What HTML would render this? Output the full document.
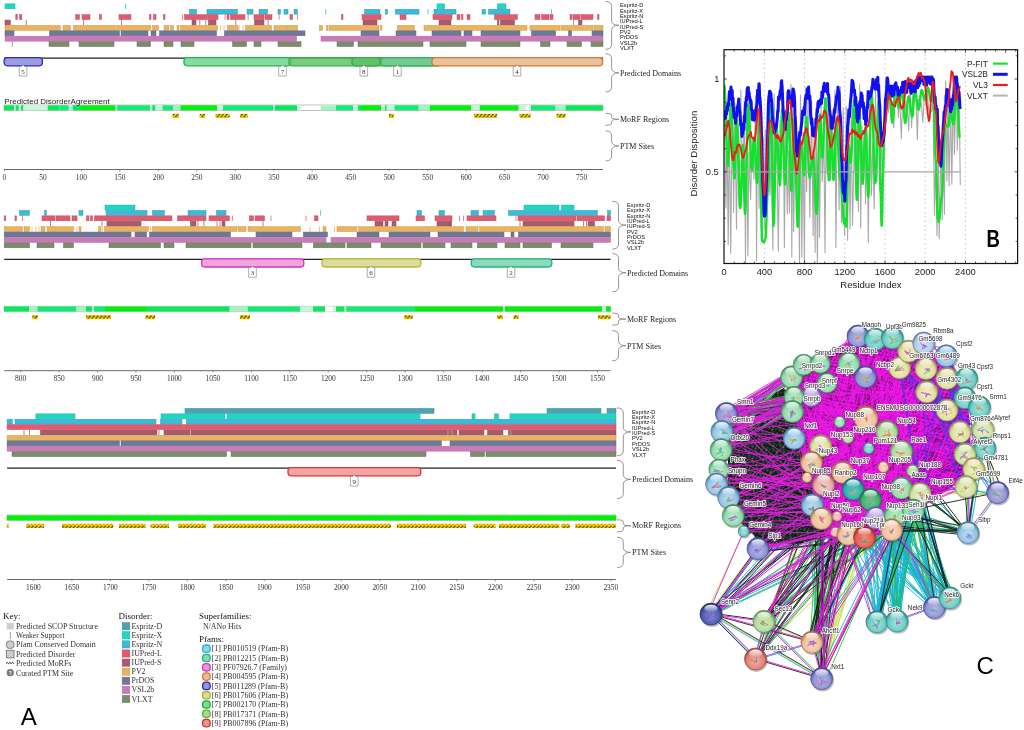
<!DOCTYPE html>
<html><head><meta charset="utf-8"><title>Figure</title><style>
html,body{margin:0;padding:0;background:#fff;}
body{width:1024px;height:730px;overflow:hidden;}
svg{display:block;}
text{font-family:"Liberation Sans",sans-serif;}
.sl{font-size:5.7px;fill:#111;}
.rl{font-family:"Liberation Serif",serif;font-size:8px;fill:#222;}
.ag{font-size:8px;fill:#222;}
.tk{font-family:"Liberation Serif",serif;font-size:7.4px;fill:#333;text-anchor:middle;}
.dl{font-family:"Liberation Serif",serif;font-size:7px;fill:#333;text-anchor:middle;}
.lh{font-family:"Liberation Serif",serif;font-size:9px;fill:#111;}
.li{font-family:"Liberation Serif",serif;font-size:7.9px;fill:#333;}
.q{font-size:5px;fill:#fff;text-anchor:middle;font-weight:bold;}
.big{font-size:24px;fill:#000;}
.bt{font-size:9.3px;fill:#222;text-anchor:middle;}
.bt2{font-size:9.6px;fill:#222;text-anchor:middle;}
.blg{font-size:8.3px;fill:#222;text-anchor:end;}
.bigb{font-size:23px;font-weight:bold;fill:#000;}
.nl{font-size:6.3px;fill:#1e1e1e;text-anchor:middle;paint-order:stroke;stroke:#fff;stroke-width:1.8px;stroke-opacity:0.85;stroke-linejoin:round;}
.bigc{font-size:24px;fill:#000;}
</style></head>
<body>
<svg width="1024" height="730" viewBox="0 0 1024 730">
<defs>
<pattern id="morf" width="3.8" height="4.2" patternUnits="userSpaceOnUse">
<rect width="3.8" height="4.2" fill="#ffd800"/>
<path d="M0.2,3.1 L1.4,3.1 L2.4,1.1 L3.6,1.1" stroke="#3a2e10" stroke-width="1.0" fill="none"/>
</pattern>
</defs>
<g id="panelA">
<rect x="5.0" y="3.85" width="10.0" height="4.90" fill="#1fd7c2" stroke="#19b4a3" stroke-width="0.5"/>
<rect x="125.0" y="3.60" width="1.2" height="5.40" fill="#1fd7c2" opacity="0.75"/>
<rect x="437.0" y="3.85" width="7.5" height="4.90" fill="#1fd7c2" stroke="#19b4a3" stroke-width="0.5"/>
<rect x="497.5" y="3.85" width="8.5" height="4.90" fill="#1fd7c2" stroke="#19b4a3" stroke-width="0.5"/>
<rect x="189.5" y="9.25" width="7.0" height="4.90" fill="#39bbd9" stroke="#2f9db7" stroke-width="0.5"/>
<rect x="207.0" y="9.25" width="30.5" height="4.90" fill="#39bbd9" stroke="#2f9db7" stroke-width="0.5"/>
<rect x="247.0" y="9.25" width="6.0" height="4.90" fill="#39bbd9" stroke="#2f9db7" stroke-width="0.5"/>
<rect x="259.0" y="9.25" width="8.5" height="4.90" fill="#39bbd9" stroke="#2f9db7" stroke-width="0.5"/>
<rect x="278.0" y="9.25" width="2.5" height="4.90" fill="#39bbd9" stroke="#2f9db7" stroke-width="0.5"/>
<rect x="284.0" y="9.25" width="4.0" height="4.90" fill="#39bbd9" stroke="#2f9db7" stroke-width="0.5"/>
<rect x="294.0" y="9.25" width="3.5" height="4.90" fill="#39bbd9" stroke="#2f9db7" stroke-width="0.5"/>
<rect x="325.3" y="9.00" width="1.0" height="5.40" fill="#39bbd9" opacity="0.75"/>
<rect x="364.5" y="9.25" width="15.5" height="4.90" fill="#39bbd9" stroke="#2f9db7" stroke-width="0.5"/>
<rect x="385.5" y="9.25" width="2.0" height="4.90" fill="#39bbd9" stroke="#2f9db7" stroke-width="0.5"/>
<rect x="395.5" y="9.25" width="23.5" height="4.90" fill="#39bbd9" stroke="#2f9db7" stroke-width="0.5"/>
<rect x="427.6" y="9.00" width="1.0" height="5.40" fill="#39bbd9" opacity="0.75"/>
<rect x="434.0" y="9.25" width="22.0" height="4.90" fill="#39bbd9" stroke="#2f9db7" stroke-width="0.5"/>
<rect x="482.0" y="9.25" width="3.5" height="4.90" fill="#39bbd9" stroke="#2f9db7" stroke-width="0.5"/>
<rect x="488.5" y="9.25" width="21.5" height="4.90" fill="#39bbd9" stroke="#2f9db7" stroke-width="0.5"/>
<rect x="551.0" y="9.00" width="1.0" height="5.40" fill="#39bbd9" opacity="0.75"/>
<rect x="15.8" y="14.65" width="1.5" height="4.90" fill="#e05b70" stroke="#bf4b5e" stroke-width="0.5"/>
<rect x="19.5" y="14.65" width="2.4" height="4.90" fill="#e05b70" stroke="#bf4b5e" stroke-width="0.5"/>
<rect x="75.7" y="14.65" width="3.8" height="4.90" fill="#e05b70" stroke="#bf4b5e" stroke-width="0.5"/>
<rect x="82.0" y="14.65" width="8.0" height="4.90" fill="#e05b70" stroke="#bf4b5e" stroke-width="0.5"/>
<rect x="99.5" y="14.65" width="2.0" height="4.90" fill="#e05b70" stroke="#bf4b5e" stroke-width="0.5"/>
<rect x="119.0" y="14.65" width="12.0" height="4.90" fill="#e05b70" stroke="#bf4b5e" stroke-width="0.5"/>
<rect x="149.5" y="14.65" width="1.5" height="4.90" fill="#e05b70" stroke="#bf4b5e" stroke-width="0.5"/>
<rect x="153.5" y="14.65" width="2.5" height="4.90" fill="#e05b70" stroke="#bf4b5e" stroke-width="0.5"/>
<rect x="163.5" y="14.65" width="1.5" height="4.90" fill="#e05b70" stroke="#bf4b5e" stroke-width="0.5"/>
<rect x="182.0" y="14.40" width="1.0" height="5.40" fill="#e05b70" opacity="0.75"/>
<rect x="184.5" y="14.65" width="23.0" height="4.90" fill="#e05b70" stroke="#bf4b5e" stroke-width="0.5"/>
<rect x="208.0" y="14.65" width="10.0" height="4.90" fill="#e05b70" stroke="#bf4b5e" stroke-width="0.5"/>
<rect x="224.5" y="14.40" width="1.0" height="5.40" fill="#e05b70" opacity="0.75"/>
<rect x="227.0" y="14.65" width="2.0" height="4.90" fill="#e05b70" stroke="#bf4b5e" stroke-width="0.5"/>
<rect x="230.5" y="14.65" width="14.5" height="4.90" fill="#e05b70" stroke="#bf4b5e" stroke-width="0.5"/>
<rect x="247.6" y="14.40" width="1.0" height="5.40" fill="#e05b70" opacity="0.75"/>
<rect x="254.0" y="14.65" width="10.0" height="4.90" fill="#e05b70" stroke="#bf4b5e" stroke-width="0.5"/>
<rect x="265.0" y="14.65" width="7.0" height="4.90" fill="#e05b70" stroke="#bf4b5e" stroke-width="0.5"/>
<rect x="278.6" y="14.40" width="1.0" height="5.40" fill="#e05b70" opacity="0.75"/>
<rect x="290.0" y="14.65" width="2.5" height="4.90" fill="#e05b70" stroke="#bf4b5e" stroke-width="0.5"/>
<rect x="297.0" y="14.40" width="1.0" height="5.40" fill="#e05b70" opacity="0.75"/>
<rect x="341.5" y="14.65" width="1.5" height="4.90" fill="#e05b70" stroke="#bf4b5e" stroke-width="0.5"/>
<rect x="362.0" y="14.65" width="19.0" height="4.90" fill="#e05b70" stroke="#bf4b5e" stroke-width="0.5"/>
<rect x="400.0" y="14.65" width="6.0" height="4.90" fill="#e05b70" stroke="#bf4b5e" stroke-width="0.5"/>
<rect x="433.0" y="14.65" width="19.0" height="4.90" fill="#e05b70" stroke="#bf4b5e" stroke-width="0.5"/>
<rect x="457.0" y="14.65" width="3.0" height="4.90" fill="#e05b70" stroke="#bf4b5e" stroke-width="0.5"/>
<rect x="461.5" y="14.65" width="1.5" height="4.90" fill="#e05b70" stroke="#bf4b5e" stroke-width="0.5"/>
<rect x="467.0" y="14.65" width="3.0" height="4.90" fill="#e05b70" stroke="#bf4b5e" stroke-width="0.5"/>
<rect x="494.5" y="14.65" width="23.0" height="4.90" fill="#e05b70" stroke="#bf4b5e" stroke-width="0.5"/>
<rect x="535.0" y="14.65" width="5.0" height="4.90" fill="#e05b70" stroke="#bf4b5e" stroke-width="0.5"/>
<rect x="541.5" y="14.65" width="7.5" height="4.90" fill="#e05b70" stroke="#bf4b5e" stroke-width="0.5"/>
<rect x="550.0" y="14.65" width="3.0" height="4.90" fill="#e05b70" stroke="#bf4b5e" stroke-width="0.5"/>
<rect x="570.0" y="14.65" width="2.0" height="4.90" fill="#e05b70" stroke="#bf4b5e" stroke-width="0.5"/>
<rect x="573.0" y="14.65" width="7.0" height="4.90" fill="#e05b70" stroke="#bf4b5e" stroke-width="0.5"/>
<rect x="581.0" y="14.65" width="12.0" height="4.90" fill="#e05b70" stroke="#bf4b5e" stroke-width="0.5"/>
<rect x="597.5" y="14.65" width="1.5" height="4.90" fill="#e05b70" stroke="#bf4b5e" stroke-width="0.5"/>
<rect x="5.0" y="20.05" width="5.3" height="4.90" fill="#aa5b6b" stroke="#8e4b59" stroke-width="0.5"/>
<rect x="25.7" y="19.80" width="1.1" height="5.40" fill="#aa5b6b" opacity="0.75"/>
<rect x="83.0" y="19.80" width="1.0" height="5.40" fill="#aa5b6b" opacity="0.75"/>
<rect x="121.0" y="19.80" width="1.0" height="5.40" fill="#aa5b6b" opacity="0.75"/>
<rect x="192.0" y="20.05" width="4.0" height="4.90" fill="#aa5b6b" stroke="#8e4b59" stroke-width="0.5"/>
<rect x="199.3" y="19.80" width="1.0" height="5.40" fill="#aa5b6b" opacity="0.75"/>
<rect x="205.3" y="19.80" width="1.0" height="5.40" fill="#aa5b6b" opacity="0.75"/>
<rect x="208.5" y="20.05" width="7.5" height="4.90" fill="#aa5b6b" stroke="#8e4b59" stroke-width="0.5"/>
<rect x="235.3" y="19.80" width="1.0" height="5.40" fill="#aa5b6b" opacity="0.75"/>
<rect x="254.5" y="20.05" width="9.5" height="4.90" fill="#aa5b6b" stroke="#8e4b59" stroke-width="0.5"/>
<rect x="267.6" y="19.80" width="1.0" height="5.40" fill="#aa5b6b" opacity="0.75"/>
<rect x="363.0" y="20.05" width="14.0" height="4.90" fill="#aa5b6b" stroke="#8e4b59" stroke-width="0.5"/>
<rect x="439.0" y="20.05" width="12.0" height="4.90" fill="#aa5b6b" stroke="#8e4b59" stroke-width="0.5"/>
<rect x="497.5" y="20.05" width="1.5" height="4.90" fill="#aa5b6b" stroke="#8e4b59" stroke-width="0.5"/>
<rect x="500.5" y="20.05" width="14.0" height="4.90" fill="#aa5b6b" stroke="#8e4b59" stroke-width="0.5"/>
<rect x="573.0" y="19.80" width="1.0" height="5.40" fill="#aa5b6b" opacity="0.75"/>
<rect x="578.5" y="20.05" width="3.5" height="4.90" fill="#aa5b6b" stroke="#8e4b59" stroke-width="0.5"/>
<rect x="5.0" y="25.45" width="55.5" height="4.90" fill="#e9b35f" stroke="#c8974f" stroke-width="0.5"/>
<rect x="63.0" y="25.45" width="7.5" height="4.90" fill="#e9b35f" stroke="#c8974f" stroke-width="0.5"/>
<rect x="73.5" y="25.45" width="43.0" height="4.90" fill="#e9b35f" stroke="#c8974f" stroke-width="0.5"/>
<rect x="117.5" y="25.45" width="33.3" height="4.90" fill="#e9b35f" stroke="#c8974f" stroke-width="0.5"/>
<rect x="152.5" y="25.45" width="6.0" height="4.90" fill="#e9b35f" stroke="#c8974f" stroke-width="0.5"/>
<rect x="164.0" y="25.45" width="5.0" height="4.90" fill="#e9b35f" stroke="#c8974f" stroke-width="0.5"/>
<rect x="170.5" y="25.45" width="3.0" height="4.90" fill="#e9b35f" stroke="#c8974f" stroke-width="0.5"/>
<rect x="177.0" y="25.45" width="2.0" height="4.90" fill="#e9b35f" stroke="#c8974f" stroke-width="0.5"/>
<rect x="180.5" y="25.45" width="37.0" height="4.90" fill="#e9b35f" stroke="#c8974f" stroke-width="0.5"/>
<rect x="220.0" y="25.20" width="1.0" height="5.40" fill="#e9b35f" opacity="0.75"/>
<rect x="223.5" y="25.20" width="1.0" height="5.40" fill="#e9b35f" opacity="0.75"/>
<rect x="227.5" y="25.45" width="10.5" height="4.90" fill="#e9b35f" stroke="#c8974f" stroke-width="0.5"/>
<rect x="238.6" y="25.20" width="1.2" height="5.40" fill="#e9b35f" opacity="0.75"/>
<rect x="242.5" y="25.20" width="1.0" height="5.40" fill="#e9b35f" opacity="0.75"/>
<rect x="245.5" y="25.45" width="26.0" height="4.90" fill="#e9b35f" stroke="#c8974f" stroke-width="0.5"/>
<rect x="274.0" y="25.45" width="12.5" height="4.90" fill="#e9b35f" stroke="#c8974f" stroke-width="0.5"/>
<rect x="287.0" y="25.45" width="10.5" height="4.90" fill="#e9b35f" stroke="#c8974f" stroke-width="0.5"/>
<rect x="319.5" y="25.45" width="3.0" height="4.90" fill="#e9b35f" stroke="#c8974f" stroke-width="0.5"/>
<rect x="326.5" y="25.45" width="1.5" height="4.90" fill="#e9b35f" stroke="#c8974f" stroke-width="0.5"/>
<rect x="329.0" y="25.45" width="50.0" height="4.90" fill="#e9b35f" stroke="#c8974f" stroke-width="0.5"/>
<rect x="380.5" y="25.45" width="1.5" height="4.90" fill="#e9b35f" stroke="#c8974f" stroke-width="0.5"/>
<rect x="397.5" y="25.45" width="17.0" height="4.90" fill="#e9b35f" stroke="#c8974f" stroke-width="0.5"/>
<rect x="424.0" y="25.45" width="103.0" height="4.90" fill="#e9b35f" stroke="#c8974f" stroke-width="0.5"/>
<rect x="530.0" y="25.45" width="30.0" height="4.90" fill="#e9b35f" stroke="#c8974f" stroke-width="0.5"/>
<rect x="561.0" y="25.45" width="32.0" height="4.90" fill="#e9b35f" stroke="#c8974f" stroke-width="0.5"/>
<rect x="594.0" y="25.45" width="9.0" height="4.90" fill="#e9b35f" stroke="#c8974f" stroke-width="0.5"/>
<rect x="5.0" y="30.85" width="9.0" height="4.90" fill="#6f7898" stroke="#5c6480" stroke-width="0.5"/>
<rect x="49.5" y="30.85" width="70.0" height="4.90" fill="#6f7898" stroke="#5c6480" stroke-width="0.5"/>
<rect x="121.0" y="30.85" width="27.0" height="4.90" fill="#6f7898" stroke="#5c6480" stroke-width="0.5"/>
<rect x="151.0" y="30.85" width="5.0" height="4.90" fill="#6f7898" stroke="#5c6480" stroke-width="0.5"/>
<rect x="159.5" y="30.85" width="57.0" height="4.90" fill="#6f7898" stroke="#5c6480" stroke-width="0.5"/>
<rect x="224.5" y="30.85" width="80.5" height="4.90" fill="#6f7898" stroke="#5c6480" stroke-width="0.5"/>
<rect x="361.0" y="30.85" width="18.0" height="4.90" fill="#6f7898" stroke="#5c6480" stroke-width="0.5"/>
<rect x="396.0" y="30.85" width="20.0" height="4.90" fill="#6f7898" stroke="#5c6480" stroke-width="0.5"/>
<rect x="432.0" y="30.85" width="29.0" height="4.90" fill="#6f7898" stroke="#5c6480" stroke-width="0.5"/>
<rect x="464.0" y="30.85" width="8.0" height="4.90" fill="#6f7898" stroke="#5c6480" stroke-width="0.5"/>
<rect x="481.0" y="30.85" width="39.0" height="4.90" fill="#6f7898" stroke="#5c6480" stroke-width="0.5"/>
<rect x="531.5" y="30.85" width="24.0" height="4.90" fill="#6f7898" stroke="#5c6480" stroke-width="0.5"/>
<rect x="568.5" y="30.85" width="3.0" height="4.90" fill="#6f7898" stroke="#5c6480" stroke-width="0.5"/>
<rect x="592.0" y="30.85" width="11.0" height="4.90" fill="#6f7898" stroke="#5c6480" stroke-width="0.5"/>
<rect x="5.0" y="36.25" width="291.5" height="4.90" fill="#cc79ba" stroke="#ad669d" stroke-width="0.5"/>
<rect x="321.0" y="36.25" width="282.0" height="4.90" fill="#cc79ba" stroke="#ad669d" stroke-width="0.5"/>
<rect x="11.8" y="41.40" width="1.0" height="5.40" fill="#7b8b6b" opacity="0.75"/>
<rect x="49.0" y="41.65" width="20.0" height="4.90" fill="#7b8b6b" stroke="#67755a" stroke-width="0.5"/>
<rect x="79.0" y="41.65" width="35.0" height="4.90" fill="#7b8b6b" stroke="#67755a" stroke-width="0.5"/>
<rect x="137.0" y="41.65" width="13.0" height="4.90" fill="#7b8b6b" stroke="#67755a" stroke-width="0.5"/>
<rect x="150.0" y="41.40" width="1.0" height="5.40" fill="#7b8b6b" opacity="0.75"/>
<rect x="164.0" y="41.65" width="9.0" height="4.90" fill="#7b8b6b" stroke="#67755a" stroke-width="0.5"/>
<rect x="181.0" y="41.65" width="13.0" height="4.90" fill="#7b8b6b" stroke="#67755a" stroke-width="0.5"/>
<rect x="232.5" y="41.65" width="14.0" height="4.90" fill="#7b8b6b" stroke="#67755a" stroke-width="0.5"/>
<rect x="254.0" y="41.65" width="7.0" height="4.90" fill="#7b8b6b" stroke="#67755a" stroke-width="0.5"/>
<rect x="278.0" y="41.65" width="23.0" height="4.90" fill="#7b8b6b" stroke="#67755a" stroke-width="0.5"/>
<rect x="300.0" y="41.40" width="1.0" height="5.40" fill="#7b8b6b" opacity="0.75"/>
<rect x="337.0" y="41.65" width="16.5" height="4.90" fill="#7b8b6b" stroke="#67755a" stroke-width="0.5"/>
<rect x="358.0" y="41.65" width="65.0" height="4.90" fill="#7b8b6b" stroke="#67755a" stroke-width="0.5"/>
<rect x="430.0" y="41.65" width="36.0" height="4.90" fill="#7b8b6b" stroke="#67755a" stroke-width="0.5"/>
<rect x="481.0" y="41.65" width="39.0" height="4.90" fill="#7b8b6b" stroke="#67755a" stroke-width="0.5"/>
<rect x="540.5" y="41.65" width="9.5" height="4.90" fill="#7b8b6b" stroke="#67755a" stroke-width="0.5"/>
<rect x="567.0" y="41.65" width="14.5" height="4.90" fill="#7b8b6b" stroke="#67755a" stroke-width="0.5"/>
<rect x="591.0" y="41.65" width="12.0" height="4.90" fill="#7b8b6b" stroke="#67755a" stroke-width="0.5"/>
<path d="M605.5,1.4 Q611.6,1.4 611.6,6.4 L611.6,20.3 Q611.6,25.3 619.0,25.3 Q611.6,25.3 611.6,30.3 L611.6,44.3 Q611.6,49.3 605.5,49.3" fill="none" stroke="#8a8a8a" stroke-width="0.9"/>
<text x="620" y="7.20" class="sl">Espritz-D</text>
<text x="620" y="12.55" class="sl">Espritz-X</text>
<text x="620" y="17.90" class="sl">Espritz-N</text>
<text x="620" y="23.25" class="sl">IUPred-L</text>
<text x="620" y="28.60" class="sl">IUPred-S</text>
<text x="620" y="33.95" class="sl">PV2</text>
<text x="620" y="39.30" class="sl">PrDOS</text>
<text x="620" y="44.65" class="sl">VSL2b</text>
<text x="620" y="50.00" class="sl">VLXT</text>
<line x1="4" y1="58.1" x2="603" y2="58.1" stroke="#222" stroke-width="1.2"/>
<rect x="4.1" y="57.6" width="38.3" height="8.2" rx="3.2" ry="3.2" fill="#9c9ce0" fill-opacity="1.0" stroke="#2a2ab7" stroke-width="1.3"/>
<rect x="184.0" y="57.6" width="107.0" height="8.2" rx="3.2" ry="3.2" fill="#86dba2" fill-opacity="1.0" stroke="#25b53e" stroke-width="1.3"/>
<rect x="289.0" y="57.6" width="149.0" height="8.2" rx="3.2" ry="3.2" fill="#5fc367" fill-opacity="0.85" stroke="#3bab48" stroke-width="1.3"/>
<rect x="381.0" y="57.6" width="60.0" height="8.2" rx="3.2" ry="3.2" fill="#72c992" fill-opacity="0.8" stroke="#33b262" stroke-width="1.3"/>
<rect x="432.0" y="57.6" width="170.6" height="8.2" rx="3.2" ry="3.2" fill="#e9c09d" fill-opacity="1.0" stroke="#d57a2b" stroke-width="1.3"/>
<rect x="352.0" y="57.6" width="28.0" height="8.2" rx="3.2" ry="3.2" fill="#5fc367" fill-opacity="1.0" stroke="#3bab48" stroke-width="1.3"/>
<path d="M19.2,66.4 L21.6,66.4 L23.0,64.8 L24.4,66.4 L26.8,66.4 L26.8,76.0 L19.2,76.0 Z" fill="#fff" stroke="#777" stroke-width="0.6"/><text x="23.0" y="73.6" class="dl">5</text>
<path d="M278.7,66.4 L281.1,66.4 L282.5,64.8 L283.9,66.4 L286.3,66.4 L286.3,76.0 L278.7,76.0 Z" fill="#fff" stroke="#777" stroke-width="0.6"/><text x="282.5" y="73.6" class="dl">7</text>
<path d="M360.0,66.4 L362.4,66.4 L363.8,64.8 L365.2,66.4 L367.6,66.4 L367.6,76.0 L360.0,76.0 Z" fill="#fff" stroke="#777" stroke-width="0.6"/><text x="363.8" y="73.6" class="dl">8</text>
<path d="M393.6,66.4 L396.0,66.4 L397.4,64.8 L398.8,66.4 L401.2,66.4 L401.2,76.0 L393.6,76.0 Z" fill="#fff" stroke="#777" stroke-width="0.6"/><text x="397.4" y="73.6" class="dl">1</text>
<path d="M513.2,66.4 L515.6,66.4 L517.0,64.8 L518.4,66.4 L520.8,66.4 L520.8,76.0 L513.2,76.0 Z" fill="#fff" stroke="#777" stroke-width="0.6"/><text x="517.0" y="73.6" class="dl">4</text>
<path d="M605.5,53.8 Q611.6,53.8 611.6,58.8 L611.6,67.9 Q611.6,72.9 619.0,72.9 Q611.6,72.9 611.6,77.9 L611.6,87.0 Q611.6,92.0 605.5,92.0" fill="none" stroke="#8a8a8a" stroke-width="0.9"/>
<text x="620" y="75.9" class="rl">Predicted Domains</text>
<rect x="4" y="105.0" width="599" height="5.6" fill="#fff" stroke="#9a9a9a" stroke-width="0.6"/>
<rect x="4.0" y="105.3" width="10.0" height="5.0" fill="#08e858"/>
<rect x="14.0" y="105.3" width="1.6" height="5.0" fill="#c6f8da"/>
<rect x="15.6" y="105.3" width="3.2" height="5.0" fill="#08e858"/>
<rect x="18.8" y="105.3" width="2.2" height="5.0" fill="#c6f8da"/>
<rect x="21.0" y="105.3" width="2.4" height="5.0" fill="#08e858"/>
<rect x="23.4" y="105.3" width="24.3" height="5.0" fill="#c6f8da"/>
<rect x="47.7" y="105.3" width="11.7" height="5.0" fill="#08e858"/>
<rect x="59.4" y="105.3" width="9.4" height="5.0" fill="#12ea72"/>
<rect x="68.8" y="105.3" width="3.8" height="5.0" fill="#c6f8da"/>
<rect x="72.6" y="105.3" width="8.4" height="5.0" fill="#08e858"/>
<rect x="81.0" y="105.3" width="34.6" height="5.0" fill="#04f00c"/>
<rect x="115.6" y="105.3" width="1.6" height="5.0" fill="#c6f8da"/>
<rect x="117.2" y="105.3" width="32.8" height="5.0" fill="#12ea72"/>
<rect x="150.0" y="105.3" width="2.3" height="5.0" fill="#c6f8da"/>
<rect x="152.3" y="105.3" width="3.2" height="5.0" fill="#08e858"/>
<rect x="155.5" y="105.3" width="7.0" height="5.0" fill="#c6f8da"/>
<rect x="162.5" y="105.3" width="10.9" height="5.0" fill="#12ea72"/>
<rect x="173.4" y="105.3" width="7.1" height="5.0" fill="#a2f4c0"/>
<rect x="180.5" y="105.3" width="36.5" height="5.0" fill="#04f00c"/>
<rect x="217.0" y="105.3" width="6.0" height="5.0" fill="#c6f8da"/>
<rect x="223.0" y="105.3" width="50.0" height="5.0" fill="#12ea72"/>
<rect x="273.0" y="105.3" width="2.0" height="5.0" fill="#c6f8da"/>
<rect x="275.0" y="105.3" width="22.0" height="5.0" fill="#08e858"/>
<rect x="297.0" y="105.3" width="3.8" height="5.0" fill="#c6f8da"/>
<rect x="321.0" y="105.3" width="15.0" height="5.0" fill="#a2f4c0"/>
<rect x="336.0" y="105.3" width="17.0" height="5.0" fill="#12ea72"/>
<rect x="353.0" y="105.3" width="5.0" height="5.0" fill="#c6f8da"/>
<rect x="358.0" y="105.3" width="3.0" height="5.0" fill="#08e858"/>
<rect x="361.0" y="105.3" width="20.0" height="5.0" fill="#04f00c"/>
<rect x="381.0" y="105.3" width="4.0" height="5.0" fill="#c6f8da"/>
<rect x="385.0" y="105.3" width="1.7" height="5.0" fill="#08e858"/>
<rect x="386.7" y="105.3" width="7.8" height="5.0" fill="#c6f8da"/>
<rect x="394.5" y="105.3" width="24.2" height="5.0" fill="#12ea72"/>
<rect x="418.7" y="105.3" width="11.0" height="5.0" fill="#a2f4c0"/>
<rect x="429.7" y="105.3" width="41.3" height="5.0" fill="#04f00c"/>
<rect x="471.0" y="105.3" width="8.7" height="5.0" fill="#c6f8da"/>
<rect x="479.7" y="105.3" width="39.0" height="5.0" fill="#04f00c"/>
<rect x="518.7" y="105.3" width="7.3" height="5.0" fill="#c6f8da"/>
<rect x="526.0" y="105.3" width="3.0" height="5.0" fill="#ffffff"/>
<rect x="529.0" y="105.3" width="2.0" height="5.0" fill="#c6f8da"/>
<rect x="531.0" y="105.3" width="24.5" height="5.0" fill="#12ea72"/>
<rect x="555.5" y="105.3" width="10.1" height="5.0" fill="#a2f4c0"/>
<rect x="565.6" y="105.3" width="37.4" height="5.0" fill="#08e858"/>
<rect x="172.7" y="113.8" width="6.3" height="4.2" fill="url(#morf)"/>
<rect x="199.7" y="113.8" width="5.3" height="4.2" fill="url(#morf)"/>
<rect x="215.6" y="113.8" width="14.1" height="4.2" fill="url(#morf)"/>
<rect x="240.3" y="113.8" width="7.4" height="4.2" fill="url(#morf)"/>
<rect x="389.0" y="113.8" width="4.7" height="4.2" fill="url(#morf)"/>
<rect x="474.0" y="113.8" width="23.0" height="4.2" fill="url(#morf)"/>
<rect x="519.5" y="113.8" width="11.0" height="4.2" fill="url(#morf)"/>
<rect x="556.7" y="113.8" width="8.9" height="4.2" fill="url(#morf)"/>
<path d="M605.5,113.3 Q611.6,113.3 611.6,115.3 L611.6,117.3 Q611.6,119.3 619.0,119.3 Q611.6,119.3 611.6,121.3 L611.6,123.3 Q611.6,125.3 605.5,125.3" fill="none" stroke="#8a8a8a" stroke-width="0.9"/>
<text x="620" y="121.8" class="rl">MoRF Regions</text>
<path d="M605.5,130.8 Q611.6,130.8 611.6,135.8 L611.6,140.9 Q611.6,145.9 619.0,145.9 Q611.6,145.9 611.6,150.9 L611.6,156.0 Q611.6,161.0 605.5,161.0" fill="none" stroke="#8a8a8a" stroke-width="0.9"/>
<text x="620" y="148.9" class="rl">PTM Sites</text>
<line x1="4" y1="169.5" x2="603" y2="169.5" stroke="#6a6a6a" stroke-width="1"/>
<line x1="4.4" y1="169.5" x2="4.4" y2="171.3" stroke="#6a6a6a" stroke-width="0.7"/>
<text x="4.4" y="179.8" class="tk">0</text>
<line x1="42.9" y1="169.5" x2="42.9" y2="171.3" stroke="#6a6a6a" stroke-width="0.7"/>
<text x="42.9" y="179.8" class="tk">50</text>
<line x1="81.4" y1="169.5" x2="81.4" y2="171.3" stroke="#6a6a6a" stroke-width="0.7"/>
<text x="81.4" y="179.8" class="tk">100</text>
<line x1="119.8" y1="169.5" x2="119.8" y2="171.3" stroke="#6a6a6a" stroke-width="0.7"/>
<text x="119.8" y="179.8" class="tk">150</text>
<line x1="158.3" y1="169.5" x2="158.3" y2="171.3" stroke="#6a6a6a" stroke-width="0.7"/>
<text x="158.3" y="179.8" class="tk">200</text>
<line x1="196.8" y1="169.5" x2="196.8" y2="171.3" stroke="#6a6a6a" stroke-width="0.7"/>
<text x="196.8" y="179.8" class="tk">250</text>
<line x1="235.3" y1="169.5" x2="235.3" y2="171.3" stroke="#6a6a6a" stroke-width="0.7"/>
<text x="235.3" y="179.8" class="tk">300</text>
<line x1="273.8" y1="169.5" x2="273.8" y2="171.3" stroke="#6a6a6a" stroke-width="0.7"/>
<text x="273.8" y="179.8" class="tk">350</text>
<line x1="312.2" y1="169.5" x2="312.2" y2="171.3" stroke="#6a6a6a" stroke-width="0.7"/>
<text x="312.2" y="179.8" class="tk">400</text>
<line x1="350.7" y1="169.5" x2="350.7" y2="171.3" stroke="#6a6a6a" stroke-width="0.7"/>
<text x="350.7" y="179.8" class="tk">450</text>
<line x1="389.2" y1="169.5" x2="389.2" y2="171.3" stroke="#6a6a6a" stroke-width="0.7"/>
<text x="389.2" y="179.8" class="tk">500</text>
<line x1="427.7" y1="169.5" x2="427.7" y2="171.3" stroke="#6a6a6a" stroke-width="0.7"/>
<text x="427.7" y="179.8" class="tk">550</text>
<line x1="466.2" y1="169.5" x2="466.2" y2="171.3" stroke="#6a6a6a" stroke-width="0.7"/>
<text x="466.2" y="179.8" class="tk">600</text>
<line x1="504.6" y1="169.5" x2="504.6" y2="171.3" stroke="#6a6a6a" stroke-width="0.7"/>
<text x="504.6" y="179.8" class="tk">650</text>
<line x1="543.1" y1="169.5" x2="543.1" y2="171.3" stroke="#6a6a6a" stroke-width="0.7"/>
<text x="543.1" y="179.8" class="tk">700</text>
<line x1="581.6" y1="169.5" x2="581.6" y2="171.3" stroke="#6a6a6a" stroke-width="0.7"/>
<text x="581.6" y="179.8" class="tk">750</text>
<text x="4.3" y="103.6" class="ag">Predicted DisorderAgreement</text>
<rect x="105.0" y="205.05" width="30.0" height="4.90" fill="#1fd7c2" stroke="#19b4a3" stroke-width="0.5"/>
<rect x="524.0" y="205.05" width="35.0" height="4.90" fill="#1fd7c2" stroke="#19b4a3" stroke-width="0.5"/>
<rect x="561.5" y="205.05" width="12.5" height="4.90" fill="#1fd7c2" stroke="#19b4a3" stroke-width="0.5"/>
<rect x="19.5" y="210.45" width="10.0" height="4.90" fill="#39bbd9" stroke="#2f9db7" stroke-width="0.5"/>
<rect x="44.5" y="210.45" width="2.0" height="4.90" fill="#39bbd9" stroke="#2f9db7" stroke-width="0.5"/>
<rect x="79.0" y="210.45" width="4.0" height="4.90" fill="#39bbd9" stroke="#2f9db7" stroke-width="0.5"/>
<rect x="106.0" y="210.45" width="41.0" height="4.90" fill="#39bbd9" stroke="#2f9db7" stroke-width="0.5"/>
<rect x="152.5" y="210.45" width="12.0" height="4.90" fill="#39bbd9" stroke="#2f9db7" stroke-width="0.5"/>
<rect x="188.0" y="210.45" width="18.0" height="4.90" fill="#39bbd9" stroke="#2f9db7" stroke-width="0.5"/>
<rect x="216.5" y="210.45" width="9.5" height="4.90" fill="#39bbd9" stroke="#2f9db7" stroke-width="0.5"/>
<rect x="320.0" y="210.20" width="1.0" height="5.40" fill="#39bbd9" opacity="0.75"/>
<rect x="417.0" y="210.45" width="4.5" height="4.90" fill="#39bbd9" stroke="#2f9db7" stroke-width="0.5"/>
<rect x="439.0" y="210.45" width="5.5" height="4.90" fill="#39bbd9" stroke="#2f9db7" stroke-width="0.5"/>
<rect x="471.0" y="210.45" width="7.5" height="4.90" fill="#39bbd9" stroke="#2f9db7" stroke-width="0.5"/>
<rect x="483.0" y="210.45" width="11.5" height="4.90" fill="#39bbd9" stroke="#2f9db7" stroke-width="0.5"/>
<rect x="508.5" y="210.45" width="89.0" height="4.90" fill="#39bbd9" stroke="#2f9db7" stroke-width="0.5"/>
<rect x="607.5" y="210.45" width="3.0" height="4.90" fill="#39bbd9" stroke="#2f9db7" stroke-width="0.5"/>
<rect x="4.2" y="215.85" width="1.6" height="4.90" fill="#e05b70" stroke="#bf4b5e" stroke-width="0.5"/>
<rect x="15.0" y="215.85" width="1.5" height="4.90" fill="#e05b70" stroke="#bf4b5e" stroke-width="0.5"/>
<rect x="22.0" y="215.60" width="1.0" height="5.40" fill="#e05b70" opacity="0.75"/>
<rect x="42.0" y="215.85" width="13.0" height="4.90" fill="#e05b70" stroke="#bf4b5e" stroke-width="0.5"/>
<rect x="56.0" y="215.85" width="14.0" height="4.90" fill="#e05b70" stroke="#bf4b5e" stroke-width="0.5"/>
<rect x="72.0" y="215.85" width="2.5" height="4.90" fill="#e05b70" stroke="#bf4b5e" stroke-width="0.5"/>
<rect x="75.0" y="215.85" width="2.0" height="4.90" fill="#e05b70" stroke="#bf4b5e" stroke-width="0.5"/>
<rect x="86.5" y="215.85" width="2.5" height="4.90" fill="#e05b70" stroke="#bf4b5e" stroke-width="0.5"/>
<rect x="90.5" y="215.85" width="2.0" height="4.90" fill="#e05b70" stroke="#bf4b5e" stroke-width="0.5"/>
<rect x="94.5" y="215.85" width="77.5" height="4.90" fill="#e05b70" stroke="#bf4b5e" stroke-width="0.5"/>
<rect x="177.5" y="215.85" width="28.5" height="4.90" fill="#e05b70" stroke="#bf4b5e" stroke-width="0.5"/>
<rect x="209.0" y="215.85" width="20.5" height="4.90" fill="#e05b70" stroke="#bf4b5e" stroke-width="0.5"/>
<rect x="232.0" y="215.60" width="1.0" height="5.40" fill="#e05b70" opacity="0.75"/>
<rect x="249.5" y="215.85" width="4.0" height="4.90" fill="#e05b70" stroke="#bf4b5e" stroke-width="0.5"/>
<rect x="255.0" y="215.85" width="9.5" height="4.90" fill="#e05b70" stroke="#bf4b5e" stroke-width="0.5"/>
<rect x="270.5" y="215.60" width="1.0" height="5.40" fill="#e05b70" opacity="0.75"/>
<rect x="305.5" y="215.60" width="1.0" height="5.40" fill="#e05b70" opacity="0.75"/>
<rect x="314.5" y="215.85" width="3.5" height="4.90" fill="#e05b70" stroke="#bf4b5e" stroke-width="0.5"/>
<rect x="367.0" y="215.85" width="32.0" height="4.90" fill="#e05b70" stroke="#bf4b5e" stroke-width="0.5"/>
<rect x="416.0" y="215.85" width="8.5" height="4.90" fill="#e05b70" stroke="#bf4b5e" stroke-width="0.5"/>
<rect x="435.0" y="215.85" width="17.0" height="4.90" fill="#e05b70" stroke="#bf4b5e" stroke-width="0.5"/>
<rect x="459.0" y="215.60" width="1.0" height="5.40" fill="#e05b70" opacity="0.75"/>
<rect x="463.0" y="215.60" width="1.0" height="5.40" fill="#e05b70" opacity="0.75"/>
<rect x="467.0" y="215.85" width="29.0" height="4.90" fill="#e05b70" stroke="#bf4b5e" stroke-width="0.5"/>
<rect x="515.5" y="215.60" width="1.0" height="5.40" fill="#e05b70" opacity="0.75"/>
<rect x="518.0" y="215.85" width="58.0" height="4.90" fill="#e05b70" stroke="#bf4b5e" stroke-width="0.5"/>
<rect x="577.0" y="215.85" width="27.5" height="4.90" fill="#e05b70" stroke="#bf4b5e" stroke-width="0.5"/>
<rect x="607.0" y="215.85" width="3.5" height="4.90" fill="#e05b70" stroke="#bf4b5e" stroke-width="0.5"/>
<rect x="50.0" y="221.00" width="1.0" height="5.40" fill="#aa5b6b" opacity="0.75"/>
<rect x="101.5" y="221.00" width="1.0" height="5.40" fill="#aa5b6b" opacity="0.75"/>
<rect x="107.0" y="221.25" width="34.0" height="4.90" fill="#aa5b6b" stroke="#8e4b59" stroke-width="0.5"/>
<rect x="190.5" y="221.25" width="5.5" height="4.90" fill="#aa5b6b" stroke="#8e4b59" stroke-width="0.5"/>
<rect x="197.5" y="221.00" width="1.0" height="5.40" fill="#aa5b6b" opacity="0.75"/>
<rect x="203.5" y="221.00" width="1.0" height="5.40" fill="#aa5b6b" opacity="0.75"/>
<rect x="216.5" y="221.00" width="1.0" height="5.40" fill="#aa5b6b" opacity="0.75"/>
<rect x="219.5" y="221.00" width="1.0" height="5.40" fill="#aa5b6b" opacity="0.75"/>
<rect x="222.0" y="221.25" width="3.0" height="4.90" fill="#aa5b6b" stroke="#8e4b59" stroke-width="0.5"/>
<rect x="262.5" y="221.00" width="1.0" height="5.40" fill="#aa5b6b" opacity="0.75"/>
<rect x="375.0" y="221.25" width="8.0" height="4.90" fill="#aa5b6b" stroke="#8e4b59" stroke-width="0.5"/>
<rect x="385.0" y="221.25" width="3.0" height="4.90" fill="#aa5b6b" stroke="#8e4b59" stroke-width="0.5"/>
<rect x="392.0" y="221.25" width="4.0" height="4.90" fill="#aa5b6b" stroke="#8e4b59" stroke-width="0.5"/>
<rect x="437.0" y="221.25" width="14.0" height="4.90" fill="#aa5b6b" stroke="#8e4b59" stroke-width="0.5"/>
<rect x="450.0" y="221.25" width="1.5" height="4.90" fill="#aa5b6b" stroke="#8e4b59" stroke-width="0.5"/>
<rect x="519.5" y="221.00" width="1.0" height="5.40" fill="#aa5b6b" opacity="0.75"/>
<rect x="523.0" y="221.25" width="51.0" height="4.90" fill="#aa5b6b" stroke="#8e4b59" stroke-width="0.5"/>
<rect x="583.0" y="221.00" width="1.0" height="5.40" fill="#aa5b6b" opacity="0.75"/>
<rect x="586.0" y="221.00" width="1.0" height="5.40" fill="#aa5b6b" opacity="0.75"/>
<rect x="588.0" y="221.25" width="6.5" height="4.90" fill="#aa5b6b" stroke="#8e4b59" stroke-width="0.5"/>
<rect x="4.2" y="226.65" width="18.3" height="4.90" fill="#e9b35f" stroke="#c8974f" stroke-width="0.5"/>
<rect x="24.0" y="226.65" width="5.5" height="4.90" fill="#e9b35f" stroke="#c8974f" stroke-width="0.5"/>
<rect x="31.5" y="226.40" width="1.0" height="5.40" fill="#e9b35f" opacity="0.75"/>
<rect x="35.5" y="226.40" width="1.0" height="5.40" fill="#e9b35f" opacity="0.75"/>
<rect x="38.5" y="226.40" width="1.0" height="5.40" fill="#e9b35f" opacity="0.75"/>
<rect x="41.0" y="226.65" width="4.0" height="4.90" fill="#e9b35f" stroke="#c8974f" stroke-width="0.5"/>
<rect x="47.0" y="226.65" width="26.5" height="4.90" fill="#e9b35f" stroke="#c8974f" stroke-width="0.5"/>
<rect x="76.5" y="226.40" width="1.0" height="5.40" fill="#e9b35f" opacity="0.75"/>
<rect x="79.0" y="226.65" width="2.0" height="4.90" fill="#e9b35f" stroke="#c8974f" stroke-width="0.5"/>
<rect x="98.5" y="226.65" width="2.5" height="4.90" fill="#e9b35f" stroke="#c8974f" stroke-width="0.5"/>
<rect x="102.0" y="226.40" width="1.0" height="5.40" fill="#e9b35f" opacity="0.75"/>
<rect x="104.5" y="226.65" width="44.0" height="4.90" fill="#e9b35f" stroke="#c8974f" stroke-width="0.5"/>
<rect x="150.0" y="226.40" width="1.0" height="5.40" fill="#e9b35f" opacity="0.75"/>
<rect x="152.5" y="226.65" width="84.5" height="4.90" fill="#e9b35f" stroke="#c8974f" stroke-width="0.5"/>
<rect x="238.0" y="226.65" width="8.0" height="4.90" fill="#e9b35f" stroke="#c8974f" stroke-width="0.5"/>
<rect x="248.0" y="226.65" width="52.5" height="4.90" fill="#e9b35f" stroke="#c8974f" stroke-width="0.5"/>
<rect x="309.5" y="226.40" width="1.0" height="5.40" fill="#e9b35f" opacity="0.75"/>
<rect x="319.0" y="226.40" width="1.0" height="5.40" fill="#e9b35f" opacity="0.75"/>
<rect x="323.0" y="226.65" width="3.0" height="4.90" fill="#e9b35f" stroke="#c8974f" stroke-width="0.5"/>
<rect x="334.0" y="226.40" width="1.0" height="5.40" fill="#e9b35f" opacity="0.75"/>
<rect x="337.0" y="226.65" width="20.0" height="4.90" fill="#e9b35f" stroke="#c8974f" stroke-width="0.5"/>
<rect x="358.5" y="226.65" width="67.0" height="4.90" fill="#e9b35f" stroke="#c8974f" stroke-width="0.5"/>
<rect x="426.5" y="226.65" width="37.0" height="4.90" fill="#e9b35f" stroke="#c8974f" stroke-width="0.5"/>
<rect x="466.0" y="226.65" width="12.0" height="4.90" fill="#e9b35f" stroke="#c8974f" stroke-width="0.5"/>
<rect x="479.5" y="226.65" width="124.0" height="4.90" fill="#e9b35f" stroke="#c8974f" stroke-width="0.5"/>
<rect x="605.0" y="226.65" width="5.5" height="4.90" fill="#e9b35f" stroke="#c8974f" stroke-width="0.5"/>
<rect x="4.2" y="232.05" width="126.8" height="4.90" fill="#6f7898" stroke="#5c6480" stroke-width="0.5"/>
<rect x="135.0" y="232.05" width="11.5" height="4.90" fill="#6f7898" stroke="#5c6480" stroke-width="0.5"/>
<rect x="149.5" y="232.05" width="81.0" height="4.90" fill="#6f7898" stroke="#5c6480" stroke-width="0.5"/>
<rect x="256.0" y="232.05" width="36.0" height="4.90" fill="#6f7898" stroke="#5c6480" stroke-width="0.5"/>
<rect x="303.5" y="232.05" width="24.0" height="4.90" fill="#6f7898" stroke="#5c6480" stroke-width="0.5"/>
<rect x="357.0" y="232.05" width="22.0" height="4.90" fill="#6f7898" stroke="#5c6480" stroke-width="0.5"/>
<rect x="389.0" y="232.05" width="41.0" height="4.90" fill="#6f7898" stroke="#5c6480" stroke-width="0.5"/>
<rect x="438.0" y="232.05" width="66.0" height="4.90" fill="#6f7898" stroke="#5c6480" stroke-width="0.5"/>
<rect x="511.0" y="232.05" width="3.0" height="4.90" fill="#6f7898" stroke="#5c6480" stroke-width="0.5"/>
<rect x="518.5" y="232.05" width="92.0" height="4.90" fill="#6f7898" stroke="#5c6480" stroke-width="0.5"/>
<rect x="4.2" y="237.45" width="321.8" height="4.90" fill="#cc79ba" stroke="#ad669d" stroke-width="0.5"/>
<rect x="331.0" y="237.45" width="279.5" height="4.90" fill="#cc79ba" stroke="#ad669d" stroke-width="0.5"/>
<rect x="4.2" y="242.85" width="25.3" height="4.90" fill="#7b8b6b" stroke="#67755a" stroke-width="0.5"/>
<rect x="37.0" y="242.85" width="17.0" height="4.90" fill="#7b8b6b" stroke="#67755a" stroke-width="0.5"/>
<rect x="63.5" y="242.85" width="10.0" height="4.90" fill="#7b8b6b" stroke="#67755a" stroke-width="0.5"/>
<rect x="109.0" y="242.85" width="51.5" height="4.90" fill="#7b8b6b" stroke="#67755a" stroke-width="0.5"/>
<rect x="164.0" y="242.85" width="10.0" height="4.90" fill="#7b8b6b" stroke="#67755a" stroke-width="0.5"/>
<rect x="186.0" y="242.85" width="65.0" height="4.90" fill="#7b8b6b" stroke="#67755a" stroke-width="0.5"/>
<rect x="253.0" y="242.85" width="49.0" height="4.90" fill="#7b8b6b" stroke="#67755a" stroke-width="0.5"/>
<rect x="313.5" y="242.85" width="31.5" height="4.90" fill="#7b8b6b" stroke="#67755a" stroke-width="0.5"/>
<rect x="347.0" y="242.85" width="24.0" height="4.90" fill="#7b8b6b" stroke="#67755a" stroke-width="0.5"/>
<rect x="381.0" y="242.85" width="40.0" height="4.90" fill="#7b8b6b" stroke="#67755a" stroke-width="0.5"/>
<rect x="423.0" y="242.85" width="22.0" height="4.90" fill="#7b8b6b" stroke="#67755a" stroke-width="0.5"/>
<rect x="451.0" y="242.85" width="21.0" height="4.90" fill="#7b8b6b" stroke="#67755a" stroke-width="0.5"/>
<rect x="477.5" y="242.85" width="19.5" height="4.90" fill="#7b8b6b" stroke="#67755a" stroke-width="0.5"/>
<rect x="505.0" y="242.85" width="15.0" height="4.90" fill="#7b8b6b" stroke="#67755a" stroke-width="0.5"/>
<rect x="523.0" y="242.85" width="28.5" height="4.90" fill="#7b8b6b" stroke="#67755a" stroke-width="0.5"/>
<rect x="561.0" y="242.85" width="32.0" height="4.90" fill="#7b8b6b" stroke="#67755a" stroke-width="0.5"/>
<path d="M612.3,201.2 Q618.5,201.2 618.5,206.2 L618.5,220.1 Q618.5,225.1 626.0,225.1 Q618.5,225.1 618.5,230.1 L618.5,244.1 Q618.5,249.1 612.3,249.1" fill="none" stroke="#8a8a8a" stroke-width="0.9"/>
<text x="627" y="207.00" class="sl">Espritz-D</text>
<text x="627" y="212.35" class="sl">Espritz-X</text>
<text x="627" y="217.70" class="sl">Espritz-N</text>
<text x="627" y="223.05" class="sl">IUPred-L</text>
<text x="627" y="228.40" class="sl">IUPred-S</text>
<text x="627" y="233.75" class="sl">PV2</text>
<text x="627" y="239.10" class="sl">PrDOS</text>
<text x="627" y="244.45" class="sl">VSL2b</text>
<text x="627" y="249.80" class="sl">VLXT</text>
<line x1="4.2" y1="259.3" x2="610.5" y2="259.3" stroke="#222" stroke-width="1.2"/>
<rect x="201.6" y="258.8" width="102.2" height="8.2" rx="3.2" ry="3.2" fill="#f1a4de" fill-opacity="1.0" stroke="#d234bb" stroke-width="1.3"/>
<rect x="322.0" y="258.8" width="98.8" height="8.2" rx="3.2" ry="3.2" fill="#dcdc9c" fill-opacity="1.0" stroke="#b8b834" stroke-width="1.3"/>
<rect x="471.3" y="258.8" width="80.5" height="8.2" rx="3.2" ry="3.2" fill="#8ad9b9" fill-opacity="1.0" stroke="#1eb77f" stroke-width="1.3"/>
<path d="M248.7,267.6 L251.1,267.6 L252.5,266.0 L253.9,267.6 L256.3,267.6 L256.3,277.2 L248.7,277.2 Z" fill="#fff" stroke="#777" stroke-width="0.6"/><text x="252.5" y="274.8" class="dl">3</text>
<path d="M367.2,267.6 L369.6,267.6 L371.0,266.0 L372.4,267.6 L374.8,267.6 L374.8,277.2 L367.2,277.2 Z" fill="#fff" stroke="#777" stroke-width="0.6"/><text x="371.0" y="274.8" class="dl">6</text>
<path d="M507.2,267.6 L509.6,267.6 L511.0,266.0 L512.4,267.6 L514.8,267.6 L514.8,277.2 L507.2,277.2 Z" fill="#fff" stroke="#777" stroke-width="0.6"/><text x="511.0" y="274.8" class="dl">2</text>
<path d="M612.3,253.6 Q618.5,253.6 618.5,258.6 L618.5,267.7 Q618.5,272.7 626.0,272.7 Q618.5,272.7 618.5,277.7 L618.5,286.8 Q618.5,291.8 612.3,291.8" fill="none" stroke="#8a8a8a" stroke-width="0.9"/>
<text x="627" y="275.7" class="rl">Predicted Domains</text>
<rect x="4.2" y="306.2" width="606.3" height="5.6" fill="#fff" stroke="#9a9a9a" stroke-width="0.6"/>
<rect x="4.0" y="306.5" width="25.0" height="5.0" fill="#08e858"/>
<rect x="29.0" y="306.5" width="8.5" height="5.0" fill="#a2f4c0"/>
<rect x="37.5" y="306.5" width="39.0" height="5.0" fill="#12ea72"/>
<rect x="76.5" y="306.5" width="9.5" height="5.0" fill="#a2f4c0"/>
<rect x="86.0" y="306.5" width="6.0" height="5.0" fill="#08e858"/>
<rect x="92.0" y="306.5" width="2.0" height="5.0" fill="#c6f8da"/>
<rect x="94.0" y="306.5" width="11.0" height="5.0" fill="#12ea72"/>
<rect x="105.0" y="306.5" width="42.0" height="5.0" fill="#04f00c"/>
<rect x="147.0" y="306.5" width="82.7" height="5.0" fill="#08e858"/>
<rect x="229.7" y="306.5" width="18.0" height="5.0" fill="#a2f4c0"/>
<rect x="247.7" y="306.5" width="52.3" height="5.0" fill="#12ea72"/>
<rect x="300.0" y="306.5" width="13.0" height="5.0" fill="#c6f8da"/>
<rect x="313.0" y="306.5" width="12.0" height="5.0" fill="#08e858"/>
<rect x="325.0" y="306.5" width="7.8" height="5.0" fill="#ffffff"/>
<rect x="332.8" y="306.5" width="3.2" height="5.0" fill="#c6f8da"/>
<rect x="336.0" y="306.5" width="8.6" height="5.0" fill="#08e858"/>
<rect x="344.6" y="306.5" width="1.6" height="5.0" fill="#c6f8da"/>
<rect x="346.2" y="306.5" width="68.8" height="5.0" fill="#12ea72"/>
<rect x="415.0" y="306.5" width="88.0" height="5.0" fill="#04f00c"/>
<rect x="503.0" y="306.5" width="2.0" height="5.0" fill="#c6f8da"/>
<rect x="505.0" y="306.5" width="97.0" height="5.0" fill="#04f00c"/>
<rect x="602.0" y="306.5" width="4.0" height="5.0" fill="#c6f8da"/>
<rect x="606.0" y="306.5" width="4.5" height="5.0" fill="#04f00c"/>
<rect x="32.3" y="315.0" width="5.7" height="4.2" fill="url(#morf)"/>
<rect x="86.0" y="315.0" width="25.0" height="4.2" fill="url(#morf)"/>
<rect x="145.6" y="315.0" width="9.4" height="4.2" fill="url(#morf)"/>
<rect x="239.8" y="315.0" width="10.2" height="4.2" fill="url(#morf)"/>
<rect x="404.4" y="315.0" width="8.4" height="4.2" fill="url(#morf)"/>
<rect x="497.0" y="315.0" width="5.8" height="4.2" fill="url(#morf)"/>
<rect x="513.6" y="315.0" width="5.0" height="4.2" fill="url(#morf)"/>
<rect x="598.0" y="315.0" width="12.5" height="4.2" fill="url(#morf)"/>
<path d="M612.3,313.1 Q618.5,313.1 618.5,315.1 L618.5,317.1 Q618.5,319.1 626.0,319.1 Q618.5,319.1 618.5,321.1 L618.5,323.1 Q618.5,325.1 612.3,325.1" fill="none" stroke="#8a8a8a" stroke-width="0.9"/>
<text x="627" y="321.6" class="rl">MoRF Regions</text>
<path d="M612.3,330.6 Q618.5,330.6 618.5,335.6 L618.5,340.7 Q618.5,345.7 626.0,345.7 Q618.5,345.7 618.5,350.7 L618.5,355.8 Q618.5,360.8 612.3,360.8" fill="none" stroke="#8a8a8a" stroke-width="0.9"/>
<text x="627" y="348.7" class="rl">PTM Sites</text>
<line x1="4.2" y1="370.7" x2="610.5" y2="370.7" stroke="#6a6a6a" stroke-width="1"/>
<line x1="20.6" y1="370.7" x2="20.6" y2="372.5" stroke="#6a6a6a" stroke-width="0.7"/>
<text x="20.6" y="381.0" class="tk">800</text>
<line x1="59.1" y1="370.7" x2="59.1" y2="372.5" stroke="#6a6a6a" stroke-width="0.7"/>
<text x="59.1" y="381.0" class="tk">850</text>
<line x1="97.5" y1="370.7" x2="97.5" y2="372.5" stroke="#6a6a6a" stroke-width="0.7"/>
<text x="97.5" y="381.0" class="tk">900</text>
<line x1="136.0" y1="370.7" x2="136.0" y2="372.5" stroke="#6a6a6a" stroke-width="0.7"/>
<text x="136.0" y="381.0" class="tk">950</text>
<line x1="174.4" y1="370.7" x2="174.4" y2="372.5" stroke="#6a6a6a" stroke-width="0.7"/>
<text x="174.4" y="381.0" class="tk">1000</text>
<line x1="212.9" y1="370.7" x2="212.9" y2="372.5" stroke="#6a6a6a" stroke-width="0.7"/>
<text x="212.9" y="381.0" class="tk">1050</text>
<line x1="251.4" y1="370.7" x2="251.4" y2="372.5" stroke="#6a6a6a" stroke-width="0.7"/>
<text x="251.4" y="381.0" class="tk">1100</text>
<line x1="289.8" y1="370.7" x2="289.8" y2="372.5" stroke="#6a6a6a" stroke-width="0.7"/>
<text x="289.8" y="381.0" class="tk">1150</text>
<line x1="328.3" y1="370.7" x2="328.3" y2="372.5" stroke="#6a6a6a" stroke-width="0.7"/>
<text x="328.3" y="381.0" class="tk">1200</text>
<line x1="366.7" y1="370.7" x2="366.7" y2="372.5" stroke="#6a6a6a" stroke-width="0.7"/>
<text x="366.7" y="381.0" class="tk">1250</text>
<line x1="405.2" y1="370.7" x2="405.2" y2="372.5" stroke="#6a6a6a" stroke-width="0.7"/>
<text x="405.2" y="381.0" class="tk">1300</text>
<line x1="443.7" y1="370.7" x2="443.7" y2="372.5" stroke="#6a6a6a" stroke-width="0.7"/>
<text x="443.7" y="381.0" class="tk">1350</text>
<line x1="482.1" y1="370.7" x2="482.1" y2="372.5" stroke="#6a6a6a" stroke-width="0.7"/>
<text x="482.1" y="381.0" class="tk">1400</text>
<line x1="520.6" y1="370.7" x2="520.6" y2="372.5" stroke="#6a6a6a" stroke-width="0.7"/>
<text x="520.6" y="381.0" class="tk">1450</text>
<line x1="559.0" y1="370.7" x2="559.0" y2="372.5" stroke="#6a6a6a" stroke-width="0.7"/>
<text x="559.0" y="381.0" class="tk">1500</text>
<line x1="597.5" y1="370.7" x2="597.5" y2="372.5" stroke="#6a6a6a" stroke-width="0.7"/>
<text x="597.5" y="381.0" class="tk">1550</text>
<rect x="185.0" y="408.45" width="249.0" height="4.90" fill="#4ba4b1" stroke="#3d8893" stroke-width="0.5"/>
<rect x="547.0" y="408.45" width="54.0" height="4.90" fill="#4ba4b1" stroke="#3d8893" stroke-width="0.5"/>
<rect x="607.0" y="408.45" width="9.0" height="4.90" fill="#4ba4b1" stroke="#3d8893" stroke-width="0.5"/>
<rect x="35.8" y="413.85" width="39.2" height="4.90" fill="#1fd7c2" stroke="#19b4a3" stroke-width="0.5"/>
<rect x="161.0" y="413.85" width="64.0" height="4.90" fill="#1fd7c2" stroke="#19b4a3" stroke-width="0.5"/>
<rect x="227.0" y="413.85" width="193.0" height="4.90" fill="#1fd7c2" stroke="#19b4a3" stroke-width="0.5"/>
<rect x="472.0" y="413.85" width="3.0" height="4.90" fill="#1fd7c2" stroke="#19b4a3" stroke-width="0.5"/>
<rect x="494.5" y="413.85" width="4.0" height="4.90" fill="#1fd7c2" stroke="#19b4a3" stroke-width="0.5"/>
<rect x="510.0" y="413.85" width="106.0" height="4.90" fill="#1fd7c2" stroke="#19b4a3" stroke-width="0.5"/>
<rect x="7.1" y="419.25" width="5.4" height="4.90" fill="#39bbd9" stroke="#2f9db7" stroke-width="0.5"/>
<rect x="15.0" y="419.25" width="141.0" height="4.90" fill="#39bbd9" stroke="#2f9db7" stroke-width="0.5"/>
<rect x="160.5" y="419.25" width="21.5" height="4.90" fill="#39bbd9" stroke="#2f9db7" stroke-width="0.5"/>
<rect x="186.5" y="419.25" width="429.5" height="4.90" fill="#39bbd9" stroke="#2f9db7" stroke-width="0.5"/>
<rect x="7.1" y="424.65" width="608.9" height="4.90" fill="#e05b70" stroke="#bf4b5e" stroke-width="0.5"/>
<rect x="23.5" y="429.80" width="1.0" height="5.40" fill="#aa5b6b" opacity="0.75"/>
<rect x="29.0" y="429.80" width="1.0" height="5.40" fill="#aa5b6b" opacity="0.75"/>
<rect x="40.5" y="430.05" width="116.5" height="4.90" fill="#aa5b6b" stroke="#8e4b59" stroke-width="0.5"/>
<rect x="158.5" y="429.80" width="1.0" height="5.40" fill="#aa5b6b" opacity="0.75"/>
<rect x="164.0" y="430.05" width="26.0" height="4.90" fill="#aa5b6b" stroke="#8e4b59" stroke-width="0.5"/>
<rect x="191.0" y="430.05" width="256.5" height="4.90" fill="#aa5b6b" stroke="#8e4b59" stroke-width="0.5"/>
<rect x="448.5" y="430.05" width="3.0" height="4.90" fill="#aa5b6b" stroke="#8e4b59" stroke-width="0.5"/>
<rect x="452.5" y="430.05" width="4.5" height="4.90" fill="#aa5b6b" stroke="#8e4b59" stroke-width="0.5"/>
<rect x="459.0" y="430.05" width="25.0" height="4.90" fill="#aa5b6b" stroke="#8e4b59" stroke-width="0.5"/>
<rect x="487.5" y="430.05" width="15.5" height="4.90" fill="#aa5b6b" stroke="#8e4b59" stroke-width="0.5"/>
<rect x="508.5" y="430.05" width="2.0" height="4.90" fill="#aa5b6b" stroke="#8e4b59" stroke-width="0.5"/>
<rect x="511.5" y="430.05" width="104.5" height="4.90" fill="#aa5b6b" stroke="#8e4b59" stroke-width="0.5"/>
<rect x="7.1" y="435.45" width="608.9" height="4.90" fill="#e9b35f" stroke="#c8974f" stroke-width="0.5"/>
<rect x="7.1" y="440.85" width="112.4" height="4.90" fill="#6f7898" stroke="#5c6480" stroke-width="0.5"/>
<rect x="121.0" y="440.85" width="320.5" height="4.90" fill="#6f7898" stroke="#5c6480" stroke-width="0.5"/>
<rect x="450.0" y="440.85" width="166.0" height="4.90" fill="#6f7898" stroke="#5c6480" stroke-width="0.5"/>
<rect x="7.1" y="446.25" width="608.9" height="4.90" fill="#cc79ba" stroke="#ad669d" stroke-width="0.5"/>
<rect x="12.0" y="451.65" width="214.5" height="4.90" fill="#7b8b6b" stroke="#67755a" stroke-width="0.5"/>
<rect x="231.0" y="451.65" width="195.0" height="4.90" fill="#7b8b6b" stroke="#67755a" stroke-width="0.5"/>
<rect x="470.5" y="451.65" width="14.0" height="4.90" fill="#7b8b6b" stroke="#67755a" stroke-width="0.5"/>
<rect x="486.0" y="451.65" width="130.0" height="4.90" fill="#7b8b6b" stroke="#67755a" stroke-width="0.5"/>
<path d="M617.0,407.9 Q623.3,407.9 623.3,412.9 L623.3,426.9 Q623.3,431.9 631.0,431.9 Q623.3,431.9 623.3,436.9 L623.3,450.8 Q623.3,455.8 617.0,455.8" fill="none" stroke="#8a8a8a" stroke-width="0.9"/>
<text x="632" y="413.70" class="sl">Espritz-D</text>
<text x="632" y="419.05" class="sl">Espritz-X</text>
<text x="632" y="424.40" class="sl">Espritz-N</text>
<text x="632" y="429.75" class="sl">IUPred-L</text>
<text x="632" y="435.10" class="sl">IUPred-S</text>
<text x="632" y="440.45" class="sl">PV2</text>
<text x="632" y="445.80" class="sl">PrDOS</text>
<text x="632" y="451.15" class="sl">VSL2b</text>
<text x="632" y="456.50" class="sl">VLXT</text>
<line x1="7.1" y1="468.1" x2="616" y2="468.1" stroke="#222" stroke-width="1.2"/>
<rect x="288.0" y="467.6" width="132.8" height="8.2" rx="3.2" ry="3.2" fill="#f2a3a3" fill-opacity="1.0" stroke="#d43636" stroke-width="1.3"/>
<path d="M350.4,476.4 L352.8,476.4 L354.2,474.8 L355.6,476.4 L358.0,476.4 L358.0,486.0 L350.4,486.0 Z" fill="#fff" stroke="#777" stroke-width="0.6"/><text x="354.2" y="483.6" class="dl">9</text>
<path d="M617.0,460.3 Q623.3,460.3 623.3,465.3 L623.3,474.4 Q623.3,479.4 631.0,479.4 Q623.3,479.4 623.3,484.4 L623.3,493.5 Q623.3,498.5 617.0,498.5" fill="none" stroke="#8a8a8a" stroke-width="0.9"/>
<text x="632" y="482.4" class="rl">Predicted Domains</text>
<rect x="7" y="515.0" width="609" height="5.6" fill="#fff" stroke="#9a9a9a" stroke-width="0.6"/>
<rect x="7.0" y="515.3" width="609.0" height="5.0" fill="#04f00c"/>
<rect x="6.9" y="523.8" width="1.7" height="4.2" fill="url(#morf)"/>
<rect x="26.2" y="523.8" width="18.0" height="4.2" fill="url(#morf)"/>
<rect x="62.0" y="523.8" width="51.3" height="4.2" fill="url(#morf)"/>
<rect x="119.0" y="523.8" width="26.6" height="4.2" fill="url(#morf)"/>
<rect x="150.6" y="523.8" width="18.4" height="4.2" fill="url(#morf)"/>
<rect x="178.0" y="523.8" width="28.0" height="4.2" fill="url(#morf)"/>
<rect x="213.4" y="523.8" width="177.6" height="4.2" fill="url(#morf)"/>
<rect x="396.8" y="523.8" width="69.2" height="4.2" fill="url(#morf)"/>
<rect x="473.7" y="523.8" width="21.8" height="4.2" fill="url(#morf)"/>
<rect x="499.0" y="523.8" width="60.4" height="4.2" fill="url(#morf)"/>
<rect x="561.3" y="523.8" width="8.7" height="4.2" fill="url(#morf)"/>
<rect x="575.4" y="523.8" width="40.6" height="4.2" fill="url(#morf)"/>
<path d="M617.0,519.8 Q623.3,519.8 623.3,521.8 L623.3,523.8 Q623.3,525.8 631.0,525.8 Q623.3,525.8 623.3,527.8 L623.3,529.8 Q623.3,531.8 617.0,531.8" fill="none" stroke="#8a8a8a" stroke-width="0.9"/>
<text x="632" y="528.3" class="rl">MoRF Regions</text>
<path d="M617.0,537.3 Q623.3,537.3 623.3,542.3 L623.3,547.4 Q623.3,552.4 631.0,552.4 Q623.3,552.4 623.3,557.4 L623.3,562.5 Q623.3,567.5 617.0,567.5" fill="none" stroke="#8a8a8a" stroke-width="0.9"/>
<text x="632" y="555.4" class="rl">PTM Sites</text>
<line x1="7.1" y1="579.5" x2="616" y2="579.5" stroke="#6a6a6a" stroke-width="1"/>
<line x1="33.4" y1="579.5" x2="33.4" y2="581.3" stroke="#6a6a6a" stroke-width="0.7"/>
<text x="33.4" y="589.8" class="tk">1600</text>
<line x1="71.9" y1="579.5" x2="71.9" y2="581.3" stroke="#6a6a6a" stroke-width="0.7"/>
<text x="71.9" y="589.8" class="tk">1650</text>
<line x1="110.4" y1="579.5" x2="110.4" y2="581.3" stroke="#6a6a6a" stroke-width="0.7"/>
<text x="110.4" y="589.8" class="tk">1700</text>
<line x1="148.9" y1="579.5" x2="148.9" y2="581.3" stroke="#6a6a6a" stroke-width="0.7"/>
<text x="148.9" y="589.8" class="tk">1750</text>
<line x1="187.4" y1="579.5" x2="187.4" y2="581.3" stroke="#6a6a6a" stroke-width="0.7"/>
<text x="187.4" y="589.8" class="tk">1800</text>
<line x1="225.9" y1="579.5" x2="225.9" y2="581.3" stroke="#6a6a6a" stroke-width="0.7"/>
<text x="225.9" y="589.8" class="tk">1850</text>
<line x1="264.3" y1="579.5" x2="264.3" y2="581.3" stroke="#6a6a6a" stroke-width="0.7"/>
<text x="264.3" y="589.8" class="tk">1900</text>
<line x1="302.8" y1="579.5" x2="302.8" y2="581.3" stroke="#6a6a6a" stroke-width="0.7"/>
<text x="302.8" y="589.8" class="tk">1950</text>
<line x1="341.3" y1="579.5" x2="341.3" y2="581.3" stroke="#6a6a6a" stroke-width="0.7"/>
<text x="341.3" y="589.8" class="tk">2000</text>
<line x1="379.8" y1="579.5" x2="379.8" y2="581.3" stroke="#6a6a6a" stroke-width="0.7"/>
<text x="379.8" y="589.8" class="tk">2050</text>
<line x1="418.3" y1="579.5" x2="418.3" y2="581.3" stroke="#6a6a6a" stroke-width="0.7"/>
<text x="418.3" y="589.8" class="tk">2100</text>
<line x1="456.8" y1="579.5" x2="456.8" y2="581.3" stroke="#6a6a6a" stroke-width="0.7"/>
<text x="456.8" y="589.8" class="tk">2150</text>
<line x1="495.3" y1="579.5" x2="495.3" y2="581.3" stroke="#6a6a6a" stroke-width="0.7"/>
<text x="495.3" y="589.8" class="tk">2200</text>
<line x1="533.8" y1="579.5" x2="533.8" y2="581.3" stroke="#6a6a6a" stroke-width="0.7"/>
<text x="533.8" y="589.8" class="tk">2250</text>
<line x1="572.3" y1="579.5" x2="572.3" y2="581.3" stroke="#6a6a6a" stroke-width="0.7"/>
<text x="572.3" y="589.8" class="tk">2300</text>
<line x1="610.8" y1="579.5" x2="610.8" y2="581.3" stroke="#6a6a6a" stroke-width="0.7"/>
<text x="610.8" y="589.8" class="tk">2350</text>
<text x="3" y="619" class="lh">Key:</text>
<text x="15.9" y="628.7" class="li">Predicted SCOP Structure</text>
<text x="15.9" y="638.1" class="li" textLength="48.6" lengthAdjust="spacingAndGlyphs">Weaker Support</text>
<text x="15.9" y="647.4" class="li">Pfam Conserved Domain</text>
<text x="15.9" y="656.8" class="li">Predicted Disorder</text>
<text x="15.9" y="666.1" class="li">Predicted MoRFs</text>
<text x="15.9" y="675.5" class="li">Curated PTM Site</text>
<rect x="6.7" y="623" width="7" height="6.5" fill="#cfcfcf"/>
<line x1="10.4" y1="631.8" x2="10.4" y2="639" stroke="#777" stroke-width="0.7"/>
<rect x="6.4" y="641" width="7.6" height="7.4" rx="3" fill="#cdcdcd" stroke="#777" stroke-width="0.9"/>
<rect x="6.4" y="650.3" width="7.6" height="7.6" fill="#cdcdcd" stroke="#777" stroke-width="0.9"/>
<path d="M6,663.6 l1.3,-1.2 l1.3,1.2 l1.3,-1.2 l1.3,1.2 l1.3,-1.2 l1.3,1.2" fill="none" stroke="#222" stroke-width="1"/>
<circle cx="10.3" cy="672.7" r="3.6" fill="#777"/><text x="10.3" y="674.6" class="q">?</text>
<text x="118.5" y="619" class="lh">Disorder:</text>
<rect x="122.2" y="622.6" width="7.6" height="7.2" fill="#4ba4b1" stroke="#3d8893" stroke-width="0.5"/>
<text x="131.5" y="628.7" class="li">Espritz-D</text>
<rect x="122.2" y="631.7" width="7.6" height="7.2" fill="#1fd7c2" stroke="#19b4a3" stroke-width="0.5"/>
<text x="131.5" y="637.8" class="li">Espritz-X</text>
<rect x="122.2" y="640.8" width="7.6" height="7.2" fill="#39bbd9" stroke="#2f9db7" stroke-width="0.5"/>
<text x="131.5" y="646.9" class="li">Espritz-N</text>
<rect x="122.2" y="649.9" width="7.6" height="7.2" fill="#e05b70" stroke="#bf4b5e" stroke-width="0.5"/>
<text x="131.5" y="656.0" class="li">IUPred-L</text>
<rect x="122.2" y="659.0" width="7.6" height="7.2" fill="#aa5b6b" stroke="#8e4b59" stroke-width="0.5"/>
<text x="131.5" y="665.1" class="li">IUPred-S</text>
<rect x="122.2" y="668.1" width="7.6" height="7.2" fill="#e9b35f" stroke="#c8974f" stroke-width="0.5"/>
<text x="131.5" y="674.2" class="li">PV2</text>
<rect x="122.2" y="677.2" width="7.6" height="7.2" fill="#6f7898" stroke="#5c6480" stroke-width="0.5"/>
<text x="131.5" y="683.3" class="li">PrDOS</text>
<rect x="122.2" y="686.3" width="7.6" height="7.2" fill="#cc79ba" stroke="#ad669d" stroke-width="0.5"/>
<text x="131.5" y="692.4" class="li">VSL2b</text>
<rect x="122.2" y="695.4" width="7.6" height="7.2" fill="#7b8b6b" stroke="#67755a" stroke-width="0.5"/>
<text x="131.5" y="701.5" class="li">VLXT</text>
<text x="198.9" y="619" class="lh">Superfamilies:</text>
<text x="202.9" y="629.1" class="li">N/ANo Hits</text>
<text x="198.9" y="641.6" class="lh">Pfams:</text>
<rect x="202.6" y="645.0" width="7.6" height="7.4" rx="3.2" fill="#8ad8e2" stroke="#22b6c7" stroke-width="1.3"/>
<text x="211.8" y="651.4" class="li">[1] PB010519 (Pfam-B)</text>
<rect x="202.6" y="654.3" width="7.6" height="7.4" rx="3.2" fill="#86d9b6" stroke="#1eb77f" stroke-width="1.3"/>
<text x="211.8" y="660.7" class="li">[2] PB012215 (Pfam-B)</text>
<rect x="202.6" y="663.6" width="7.6" height="7.4" rx="3.2" fill="#ea96da" stroke="#d234bb" stroke-width="1.3"/>
<text x="211.8" y="670.0" class="li">[3] PF07926.7 (Family)</text>
<rect x="202.6" y="672.9" width="7.6" height="7.4" rx="3.2" fill="#e9bb95" stroke="#d57a2b" stroke-width="1.3"/>
<text x="211.8" y="679.3" class="li">[4] PB004595 (Pfam-B)</text>
<rect x="202.6" y="682.2" width="7.6" height="7.4" rx="3.2" fill="#9393da" stroke="#2a2ab7" stroke-width="1.3"/>
<text x="211.8" y="688.6" class="li">[5] PB011289 (Pfam-B)</text>
<rect x="202.6" y="691.5" width="7.6" height="7.4" rx="3.2" fill="#dada96" stroke="#b3b32f" stroke-width="1.3"/>
<text x="211.8" y="697.9" class="li">[6] PB017606 (Pfam-B)</text>
<rect x="202.6" y="700.8" width="7.6" height="7.4" rx="3.2" fill="#84d996" stroke="#12b134" stroke-width="1.3"/>
<text x="211.8" y="707.2" class="li">[7] PB002170 (Pfam-B)</text>
<rect x="202.6" y="710.1" width="7.6" height="7.4" rx="3.2" fill="#abd995" stroke="#5bb833" stroke-width="1.3"/>
<text x="211.8" y="716.5" class="li">[8] PB017371 (Pfam-B)</text>
<rect x="202.6" y="719.4" width="7.6" height="7.4" rx="3.2" fill="#eb9494" stroke="#d42d2d" stroke-width="1.3"/>
<text x="211.8" y="725.8" class="li">[9] PB007896 (Pfam-B)</text>
<text x="20.8" y="725" class="big">A</text>
</g>
<g id="panelB">
<defs><clipPath id="bclip"><rect x="724" y="49.7" width="293.6" height="213.8"/></clipPath></defs>
<line x1="764.4" y1="49.7" x2="764.4" y2="263.5" stroke="#9a9a9a" stroke-width="0.6" stroke-dasharray="1.5,3"/>
<line x1="804.6" y1="49.7" x2="804.6" y2="263.5" stroke="#9a9a9a" stroke-width="0.6" stroke-dasharray="1.5,3"/>
<line x1="844.8" y1="49.7" x2="844.8" y2="263.5" stroke="#9a9a9a" stroke-width="0.6" stroke-dasharray="1.5,3"/>
<line x1="885.0" y1="49.7" x2="885.0" y2="263.5" stroke="#9a9a9a" stroke-width="0.6" stroke-dasharray="1.5,3"/>
<line x1="925.2" y1="49.7" x2="925.2" y2="263.5" stroke="#9a9a9a" stroke-width="0.6" stroke-dasharray="1.5,3"/>
<line x1="965.4" y1="49.7" x2="965.4" y2="263.5" stroke="#9a9a9a" stroke-width="0.6" stroke-dasharray="1.5,3"/>
<g clip-path="url(#bclip)">
<polyline points="724.2,118.8 726.0,207.9 726.9,113.2 728.2,244.7 729.4,124.1 730.7,253.2 732.5,94.8 733.6,212.5 734.9,103.3 736.5,229.1 737.8,124.9 739.1,206.3 740.8,90.3 742.6,188.3 744.3,101.5 745.5,264.6 746.4,115.8 747.9,255.7 748.9,152.4 750.6,199.8 752.1,139.2 753.9,178.9 755.5,95.9 756.6,261.0 757.5,83.1 759.1,208.6 760.6,100.7 762.2,228.1 763.3,137.3 764.3,228.7 765.3,129.6 766.6,196.6 768.3,105.3 770.0,195.2 771.2,147.2 772.9,250.1 774.1,93.9 775.4,174.3 776.8,139.7 778.3,251.3 780.0,120.1 781.7,169.1 783.2,85.8 784.4,247.5 785.6,125.6 787.4,213.9 788.5,150.9 789.5,212.9 790.9,84.3 791.8,256.9 792.7,104.1 793.6,231.7 795.1,139.2 796.8,205.9 798.3,145.7 799.5,262.7 800.5,95.1 801.8,257.2 803.0,132.5 804.4,263.4 805.7,87.6 806.6,191.8 808.0,99.0 809.8,217.2 811.6,100.7 813.1,235.7 814.1,128.8 815.1,252.5 816.1,112.7 817.4,264.5 818.6,132.9 819.5,237.3 821.1,104.2 822.2,181.4 823.9,134.9 825.0,252.6 826.2,118.1 827.2,173.3 828.8,97.7 830.5,179.8 831.9,146.5 833.4,174.3 835.0,90.6 835.9,247.7 837.4,89.7 839.1,209.9 840.3,86.7 841.4,222.6 843.2,107.7 844.6,235.5 846.2,106.5 847.6,240.2 848.9,112.4 850.0,228.8 851.2,117.4 852.5,225.4 854.3,142.3 855.5,175.4 857.3,116.4 858.4,211.4 859.7,84.5 860.7,228.0 861.9,126.1 863.0,174.9 864.5,133.9 865.5,204.0 866.7,90.8 868.3,242.4 869.8,104.3 871.5,195.2 872.4,143.2 874.2,208.7 875.5,89.2 877.0,181.7 878.5,93.6 880.3,177.4 881.3,121.2 882.7,225.6 884.2,136.1 885.7,112.3 887.0,88.8 888.6,112.5 890.1,98.0 891.2,121.2 892.1,101.6 893.7,127.8 895.1,97.3 896.2,102.7 897.4,98.0 898.4,117.4 899.6,92.4 901.3,138.9 902.7,97.9 904.2,117.4 905.3,101.5 906.3,112.7 907.2,105.4 908.7,130.6 910.2,86.9 911.6,127.7 912.9,91.8 914.6,101.4 916.2,99.5 917.3,139.9 918.5,99.3 920.2,106.8 921.3,102.6 922.8,122.2 924.5,94.3 926.1,105.7 927.4,92.8 928.7,110.8 930.3,112.3 931.6,111.5 933.0,99.1 934.5,215.7 935.6,153.7 937.0,235.8 938.3,142.8 939.2,238.7 941.0,139.9 942.1,219.7 943.5,155.1 944.4,214.3 945.6,80.8 946.9,181.1 947.9,94.6 949.1,185.9 950.7,103.3 951.8,184.2 953.3,86.7 954.4,154.4 956.3,79.8 957.3,150.0 959.0,86.9 960.3,185.0" fill="none" stroke="#a9a9a9" stroke-width="1.1" stroke-linejoin="round" stroke-opacity="1.0"/>
<polyline points="724.2,84.6 724.5,86.0 724.8,90.0 725.1,96.5 725.4,105.0 725.7,114.8 726.0,125.4 726.3,136.0 726.6,145.8 726.9,154.3 727.2,160.8 727.5,164.9 727.8,166.3 728.1,164.8 728.4,160.6 728.7,154.1 729.0,145.8 729.3,136.5 729.6,127.0 729.9,118.3 730.2,111.1 730.5,106.0 730.8,103.6 731.1,104.0 731.4,107.0 731.7,112.2 732.0,119.5 732.3,128.1 732.6,137.7 732.9,147.5 733.2,156.8 733.5,165.0 733.8,171.6 734.1,176.2 734.5,178.3 734.8,177.2 735.1,171.2 735.4,161.1 735.7,148.8 736.0,136.4 736.3,126.4 736.6,120.3 736.9,119.3 737.2,122.0 737.5,127.6 737.8,135.9 738.1,146.2 738.4,157.7 738.7,169.7 739.0,181.2 739.3,191.5 739.6,199.8 739.9,205.5 740.2,208.1 740.5,207.4 740.8,202.7 741.1,194.6 741.4,184.2 741.7,172.8 742.0,161.9 742.3,152.9 742.6,147.0 742.9,145.0 743.2,148.4 743.5,158.0 743.8,171.8 744.1,187.1 744.4,200.9 744.7,210.5 745.0,213.9 745.3,211.9 745.6,206.1 745.9,197.0 746.2,185.0 746.5,171.2 746.8,156.6 747.1,142.1 747.4,128.8 747.7,117.7 748.0,109.6 748.3,105.0 748.6,104.3 748.9,106.7 749.2,111.7 749.5,118.9 749.8,127.7 750.1,137.4 750.4,147.0 750.7,155.8 751.0,163.1 751.3,168.1 751.6,170.4 751.9,170.1 752.2,167.4 752.5,162.8 752.8,156.9 753.1,150.6 753.4,144.7 753.7,140.1 754.0,137.4 754.4,137.0 754.7,139.3 755.0,144.1 755.3,150.8 755.6,158.6 755.9,166.6 756.2,173.7 756.5,179.2 756.8,182.4 757.1,182.8 757.4,179.2 757.7,171.6 758.0,161.2 758.3,149.2 758.6,137.2 758.9,126.8 759.2,119.2 759.5,115.6 759.8,117.3 760.1,127.4 760.4,144.5 760.7,166.4 761.0,189.9 761.3,211.8 761.6,228.9 761.9,238.9 762.2,240.9 762.5,241.1 762.8,241.4 763.1,241.7 763.4,242.1 763.7,242.3 764.0,242.3 764.3,241.7 764.6,240.7 764.9,239.5 765.2,238.8 765.5,238.4 765.8,235.5 766.1,229.4 766.4,221.2 766.7,212.0 767.0,203.3 767.3,196.4 767.6,192.3 767.9,191.3 768.2,188.0 768.5,181.1 768.8,171.2 769.1,159.3 769.4,146.3 769.7,133.5 770.0,122.1 770.3,113.2 770.6,107.4 770.9,105.4 771.2,109.1 771.5,119.5 771.8,135.5 772.1,155.1 772.4,176.0 772.7,195.6 773.0,211.6 773.3,222.1 773.6,225.7 773.9,222.4 774.2,213.1 774.6,198.9 774.9,181.6 775.2,163.6 775.5,147.1 775.8,134.3 776.1,126.9 776.4,125.6 776.7,127.2 777.0,130.6 777.3,135.6 777.6,141.9 777.9,149.1 778.2,156.6 778.5,164.1 778.8,171.0 779.1,176.9 779.4,181.4 779.7,184.2 780.0,185.2 780.3,181.5 780.6,171.0 780.9,155.8 781.2,139.0 781.5,123.8 781.8,113.4 782.1,109.6 782.4,111.4 782.7,116.8 783.0,125.1 783.3,135.5 783.6,147.1 783.9,158.7 784.2,169.2 784.5,177.5 784.8,182.8 785.1,184.6 785.4,183.3 785.7,179.2 786.0,172.9 786.3,164.6 786.6,155.2 786.9,145.2 787.2,135.5 787.5,126.8 787.8,119.7 788.1,114.9 788.4,112.6 788.7,113.4 789.0,118.0 789.3,126.2 789.6,137.1 789.9,149.5 790.2,162.1 790.5,173.5 790.8,182.7 791.1,188.7 791.4,190.7 791.7,188.8 792.0,183.3 792.3,174.9 792.6,164.2 792.9,152.6 793.2,141.2 793.5,131.2 793.8,123.6 794.1,119.2 794.4,118.6 794.8,122.3 795.1,130.0 795.4,141.2 795.7,154.9 796.0,170.1 796.3,185.5 796.6,199.8 796.9,211.9 797.2,220.9 797.5,226.0 797.8,226.7 798.1,223.5 798.4,216.6 798.7,206.8 799.0,194.8 799.3,181.9 799.6,169.2 799.9,157.9 800.2,148.9 800.5,143.2 800.8,141.3 801.1,141.9 801.4,143.8 801.7,146.8 802.0,150.7 802.3,155.1 802.6,159.8 802.9,164.4 803.2,168.5 803.5,171.8 803.8,174.1 804.1,175.2 804.4,173.8 804.7,166.7 805.0,155.0 805.3,141.4 805.6,128.7 805.9,119.9 806.2,116.7 806.5,117.8 806.8,121.0 807.1,126.1 807.4,132.8 807.7,140.5 808.0,148.7 808.3,156.8 808.6,164.2 808.9,170.4 809.2,174.9 809.5,177.5 809.8,177.9 810.1,177.2 810.4,175.7 810.7,173.5 811.0,170.8 811.3,167.8 811.6,164.8 811.9,161.8 812.2,159.3 812.5,157.3 812.8,156.1 813.1,155.7 813.4,156.8 813.7,160.0 814.0,165.1 814.3,171.8 814.7,179.4 815.0,187.4 815.3,195.2 815.6,202.3 815.9,207.9 816.2,211.8 816.5,213.7 816.8,213.0 817.1,208.9 817.4,201.5 817.7,191.5 818.0,179.5 818.3,166.4 818.6,153.1 818.9,140.6 819.2,129.8 819.5,121.5 819.8,116.3 820.1,114.5 820.4,116.5 820.7,122.0 821.0,130.0 821.3,139.2 821.6,147.8 821.9,154.3 822.2,157.5 822.5,157.2 822.8,154.4 823.1,149.5 823.4,142.8 823.7,134.9 824.0,126.4 824.3,118.1 824.6,110.5 824.9,104.3 825.2,100.1 825.5,98.1 825.8,98.6 826.1,102.3 826.4,108.7 826.7,117.5 827.0,127.9 827.3,139.2 827.6,150.5 827.9,161.0 828.2,169.7 828.5,176.2 828.8,179.8 829.1,180.2 829.4,175.9 829.7,167.2 830.0,155.9 830.3,144.2 830.6,134.5 830.9,128.5 831.2,127.6 831.5,130.9 831.8,137.7 832.1,146.9 832.4,157.2 832.7,166.9 833.0,174.7 833.3,179.2 833.6,180.0 833.9,177.5 834.2,172.4 834.5,165.1 834.9,156.4 835.2,147.0 835.5,137.9 835.8,130.1 836.1,124.2 836.4,120.8 836.7,120.3 837.0,121.9 837.3,125.4 837.6,130.4 837.9,136.8 838.2,144.0 838.5,151.5 838.8,158.8 839.1,165.5 839.4,171.0 839.7,175.1 840.0,177.3 840.3,177.9 840.6,178.9 840.9,181.0 841.2,184.2 841.5,188.3 841.8,193.0 842.1,198.1 842.4,203.4 842.7,208.5 843.0,213.3 843.3,217.3 843.6,220.5 843.9,222.7 844.2,223.7 844.5,223.2 844.8,221.0 845.1,218.7 845.4,218.5 845.7,221.8 846.0,226.0 846.3,226.6 846.6,220.6 846.9,208.3 847.2,192.1 847.5,174.8 847.8,159.6 848.1,149.3 848.4,145.6 848.7,146.3 849.0,148.3 849.3,151.3 849.6,154.8 849.9,158.2 850.2,160.9 850.5,162.5 850.8,162.7 851.1,160.8 851.4,156.8 851.7,151.0 852.0,143.8 852.3,135.7 852.6,127.4 852.9,119.3 853.2,112.1 853.5,106.3 853.8,102.3 854.1,100.4 854.4,101.9 854.7,109.8 855.1,123.5 855.4,140.8 855.7,159.5 856.0,176.9 856.3,190.6 856.6,198.5 856.9,199.8 857.2,195.6 857.5,186.7 857.8,174.4 858.1,160.0 858.4,145.3 858.7,132.1 859.0,122.0 859.3,116.1 859.6,115.2 859.9,117.8 860.2,123.3 860.5,131.2 860.8,140.7 861.1,151.1 861.4,161.3 861.7,170.4 862.0,177.5 862.3,182.1 862.6,183.7 862.9,182.1 863.2,177.5 863.5,170.5 863.8,161.8 864.1,152.4 864.4,143.3 864.7,135.6 865.0,130.2 865.3,127.6 865.6,128.2 865.9,132.7 866.2,140.5 866.5,150.6 866.8,162.1 867.1,173.6 867.4,183.8 867.7,191.6 868.0,196.0 868.3,196.7 868.6,193.4 868.9,186.4 869.2,176.2 869.5,163.7 869.8,149.7 870.1,135.4 870.4,121.8 870.7,109.9 871.0,100.8 871.3,95.0 871.6,93.0 871.9,94.5 872.2,99.0 872.5,106.2 872.8,115.5 873.1,126.4 873.4,138.1 873.7,149.7 874.0,160.6 874.3,169.9 874.6,177.1 875.0,181.6 875.3,183.1 875.6,181.7 875.9,177.3 876.2,170.4 876.5,161.4 876.8,151.1 877.1,140.1 877.4,129.2 877.7,119.2 878.0,110.9 878.3,104.8 878.6,101.4 878.9,101.5 879.2,112.4 879.5,133.3 879.8,157.8 880.1,178.7 880.4,189.6 880.7,193.2 881.0,205.6 881.3,219.7 881.6,225.8 881.9,214.7 882.2,192.3 882.5,181.1 882.8,178.0 883.1,169.8 883.4,158.4 883.7,147.1 884.0,138.8 884.3,135.8 884.6,134.4 884.9,130.2 885.2,124.3 885.5,117.7 885.8,111.8 886.1,107.7 886.4,106.2 886.7,105.9 887.0,104.9 887.3,103.3 887.6,101.3 887.9,99.0 888.2,96.7 888.5,94.4 888.8,92.6 889.1,91.2 889.4,90.4 889.7,90.3 890.0,91.8 890.3,95.0 890.6,99.4 890.9,104.6 891.2,110.0 891.5,115.1 891.8,119.1 892.1,121.7 892.4,122.7 892.7,121.9 893.0,119.5 893.3,115.9 893.6,111.2 893.9,105.9 894.2,100.4 894.5,95.3 894.8,90.9 895.2,87.7 895.5,85.8 895.8,85.5 896.1,86.6 896.4,88.7 896.7,91.7 897.0,95.2 897.3,98.9 897.6,102.3 897.9,105.0 898.2,106.8 898.5,107.4 898.8,107.1 899.1,106.3 899.4,105.0 899.7,103.3 900.0,101.3 900.3,99.1 900.6,97.0 900.9,95.0 901.2,93.3 901.5,92.0 901.8,91.1 902.1,90.9 902.4,91.6 902.7,93.7 903.0,97.1 903.3,101.4 903.6,106.2 903.9,111.0 904.2,115.5 904.5,119.2 904.8,121.8 905.1,123.0 905.4,122.9 905.7,121.7 906.0,119.6 906.3,116.8 906.6,113.4 906.9,109.8 907.2,106.2 907.5,102.8 907.8,100.0 908.1,97.9 908.4,96.7 908.7,96.5 909.0,97.0 909.3,98.1 909.6,99.7 909.9,101.8 910.2,104.1 910.5,106.6 910.8,109.1 911.1,111.4 911.4,113.4 911.7,115.1 912.0,116.2 912.3,116.7 912.6,116.2 912.9,113.6 913.2,109.3 913.5,104.0 913.8,98.5 914.1,93.8 914.4,90.6 914.7,89.5 915.0,89.8 915.4,90.7 915.7,92.3 916.0,94.3 916.3,96.6 916.6,99.2 916.9,101.8 917.2,104.2 917.5,106.3 917.8,108.0 918.1,109.2 918.4,109.7 918.7,109.6 919.0,108.6 919.3,106.9 919.6,104.5 919.9,101.8 920.2,98.9 920.5,96.1 920.8,93.6 921.1,91.6 921.4,90.4 921.7,90.0 922.0,90.2 922.3,90.8 922.6,91.9 922.9,93.2 923.2,94.6 923.5,96.1 923.8,97.4 924.1,98.6 924.4,99.3 924.7,99.7 925.0,99.6 925.3,99.0 925.6,97.9 925.9,96.3 926.2,94.6 926.5,92.7 926.8,91.0 927.1,89.5 927.4,88.3 927.7,87.7 928.0,87.6 928.3,88.1 928.6,89.2 928.9,90.8 929.2,92.7 929.5,94.7 929.8,96.8 930.1,98.6 930.4,100.0 930.7,100.9 931.0,101.2 931.3,100.7 931.6,99.2 931.9,97.1 932.2,94.6 932.5,92.3 932.8,90.6 933.1,89.7 933.4,90.7 933.7,96.4 934.0,106.0 934.3,118.2 934.6,131.4 934.9,143.7 935.2,153.3 935.6,158.9 935.9,160.4 936.2,165.6 936.5,175.9 936.8,189.1 937.1,202.3 937.4,212.6 937.7,217.8 938.0,218.6 938.3,220.1 938.6,221.6 938.9,221.8 939.2,220.6 939.5,218.0 939.8,214.4 940.1,210.2 940.4,206.0 940.7,202.1 941.0,199.2 941.3,197.5 941.6,197.0 941.9,195.2 942.2,191.2 942.5,185.4 942.8,178.1 943.1,169.7 943.4,160.7 943.7,151.8 944.0,143.4 944.3,136.1 944.6,130.3 944.9,126.3 945.2,124.5 945.5,124.4 945.8,124.5 946.1,124.8 946.4,125.1 946.7,125.5 947.0,125.9 947.3,126.3 947.6,126.6 947.9,126.8 948.2,126.9 948.5,126.5 948.8,124.5 949.1,121.1 949.4,117.1 949.7,113.2 950.0,110.2 950.3,108.7 950.6,108.8 950.9,109.7 951.2,111.4 951.5,113.5 951.8,116.0 952.1,118.6 952.4,120.9 952.7,122.7 953.0,123.9 953.3,124.3 953.6,123.6 953.9,121.4 954.2,118.0 954.5,113.6 954.8,108.6 955.1,103.4 955.5,98.4 955.8,94.1 956.1,90.6 956.4,88.5 956.7,87.7 957.0,88.9 957.3,92.2 957.6,97.3 957.9,103.8 958.2,111.2 958.5,118.6 958.8,125.5 959.1,131.1 959.4,135.1 959.7,137.0 960.0,137.1 960.3,137.1" fill="none" stroke="#11e22a" stroke-width="2.4" stroke-linejoin="round" stroke-opacity="1.0"/>
<polyline points="724.2,116.6 724.6,118.6 725.0,111.6 725.4,118.2 725.8,111.0 726.2,111.8 726.6,114.1 727.0,106.4 727.4,110.6 727.8,103.5 728.2,106.3 728.6,104.2 729.0,98.1 729.4,91.5 729.8,99.4 730.2,97.2 730.6,91.4 731.0,87.1 731.4,92.4 731.8,96.0 732.2,90.5 732.6,105.3 733.0,97.9 733.4,108.7 733.8,114.0 734.2,117.6 734.7,117.9 735.1,113.5 735.5,123.3 735.9,118.7 736.3,116.9 736.7,115.9 737.1,107.4 737.5,108.1 737.9,105.3 738.3,103.6 738.7,99.1 739.1,105.3 739.5,110.6 739.9,111.7 740.3,118.3 740.7,125.1 741.1,123.1 741.5,128.0 741.9,136.5 742.3,133.5 742.7,134.2 743.1,128.3 743.5,127.6 743.9,129.6 744.3,116.0 744.7,122.0 745.1,112.7 745.5,102.9 745.9,105.9 746.3,97.3 746.7,99.9 747.1,89.7 747.5,87.8 747.9,90.6 748.3,87.4 748.7,95.9 749.1,92.6 749.5,96.0 749.9,98.5 750.3,102.6 750.7,100.2 751.1,101.4 751.5,110.1 751.9,109.9 752.3,119.8 752.7,113.1 753.1,115.0 753.5,111.3 753.9,113.8 754.4,120.3 754.8,117.6 755.2,111.8 755.6,117.3 756.0,108.2 756.4,108.4 756.8,105.3 757.2,102.5 757.6,90.2 758.0,95.9 758.4,92.6 758.8,89.8 759.2,83.8 759.6,97.1 760.0,98.1 760.4,105.2 760.8,111.5 761.2,124.5 761.6,137.2 762.0,158.5 762.4,170.1 762.8,183.4 763.2,187.6 763.6,195.6 764.0,212.6 764.4,216.0 764.8,216.0 765.2,213.0 765.6,203.1 766.0,191.9 766.4,183.5 766.8,172.5 767.2,151.9 767.6,137.4 768.0,120.9 768.4,103.9 768.8,98.1 769.2,94.7 769.6,91.4 770.0,91.2 770.4,101.0 770.8,92.8 771.2,97.9 771.6,100.8 772.0,106.2 772.4,115.9 772.8,120.0 773.2,127.4 773.6,123.2 774.0,132.4 774.5,132.9 774.9,130.7 775.3,130.3 775.7,126.4 776.1,127.9 776.5,125.9 776.9,120.8 777.3,118.0 777.7,110.9 778.1,111.6 778.5,96.9 778.9,96.8 779.3,99.6 779.7,95.5 780.1,91.9 780.5,89.9 780.9,91.9 781.3,81.9 781.7,80.7 782.1,90.2 782.5,94.5 782.9,105.6 783.3,111.8 783.7,114.9 784.1,121.2 784.5,117.5 784.9,127.9 785.3,129.4 785.7,115.7 786.1,118.5 786.5,119.8 786.9,110.5 787.3,112.7 787.7,101.9 788.1,92.2 788.5,90.7 788.9,91.0 789.3,96.0 789.7,95.8 790.1,101.4 790.5,97.3 790.9,103.4 791.3,101.4 791.7,106.2 792.1,105.0 792.5,94.1 792.9,89.0 793.3,89.3 793.7,90.7 794.1,93.9 794.6,100.7 795.0,114.9 795.4,119.9 795.8,131.1 796.2,143.8 796.6,151.1 797.0,153.0 797.4,156.0 797.8,150.6 798.2,146.0 798.6,150.4 799.0,140.8 799.4,136.2 799.8,132.2 800.2,135.3 800.6,132.6 801.0,128.3 801.4,125.1 801.8,122.3 802.2,115.1 802.6,110.9 803.0,111.4 803.4,115.1 803.8,111.3 804.2,107.4 804.6,114.2 805.0,104.1 805.4,98.0 805.8,96.9 806.2,94.8 806.6,96.1 807.0,98.2 807.4,89.0 807.8,94.2 808.2,88.2 808.6,87.0 809.0,96.5 809.4,99.3 809.8,95.9 810.2,102.9 810.6,114.7 811.0,119.9 811.4,124.2 811.8,118.7 812.2,123.8 812.6,135.5 813.0,128.9 813.4,128.1 813.8,132.6 814.2,136.0 814.7,132.2 815.1,135.6 815.5,134.6 815.9,119.2 816.3,120.0 816.7,118.1 817.1,109.2 817.5,112.3 817.9,103.5 818.3,101.5 818.7,107.3 819.1,105.3 819.5,104.1 819.9,104.6 820.3,99.8 820.7,103.5 821.1,100.7 821.5,103.4 821.9,92.1 822.3,98.0 822.7,95.2 823.1,92.0 823.5,86.3 823.9,91.2 824.3,83.3 824.7,87.5 825.1,86.0 825.5,85.3 825.9,91.2 826.3,85.4 826.7,88.7 827.1,91.9 827.5,83.4 827.9,94.4 828.3,94.1 828.7,95.1 829.1,101.9 829.5,109.6 829.9,111.7 830.3,115.5 830.7,116.1 831.1,127.8 831.5,123.8 831.9,128.6 832.3,128.1 832.7,120.8 833.1,122.7 833.5,119.8 833.9,114.6 834.3,109.6 834.8,112.4 835.2,106.8 835.6,104.9 836.0,101.6 836.4,96.4 836.8,97.2 837.2,94.3 837.6,93.8 838.0,87.2 838.4,90.9 838.8,91.1 839.2,94.6 839.6,109.6 840.0,113.3 840.4,117.2 840.8,128.2 841.2,147.5 841.6,158.0 842.0,163.8 842.4,177.9 842.8,183.9 843.2,193.0 843.6,190.5 844.0,192.5 844.4,192.6 844.8,201.3 845.2,189.8 845.6,183.2 846.0,180.3 846.4,159.4 846.8,146.4 847.2,144.6 847.6,125.0 848.0,124.2 848.4,118.0 848.8,109.8 849.2,110.8 849.6,116.7 850.0,108.8 850.4,102.3 850.8,98.8 851.2,95.0 851.6,88.8 852.0,80.2 852.4,87.9 852.8,81.2 853.2,83.8 853.6,91.4 854.0,90.2 854.4,89.8 854.9,95.1 855.3,105.0 855.7,97.1 856.1,103.4 856.5,104.4 856.9,118.3 857.3,118.1 857.7,122.0 858.1,112.4 858.5,118.1 858.9,118.2 859.3,112.1 859.7,102.9 860.1,101.2 860.5,105.8 860.9,104.8 861.3,93.1 861.7,96.8 862.1,95.1 862.5,104.5 862.9,107.5 863.3,102.8 863.7,110.2 864.1,118.6 864.5,110.7 864.9,117.0 865.3,115.9 865.7,124.9 866.1,113.3 866.5,120.9 866.9,107.1 867.3,108.5 867.7,105.9 868.1,99.4 868.5,91.4 868.9,97.9 869.3,98.7 869.7,93.3 870.1,96.1 870.5,96.3 870.9,93.7 871.3,93.1 871.7,89.2 872.1,86.3 872.5,85.5 872.9,79.3 873.3,85.4 873.7,82.7 874.1,86.9 874.5,84.7 875.0,89.0 875.4,86.0 875.8,89.0 876.2,79.7 876.6,82.0 877.0,86.7 877.4,83.0 877.8,77.3 878.2,90.2 878.6,85.1 879.0,95.9 879.4,102.3 879.8,105.8 880.2,119.8 880.6,126.3 881.0,131.0 881.4,133.0 881.8,145.5 882.2,141.2 882.6,142.9 883.0,141.6 883.4,140.5 883.8,135.5 884.2,132.1 884.6,123.2 885.0,115.7 885.4,99.1 885.8,98.2 886.2,93.6 886.6,90.5 887.0,78.5 887.4,77.9 887.8,80.9 888.2,86.6 888.6,88.1 889.0,88.6 889.4,87.7 889.8,92.9 890.2,90.5 890.6,94.0 891.0,85.9 891.4,86.4 891.8,92.3 892.2,96.2 892.6,86.3 893.0,93.9 893.4,92.0 893.8,95.1 894.2,88.6 894.6,85.8 895.1,84.2 895.5,87.2 895.9,82.7 896.3,89.2 896.7,86.4 897.1,89.7 897.5,87.1 897.9,93.4 898.3,95.4 898.7,93.4 899.1,95.7 899.5,92.1 899.9,93.4 900.3,90.5 900.7,91.4 901.1,90.0 901.5,86.9 901.9,92.2 902.3,91.8 902.7,82.2 903.1,92.1 903.5,83.9 903.9,84.6 904.3,92.4 904.7,82.2 905.1,81.6 905.5,85.3 905.9,84.2 906.3,83.4 906.7,92.5 907.1,87.7 907.5,88.1 907.9,83.9 908.3,84.3 908.7,84.0 909.1,87.0 909.5,82.8 909.9,85.4 910.3,85.0 910.7,90.8 911.1,93.2 911.5,91.6 911.9,88.5 912.3,91.7 912.7,82.1 913.1,85.7 913.5,84.7 913.9,84.6 914.3,83.7 914.7,85.9 915.2,91.8 915.6,81.0 916.0,81.2 916.4,83.8 916.8,82.8 917.2,80.6 917.6,87.8 918.0,78.5 918.4,84.2 918.8,86.1 919.2,83.1 919.6,77.1 920.0,83.2 920.4,77.1 920.8,77.1 921.2,79.1 921.6,80.5 922.0,79.3 922.4,77.1 922.8,77.1 923.2,77.5 923.6,77.1 924.0,84.5 924.4,83.6 924.8,82.2 925.2,77.1 925.6,81.5 926.0,78.1 926.4,85.3 926.8,84.7 927.2,82.0 927.6,77.1 928.0,77.1 928.4,77.1 928.8,81.7 929.2,78.8 929.6,79.5 930.0,79.4 930.4,84.0 930.8,77.1 931.2,82.9 931.6,77.1 932.0,77.1 932.4,85.4 932.8,81.1 933.2,78.9 933.6,80.5 934.0,91.4 934.4,98.1 934.8,103.0 935.2,97.0 935.7,109.1 936.1,105.6 936.5,111.8 936.9,109.6 937.3,109.1 937.7,126.8 938.1,126.2 938.5,138.9 938.9,142.3 939.3,151.7 939.7,163.0 940.1,157.0 940.5,162.4 940.9,166.2 941.3,162.2 941.7,150.0 942.1,143.6 942.5,138.3 942.9,133.5 943.3,124.9 943.7,121.0 944.1,112.0 944.5,122.4 944.9,110.7 945.3,106.1 945.7,111.1 946.1,96.0 946.5,94.8 946.9,89.6 947.3,96.6 947.7,95.8 948.1,96.5 948.5,90.0 948.9,97.2 949.3,102.2 949.7,103.3 950.1,107.1 950.5,111.5 950.9,111.7 951.3,102.5 951.7,109.1 952.1,99.2 952.5,105.7 952.9,102.4 953.3,95.6 953.7,96.0 954.1,89.9 954.5,79.0 954.9,77.1 955.4,77.1 955.8,77.4 956.2,77.1 956.6,77.1 957.0,83.2 957.4,84.3 957.8,95.9 958.2,88.8 958.6,93.0 959.0,91.8 959.4,97.2 959.8,105.1 960.2,109.0" fill="none" stroke="#1010f0" stroke-width="3.0" stroke-linejoin="round" stroke-opacity="1.0"/>
<polyline points="724.2,132.8 724.9,135.6 725.6,132.0 726.3,129.8 727.0,127.0 727.7,122.8 728.4,120.6 729.1,125.0 729.8,129.0 730.5,139.5 731.2,147.9 731.9,156.0 732.6,160.2 733.3,159.7 734.0,157.5 734.8,151.9 735.5,151.8 736.2,152.6 736.9,148.0 737.6,145.0 738.3,144.8 739.0,144.7 739.7,144.9 740.4,147.6 741.1,149.9 741.8,154.7 742.5,156.8 743.2,158.0 743.9,156.2 744.6,153.0 745.3,150.8 746.0,148.7 746.7,144.7 747.4,140.3 748.1,137.5 748.8,135.2 749.5,135.0 750.2,133.9 750.9,131.8 751.6,137.2 752.3,137.5 753.0,138.6 753.7,138.5 754.5,140.9 755.2,136.9 755.9,130.7 756.6,122.7 757.3,115.9 758.0,109.5 758.7,109.2 759.4,113.2 760.1,125.7 760.8,137.9 761.5,149.3 762.2,163.1 762.9,178.0 763.6,187.4 764.3,195.4 765.0,193.9 765.7,184.8 766.4,172.7 767.1,156.6 767.8,139.8 768.5,129.8 769.2,122.8 769.9,121.5 770.6,120.7 771.3,121.7 772.0,122.9 772.7,126.5 773.4,129.6 774.1,131.5 774.9,134.6 775.6,135.2 776.3,137.7 777.0,134.8 777.7,138.0 778.4,135.9 779.1,138.1 779.8,140.5 780.5,141.8 781.2,141.3 781.9,138.5 782.6,135.7 783.3,134.7 784.0,130.4 784.7,123.2 785.4,117.5 786.1,113.1 786.8,109.1 787.5,103.5 788.2,103.3 788.9,100.5 789.6,99.9 790.3,100.6 791.0,107.8 791.7,114.9 792.4,126.6 793.1,138.3 793.8,148.8 794.6,155.1 795.3,163.8 796.0,170.6 796.7,173.9 797.4,170.3 798.1,164.4 798.8,158.2 799.5,151.7 800.2,144.7 800.9,142.1 801.6,144.5 802.3,143.6 803.0,139.9 803.7,136.7 804.4,132.7 805.1,132.6 805.8,128.3 806.5,128.0 807.2,130.3 807.9,134.9 808.6,136.5 809.3,145.2 810.0,148.7 810.7,156.1 811.4,159.2 812.1,157.6 812.8,158.3 813.5,152.0 814.2,149.1 815.0,144.4 815.7,137.8 816.4,130.8 817.1,124.5 817.8,119.6 818.5,121.5 819.2,120.2 819.9,120.5 820.6,116.2 821.3,118.7 822.0,117.8 822.7,116.6 823.4,114.0 824.1,111.0 824.8,110.7 825.5,112.0 826.2,113.5 826.9,118.3 827.6,126.8 828.3,133.6 829.0,136.0 829.7,141.4 830.4,147.3 831.1,145.0 831.8,145.2 832.5,142.9 833.2,139.8 833.9,136.5 834.6,132.9 835.4,127.4 836.1,123.4 836.8,117.9 837.5,120.0 838.2,116.0 838.9,121.3 839.6,124.7 840.3,128.4 841.0,135.3 841.7,144.2 842.4,152.6 843.1,156.1 843.8,160.0 844.5,158.8 845.2,161.2 845.9,158.0 846.6,151.9 847.3,151.1 848.0,144.4 848.7,137.8 849.4,134.0 850.1,134.4 850.8,133.1 851.5,133.0 852.2,129.3 852.9,132.5 853.6,130.8 854.3,130.6 855.1,133.6 855.8,134.5 856.5,132.1 857.2,134.2 857.9,136.4 858.6,134.8 859.3,137.0 860.0,137.4 860.7,138.7 861.4,135.3 862.1,133.9 862.8,134.0 863.5,131.0 864.2,133.4 864.9,130.8 865.6,128.4 866.3,125.5 867.0,125.2 867.7,126.7 868.4,124.9 869.1,120.6 869.8,116.3 870.5,110.4 871.2,110.3 871.9,105.3 872.6,104.8 873.3,106.8 874.0,113.1 874.7,121.2 875.5,128.1 876.2,129.9 876.9,131.4 877.6,133.2 878.3,141.0 879.0,144.6 879.7,144.4 880.4,146.7 881.1,145.8 881.8,143.5 882.5,139.0 883.2,139.2 883.9,134.6 884.6,130.4 885.3,123.0 886.0,118.1 886.7,110.7 887.4,103.8 888.1,97.3 888.8,94.8 889.5,96.5 890.2,99.1 890.9,100.6 891.6,102.2 892.3,104.2 893.0,105.3 893.7,105.3 894.4,105.5 895.2,106.5 895.9,101.3 896.6,101.6 897.3,98.6 898.0,98.4 898.7,96.6 899.4,100.3 900.1,102.7 900.8,105.8 901.5,108.8 902.2,106.9 902.9,107.8 903.6,106.3 904.3,101.7 905.0,93.7 905.7,90.3 906.4,86.5 907.1,80.3 907.8,79.3 908.5,77.8 909.2,81.9 909.9,80.6 910.6,79.5 911.3,79.8 912.0,80.0 912.7,84.3 913.4,83.4 914.1,84.4 914.8,84.0 915.6,79.6 916.3,79.8 917.0,76.2 917.7,76.6 918.4,72.8 919.1,73.7 919.8,74.6 920.5,72.9 921.2,73.3 921.9,78.4 922.6,77.4 923.3,78.2 924.0,80.3 924.7,81.6 925.4,88.3 926.1,96.2 926.8,105.1 927.5,111.7 928.2,117.1 928.9,121.2 929.6,119.1 930.3,109.7 931.0,97.5 931.7,89.6 932.4,82.3 933.1,81.7 933.8,86.1 934.5,97.8 935.2,105.9 936.0,111.8 936.7,129.0 937.4,149.5 938.1,161.2 938.8,163.3 939.5,158.3 940.2,148.8 940.9,142.7 941.6,137.7 942.3,135.5 943.0,131.3 943.7,130.5 944.4,123.9 945.1,118.8 945.8,113.0 946.5,106.9 947.2,104.7 947.9,106.0 948.6,101.9 949.3,92.3 950.0,86.4 950.7,80.0 951.4,71.2 952.1,72.0 952.8,72.9 953.5,81.0 954.2,86.6 954.9,95.3 955.7,100.5 956.4,101.3 957.1,97.0 957.8,93.5 958.5,88.9 959.2,89.7 959.9,86.0" fill="none" stroke="#f01818" stroke-width="1.8" stroke-linejoin="round" stroke-opacity="1.0"/>
</g>
<line x1="724.0" y1="171.8" x2="960.4" y2="171.8" stroke="#a8a8a8" stroke-width="1.2"/>
<rect x="724.0" y="49.7" width="293.6" height="213.8" fill="none" stroke="#111" stroke-width="1.2"/>
<line x1="734.2" y1="263.5" x2="734.2" y2="261.5" stroke="#111" stroke-width="0.7"/>
<line x1="734.2" y1="49.7" x2="734.2" y2="51.7" stroke="#111" stroke-width="0.7"/>
<line x1="744.3" y1="263.5" x2="744.3" y2="261.5" stroke="#111" stroke-width="0.7"/>
<line x1="744.3" y1="49.7" x2="744.3" y2="51.7" stroke="#111" stroke-width="0.7"/>
<line x1="754.4" y1="263.5" x2="754.4" y2="261.5" stroke="#111" stroke-width="0.7"/>
<line x1="754.4" y1="49.7" x2="754.4" y2="51.7" stroke="#111" stroke-width="0.7"/>
<line x1="764.4" y1="263.5" x2="764.4" y2="260.5" stroke="#111" stroke-width="0.7"/>
<line x1="764.4" y1="49.7" x2="764.4" y2="52.7" stroke="#111" stroke-width="0.7"/>
<line x1="774.5" y1="263.5" x2="774.5" y2="261.5" stroke="#111" stroke-width="0.7"/>
<line x1="774.5" y1="49.7" x2="774.5" y2="51.7" stroke="#111" stroke-width="0.7"/>
<line x1="784.5" y1="263.5" x2="784.5" y2="261.5" stroke="#111" stroke-width="0.7"/>
<line x1="784.5" y1="49.7" x2="784.5" y2="51.7" stroke="#111" stroke-width="0.7"/>
<line x1="794.6" y1="263.5" x2="794.6" y2="261.5" stroke="#111" stroke-width="0.7"/>
<line x1="794.6" y1="49.7" x2="794.6" y2="51.7" stroke="#111" stroke-width="0.7"/>
<line x1="804.6" y1="263.5" x2="804.6" y2="260.5" stroke="#111" stroke-width="0.7"/>
<line x1="804.6" y1="49.7" x2="804.6" y2="52.7" stroke="#111" stroke-width="0.7"/>
<line x1="814.7" y1="263.5" x2="814.7" y2="261.5" stroke="#111" stroke-width="0.7"/>
<line x1="814.7" y1="49.7" x2="814.7" y2="51.7" stroke="#111" stroke-width="0.7"/>
<line x1="824.7" y1="263.5" x2="824.7" y2="261.5" stroke="#111" stroke-width="0.7"/>
<line x1="824.7" y1="49.7" x2="824.7" y2="51.7" stroke="#111" stroke-width="0.7"/>
<line x1="834.8" y1="263.5" x2="834.8" y2="261.5" stroke="#111" stroke-width="0.7"/>
<line x1="834.8" y1="49.7" x2="834.8" y2="51.7" stroke="#111" stroke-width="0.7"/>
<line x1="844.8" y1="263.5" x2="844.8" y2="260.5" stroke="#111" stroke-width="0.7"/>
<line x1="844.8" y1="49.7" x2="844.8" y2="52.7" stroke="#111" stroke-width="0.7"/>
<line x1="854.9" y1="263.5" x2="854.9" y2="261.5" stroke="#111" stroke-width="0.7"/>
<line x1="854.9" y1="49.7" x2="854.9" y2="51.7" stroke="#111" stroke-width="0.7"/>
<line x1="864.9" y1="263.5" x2="864.9" y2="261.5" stroke="#111" stroke-width="0.7"/>
<line x1="864.9" y1="49.7" x2="864.9" y2="51.7" stroke="#111" stroke-width="0.7"/>
<line x1="875.0" y1="263.5" x2="875.0" y2="261.5" stroke="#111" stroke-width="0.7"/>
<line x1="875.0" y1="49.7" x2="875.0" y2="51.7" stroke="#111" stroke-width="0.7"/>
<line x1="885.0" y1="263.5" x2="885.0" y2="260.5" stroke="#111" stroke-width="0.7"/>
<line x1="885.0" y1="49.7" x2="885.0" y2="52.7" stroke="#111" stroke-width="0.7"/>
<line x1="895.1" y1="263.5" x2="895.1" y2="261.5" stroke="#111" stroke-width="0.7"/>
<line x1="895.1" y1="49.7" x2="895.1" y2="51.7" stroke="#111" stroke-width="0.7"/>
<line x1="905.1" y1="263.5" x2="905.1" y2="261.5" stroke="#111" stroke-width="0.7"/>
<line x1="905.1" y1="49.7" x2="905.1" y2="51.7" stroke="#111" stroke-width="0.7"/>
<line x1="915.2" y1="263.5" x2="915.2" y2="261.5" stroke="#111" stroke-width="0.7"/>
<line x1="915.2" y1="49.7" x2="915.2" y2="51.7" stroke="#111" stroke-width="0.7"/>
<line x1="925.2" y1="263.5" x2="925.2" y2="260.5" stroke="#111" stroke-width="0.7"/>
<line x1="925.2" y1="49.7" x2="925.2" y2="52.7" stroke="#111" stroke-width="0.7"/>
<line x1="935.2" y1="263.5" x2="935.2" y2="261.5" stroke="#111" stroke-width="0.7"/>
<line x1="935.2" y1="49.7" x2="935.2" y2="51.7" stroke="#111" stroke-width="0.7"/>
<line x1="945.3" y1="263.5" x2="945.3" y2="261.5" stroke="#111" stroke-width="0.7"/>
<line x1="945.3" y1="49.7" x2="945.3" y2="51.7" stroke="#111" stroke-width="0.7"/>
<line x1="955.4" y1="263.5" x2="955.4" y2="261.5" stroke="#111" stroke-width="0.7"/>
<line x1="955.4" y1="49.7" x2="955.4" y2="51.7" stroke="#111" stroke-width="0.7"/>
<line x1="965.4" y1="263.5" x2="965.4" y2="260.5" stroke="#111" stroke-width="0.7"/>
<line x1="965.4" y1="49.7" x2="965.4" y2="52.7" stroke="#111" stroke-width="0.7"/>
<line x1="975.5" y1="263.5" x2="975.5" y2="261.5" stroke="#111" stroke-width="0.7"/>
<line x1="975.5" y1="49.7" x2="975.5" y2="51.7" stroke="#111" stroke-width="0.7"/>
<line x1="985.5" y1="263.5" x2="985.5" y2="261.5" stroke="#111" stroke-width="0.7"/>
<line x1="985.5" y1="49.7" x2="985.5" y2="51.7" stroke="#111" stroke-width="0.7"/>
<line x1="995.6" y1="263.5" x2="995.6" y2="261.5" stroke="#111" stroke-width="0.7"/>
<line x1="995.6" y1="49.7" x2="995.6" y2="51.7" stroke="#111" stroke-width="0.7"/>
<line x1="1005.6" y1="263.5" x2="1005.6" y2="260.5" stroke="#111" stroke-width="0.7"/>
<line x1="1005.6" y1="49.7" x2="1005.6" y2="52.7" stroke="#111" stroke-width="0.7"/>
<line x1="1015.7" y1="263.5" x2="1015.7" y2="261.5" stroke="#111" stroke-width="0.7"/>
<line x1="1015.7" y1="49.7" x2="1015.7" y2="51.7" stroke="#111" stroke-width="0.7"/>
<line x1="724.0" y1="241.4" x2="726.0" y2="241.4" stroke="#111" stroke-width="0.7"/>
<line x1="1017.6" y1="241.4" x2="1015.6" y2="241.4" stroke="#111" stroke-width="0.7"/>
<line x1="724.0" y1="218.2" x2="726.0" y2="218.2" stroke="#111" stroke-width="0.7"/>
<line x1="1017.6" y1="218.2" x2="1015.6" y2="218.2" stroke="#111" stroke-width="0.7"/>
<line x1="724.0" y1="195.0" x2="726.0" y2="195.0" stroke="#111" stroke-width="0.7"/>
<line x1="1017.6" y1="195.0" x2="1015.6" y2="195.0" stroke="#111" stroke-width="0.7"/>
<line x1="724.0" y1="171.8" x2="727.0" y2="171.8" stroke="#111" stroke-width="0.7"/>
<line x1="1017.6" y1="171.8" x2="1014.6" y2="171.8" stroke="#111" stroke-width="0.7"/>
<line x1="724.0" y1="148.6" x2="726.0" y2="148.6" stroke="#111" stroke-width="0.7"/>
<line x1="1017.6" y1="148.6" x2="1015.6" y2="148.6" stroke="#111" stroke-width="0.7"/>
<line x1="724.0" y1="125.4" x2="726.0" y2="125.4" stroke="#111" stroke-width="0.7"/>
<line x1="1017.6" y1="125.4" x2="1015.6" y2="125.4" stroke="#111" stroke-width="0.7"/>
<line x1="724.0" y1="102.2" x2="726.0" y2="102.2" stroke="#111" stroke-width="0.7"/>
<line x1="1017.6" y1="102.2" x2="1015.6" y2="102.2" stroke="#111" stroke-width="0.7"/>
<line x1="724.0" y1="79.0" x2="727.0" y2="79.0" stroke="#111" stroke-width="0.7"/>
<line x1="1017.6" y1="79.0" x2="1014.6" y2="79.0" stroke="#111" stroke-width="0.7"/>
<line x1="724.0" y1="55.8" x2="726.0" y2="55.8" stroke="#111" stroke-width="0.7"/>
<line x1="1017.6" y1="55.8" x2="1015.6" y2="55.8" stroke="#111" stroke-width="0.7"/>
<text x="724.2" y="275.4" class="bt">0</text>
<text x="764.4" y="275.4" class="bt">400</text>
<text x="804.6" y="275.4" class="bt">800</text>
<text x="844.8" y="275.4" class="bt">1200</text>
<text x="885.0" y="275.4" class="bt">1600</text>
<text x="925.2" y="275.4" class="bt">2000</text>
<text x="965.4" y="275.4" class="bt">2400</text>
<text x="716.8" y="82.3" class="bt">1</text>
<text x="712.2" y="175.0" class="bt">0.5</text>
<text x="871" y="288" class="bt2">Residue Index</text>
<text transform="translate(696.6,153.7) rotate(-90)" class="bt2">Disorder Disposition</text>
<text x="987.8" y="66.6" class="blg">P-FIT</text>
<line x1="993" y1="63.6" x2="1007.7" y2="63.6" stroke="#11e22a" stroke-width="2.2"/>
<text x="987.8" y="77.3" class="blg">VSL2B</text>
<line x1="993" y1="74.3" x2="1007.7" y2="74.3" stroke="#1010f0" stroke-width="3.0"/>
<text x="987.8" y="88.0" class="blg">VL3</text>
<line x1="993" y1="85.0" x2="1007.7" y2="85.0" stroke="#f01818" stroke-width="2.2"/>
<text x="987.8" y="98.6" class="blg">VLXT</text>
<line x1="993" y1="95.6" x2="1007.7" y2="95.6" stroke="#b4b4b4" stroke-width="2.0"/>
<text x="986.4" y="246.6" class="bigb" textLength="13.4" lengthAdjust="spacingAndGlyphs">B</text>
</g>
<g id="panelC">
<defs><radialGradient id="g_g" cx="0.5" cy="0.6" r="0.55"><stop offset="0" stop-color="#c2f2d2"/><stop offset="0.72" stop-color="#92d8ac"/><stop offset="1" stop-color="#43915f"/></radialGradient>
<radialGradient id="g_b" cx="0.5" cy="0.6" r="0.55"><stop offset="0" stop-color="#babdec"/><stop offset="0.72" stop-color="#8e93d4"/><stop offset="1" stop-color="#4a4e98"/></radialGradient>
<radialGradient id="g_t" cx="0.5" cy="0.6" r="0.55"><stop offset="0" stop-color="#a6e8e2"/><stop offset="0.72" stop-color="#6ccac2"/><stop offset="1" stop-color="#318a84"/></radialGradient>
<radialGradient id="g_y" cx="0.5" cy="0.6" r="0.55"><stop offset="0" stop-color="#f4f2c8"/><stop offset="0.72" stop-color="#e0dca0"/><stop offset="1" stop-color="#9a9256"/></radialGradient>
<radialGradient id="g_p" cx="0.5" cy="0.6" r="0.55"><stop offset="0" stop-color="#f8dcc4"/><stop offset="0.72" stop-color="#ecc09a"/><stop offset="1" stop-color="#a67450"/></radialGradient>
<radialGradient id="g_lb" cx="0.5" cy="0.6" r="0.55"><stop offset="0" stop-color="#c4e2f4"/><stop offset="0.72" stop-color="#92c2e2"/><stop offset="1" stop-color="#4a7ea4"/></radialGradient>
<radialGradient id="g_pk" cx="0.5" cy="0.6" r="0.55"><stop offset="0" stop-color="#f8d2ce"/><stop offset="0.72" stop-color="#ecaaa6"/><stop offset="1" stop-color="#a66a68"/></radialGradient>
<radialGradient id="g_r" cx="0.5" cy="0.6" r="0.55"><stop offset="0" stop-color="#f8968c"/><stop offset="0.72" stop-color="#ea5a4e"/><stop offset="1" stop-color="#a02e26"/></radialGradient>
<radialGradient id="g_sa" cx="0.5" cy="0.6" r="0.55"><stop offset="0" stop-color="#f2b0a4"/><stop offset="0.72" stop-color="#de8476"/><stop offset="1" stop-color="#984a40"/></radialGradient>
<radialGradient id="g_dt" cx="0.5" cy="0.6" r="0.55"><stop offset="0" stop-color="#62cccc"/><stop offset="0.72" stop-color="#30aeb0"/><stop offset="1" stop-color="#186c70"/></radialGradient>
<radialGradient id="g_dg" cx="0.5" cy="0.6" r="0.55"><stop offset="0" stop-color="#74d09a"/><stop offset="0.72" stop-color="#42ae70"/><stop offset="1" stop-color="#1e7044"/></radialGradient>
<radialGradient id="g_pu" cx="0.5" cy="0.6" r="0.55"><stop offset="0" stop-color="#dccaf4"/><stop offset="0.72" stop-color="#bea6e6"/><stop offset="1" stop-color="#6e58a0"/></radialGradient>
<radialGradient id="g_db" cx="0.5" cy="0.6" r="0.55"><stop offset="0" stop-color="#8290d0"/><stop offset="0.72" stop-color="#4e5cac"/><stop offset="1" stop-color="#26337a"/></radialGradient>
<radialGradient id="g_yg" cx="0.5" cy="0.6" r="0.55"><stop offset="0" stop-color="#e8f2c8"/><stop offset="0.72" stop-color="#d0e2a4"/><stop offset="1" stop-color="#8aa05a"/></radialGradient>
<radialGradient id="g_lg" cx="0.5" cy="0.6" r="0.55"><stop offset="0" stop-color="#d2ecc2"/><stop offset="0.72" stop-color="#b2daa0"/><stop offset="1" stop-color="#6a9a58"/></radialGradient>
<radialGradient id="g_bl" cx="0.5" cy="0.6" r="0.55"><stop offset="0" stop-color="#d4e4f4"/><stop offset="0.72" stop-color="#b6cbe8"/><stop offset="1" stop-color="#6a80a8"/></radialGradient>
<linearGradient id="hl" x1="0" y1="0" x2="0" y2="1"><stop offset="0" stop-color="#fff" stop-opacity="0.95"/><stop offset="1" stop-color="#fff" stop-opacity="0.05"/></linearGradient>
<pattern id="spk" width="5.5" height="4.6" patternUnits="userSpaceOnUse" patternTransform="rotate(-28)"><rect width="5.5" height="4.6" fill="#ea10e4"/><ellipse cx="1.6" cy="1.1" rx="1.5" ry="0.75" fill="#28061e" opacity="0.85"/><ellipse cx="4.4" cy="3.4" rx="1.3" ry="0.7" fill="#1c2410" opacity="0.8"/></pattern>
<pattern id="dmesh" width="8" height="7" patternUnits="userSpaceOnUse" patternTransform="rotate(-32)"><rect width="8" height="7" fill="#121a12"/><rect x="0.5" y="0.6" width="2.2" height="0.8" fill="#3cc83c"/><rect x="4.5" y="1.8" width="1.8" height="0.8" fill="#1eb0d0"/><rect x="2.2" y="3.4" width="2.0" height="0.8" fill="#c4e040"/><rect x="5.8" y="4.6" width="1.6" height="0.8" fill="#3cc83c"/><rect x="0.8" y="5.6" width="1.8" height="0.8" fill="#1eb0d0"/><rect x="3.6" y="6.2" width="1.4" height="0.6" fill="#8a2a8a"/></pattern></defs>
<path d="M725.6 415.1L793.9 396.9M727.9 412.8L826.6 361.2M726.1 420.2L863.5 375.4M727.4 437.2L865.1 377.4M718.2 432.4L861.4 375.7M719.8 428.0L872.9 497.7M722.3 432.7L808.0 361.8M721.0 436.3L810.3 394.5M721.2 437.8L805.9 357.3M722.9 433.4L809.0 509.6M722.7 432.3L885.7 529.1M725.7 430.0L892.3 529.5M722.7 449.7L858.8 341.6M721.2 453.6L818.8 484.5M715.4 444.6L818.9 363.4M720.8 473.6L862.2 375.0M721.1 469.2L808.9 476.2M714.4 486.4L813.7 400.1M721.2 486.2L818.3 506.7M716.2 485.2L810.0 475.7M722.5 487.9L820.0 519.5M713.3 486.9L789.3 376.6M715.6 483.2L850.4 365.4M718.5 485.1L803.5 364.0M722.0 487.1L910.5 470.2M710.0 487.8L809.2 368.2M732.9 495.5L880.7 340.0M727.7 498.3L843.4 359.3M732.9 491.2L805.2 475.8M727.4 490.9L844.5 536.5M734.3 521.5L833.9 514.8M735.4 514.9L885.9 341.3M736.6 514.0L840.4 422.3M729.4 519.3L815.1 459.1M737.5 521.4L822.0 378.0M725.4 514.4L916.4 515.8M733.6 519.4L876.2 343.8M743.8 531.0L862.0 538.9M744.2 531.1L794.2 391.9M742.9 527.3L818.6 361.8M740.3 529.7L832.2 378.2M743.5 531.2L792.7 439.4M740.7 530.8L870.0 533.7M754.4 544.9L791.4 398.1M757.4 552.6L791.4 376.8M756.7 548.8L906.2 482.7M754.8 547.2L836.4 513.9M760.2 550.8L819.7 444.1M753.4 551.1L814.5 450.5M712.8 614.1L826.4 487.8M708.7 616.7L852.3 490.2M764.7 623.0L869.2 535.0M764.2 622.4L853.3 488.1M764.0 621.7L823.4 486.6M759.0 622.7L833.9 533.2M764.1 621.6L822.7 520.8M759.7 618.0L897.0 528.9M765.2 616.3L818.2 518.0M765.8 623.1L896.3 530.2M763.1 621.3L847.0 533.8M809.2 644.5L835.2 532.3M811.9 641.9L867.2 503.5M809.6 644.4L894.6 532.0M817.0 642.8L812.4 501.7M807.3 643.8L835.0 529.9M811.3 641.9L849.2 535.4M814.3 640.9L875.0 515.7M752.3 658.6L891.8 525.3M755.1 658.9L837.1 515.6M821.4 678.0L890.2 532.6M818.1 678.6L834.9 532.1M824.3 678.7L851.0 536.9M820.6 676.7L859.8 537.4M821.6 683.6L862.2 537.2M822.8 674.9L866.1 533.2M820.5 676.5L862.7 538.5M820.0 678.4L847.8 535.2M823.4 678.0L857.7 486.8M707.7 610.1L744.3 530.8M711.5 614.1L814.6 509.8M710.8 610.1L757.2 547.8M878.0 622.4L876.2 521.0M876.5 621.0L889.2 532.8M895.8 619.1L874.4 515.9M897.5 620.6L894.5 513.5M896.8 622.2L869.0 499.7M936.6 607.0L918.8 491.8M938.6 606.4L914.0 510.6M951.1 598.6L893.3 527.3M949.8 597.2L888.6 526.3M711.3 613.7L822.0 678.2M763.9 621.3L811.9 642.1M764.9 621.5L756.5 659.2M765.0 620.2L822.8 677.5M934.1 607.0L949.5 597.4M998.0 492.9L968.4 532.9M721.5 494.8L880.2 519.4M727.6 494.5L817.4 488.5M745.2 528.6L891.6 531.0M728.9 498.9L834.3 532.1M713.5 485.0L832.9 531.7M738.3 517.6L868.5 536.1M758.0 549.2L823.4 523.6M742.5 530.5L844.5 537.4M713.8 477.8L839.5 516.3M710.6 482.1L863.8 540.3M715.9 483.7L889.0 524.5M728.9 516.7L838.1 519.4M970.0 530.5L903.1 483.9M970.4 533.2L819.3 481.7M964.0 528.1L826.4 487.4M996.6 494.5L984.7 448.0M997.1 493.6L920.4 492.9M997.6 492.0L975.2 470.1M1001.3 491.7L984.9 444.6M998.2 492.7L963.4 429.1M995.0 495.2L919.9 490.8M792.5 408.8L912.0 353.4M803.7 365.3L872.6 338.5M796.8 394.0L862.9 335.6M827.0 382.5L910.6 344.8M805.4 399.6L866.2 369.0" stroke="#c4e23c" stroke-width="0.9" fill="none" stroke-opacity="1.0"/>
<path d="M725.7 415.1L822.8 379.3M725.0 420.8L895.3 514.8M726.6 413.6L927.5 494.3M729.2 431.1L793.6 393.5M723.2 431.4L923.4 488.8M722.6 428.8L809.7 475.7M724.6 432.1L863.8 419.2M715.7 453.4L816.9 361.8M723.8 451.7L913.9 471.0M719.9 443.8L901.5 487.9M720.2 450.7L859.6 372.4M720.5 448.1L840.0 422.1M716.6 451.6L886.2 467.2M717.1 463.7L870.7 499.5M722.3 472.2L847.3 363.7M717.5 470.7L899.5 483.7M715.6 475.1L864.3 421.6M710.8 483.1L813.4 501.6M716.6 484.1L824.3 383.3M720.3 489.2L926.8 493.6M731.7 497.5L848.4 361.3M729.9 498.1L868.4 448.5M727.9 492.3L898.7 457.1M728.5 497.2L847.5 365.7M732.0 502.6L796.1 408.8M723.9 496.9L868.7 426.0M724.3 495.6L836.7 519.6M733.5 502.0L838.7 425.5M738.2 520.7L789.1 409.7M735.8 522.2L813.1 505.2M732.3 510.3L815.6 506.1M742.1 531.1L794.0 400.1M743.8 533.1L851.6 362.0M743.2 530.5L868.9 448.3M745.6 533.4L912.5 474.1M743.0 529.0L912.7 470.7M751.6 546.0L796.5 395.9M759.1 545.4L898.0 333.9M707.2 616.4L835.2 532.1M710.9 615.3L812.4 505.1M710.6 613.2L865.1 537.8M715.0 614.4L845.3 529.9M708.9 616.2L869.4 538.6M708.3 612.3L822.2 518.1M759.3 620.2L848.4 535.7M766.0 621.2L877.4 514.2M766.0 622.2L870.0 501.9M765.3 619.7L864.4 537.9M767.9 624.2L849.6 535.3M763.2 623.1L835.3 533.5M813.0 640.5L819.1 517.1M812.4 646.2L865.8 538.3M813.8 641.7L864.1 538.6M816.0 639.1L875.1 515.8M814.5 637.4L825.1 485.8M811.9 643.7L891.6 530.4M809.2 637.8L891.8 528.3M815.6 641.7L836.5 530.5M758.5 658.5L822.5 519.6M753.6 662.2L846.7 534.6M755.5 658.9L834.3 532.0M818.7 677.8L853.4 486.1M817.0 676.7L892.1 524.6M819.4 675.7L808.1 507.9M825.0 677.4L819.3 518.5M820.2 677.8L823.3 484.6M711.1 611.2L811.1 509.9M710.8 614.4L759.9 549.2M709.6 613.6L811.5 501.0M711.1 613.9L758.3 548.7M710.2 611.8L759.6 550.3M710.8 613.4L823.9 519.3M881.5 622.4L894.7 511.6M878.0 620.9L896.3 510.9M876.3 620.8L863.4 537.8M875.5 625.8L910.9 510.8M873.4 625.3L852.2 533.6M875.7 619.7L869.8 498.5M873.5 619.7L918.0 492.7M877.0 620.4L890.7 528.9M880.9 620.7L873.3 518.8M875.2 623.8L919.9 497.2M877.6 621.7L876.1 515.9M881.0 622.4L892.4 519.1M873.4 618.3L912.3 470.1M876.0 621.5L894.5 515.6M875.0 624.1L897.3 515.0M877.7 618.5L915.1 507.2M877.2 622.1L921.1 489.6M879.9 622.9L900.6 486.6M875.8 618.1L911.3 473.1M878.1 621.7L902.0 491.4M880.7 619.8L892.3 529.1M874.9 626.1L919.7 493.5M880.6 622.9L868.8 539.1M877.1 621.5L864.6 537.4M876.7 621.7L897.4 517.8M876.2 624.8L912.2 511.7M880.4 624.8L888.8 530.2M880.4 618.5L902.1 485.7M875.1 622.9L892.7 514.6M881.3 621.7L848.8 532.9M881.2 622.7L900.3 486.9M879.6 620.4L918.0 494.0M875.7 621.8L861.3 535.6M878.4 622.2L844.6 538.3M901.9 620.6L892.8 513.1M898.2 623.2L916.4 507.9M897.7 624.4L870.6 499.9M899.2 625.3L914.7 492.7M898.6 617.2L891.6 529.4M896.1 616.7L910.7 507.1M901.4 620.5L867.8 534.9M893.1 617.5L914.3 471.3M896.3 618.9L898.7 513.3M894.3 622.6L865.5 538.3M899.0 620.7L894.9 515.4M896.1 620.2L874.1 499.8M897.1 621.9L913.3 509.7M897.3 616.9L880.1 519.1M893.3 617.6L891.8 533.3M901.5 622.2L887.6 526.7M897.1 621.9L911.1 510.8M897.5 621.7L893.3 514.2M897.0 620.4L893.3 529.8M898.8 616.1L866.7 501.5M892.0 619.6L893.0 531.3M897.0 616.6L899.8 483.2M898.2 619.5L891.6 532.8M898.3 619.4L891.1 511.5M894.4 622.7L873.4 502.7M896.0 620.4L915.5 509.5M900.4 616.7L901.2 490.0M895.6 620.5L892.9 517.0M897.0 620.9L894.6 516.0M900.6 622.5L848.2 536.8M893.4 621.5L894.9 517.8M896.9 618.4L919.7 492.7M897.7 620.7L916.9 491.3M898.6 624.6L872.5 516.1M897.2 621.0L909.0 511.2M892.6 622.2L913.7 510.0M897.0 621.1L913.6 510.4M937.6 609.5L851.1 530.3M933.7 602.6L911.1 470.2M932.7 607.0L890.1 530.2M937.0 607.6L875.5 521.0M934.1 610.3L846.6 535.8M938.1 606.5L923.4 491.9M934.7 607.4L891.2 530.0M933.8 609.3L892.5 528.9M934.8 608.1L913.7 510.6M933.6 607.1L894.8 515.6M938.1 608.6L913.0 510.3M932.9 605.3L851.4 531.7M934.1 607.1L880.4 515.3M936.5 608.3L875.4 497.2M936.3 609.7L896.1 528.2M929.6 606.9L918.8 492.7M931.0 609.2L919.6 491.0M934.6 608.7L891.2 516.9M933.7 608.1L867.8 536.8M931.5 607.3L896.1 529.1M935.4 608.4L872.8 518.4M932.3 603.2L898.7 490.3M929.6 605.2L903.7 492.4M935.0 607.9L867.3 495.8M934.9 604.7L895.6 514.9M934.9 608.9L893.9 515.4M935.2 610.4L895.8 512.0M938.3 609.4L913.3 510.0M932.7 607.5L862.1 537.1M933.7 606.7L890.1 527.4M937.4 611.9L887.2 527.4M932.8 605.3L895.9 511.1M937.5 604.2L891.4 524.8M935.5 603.0L871.2 499.9M933.6 611.6L889.3 533.8M932.3 607.5L921.0 492.8M934.8 604.2L912.1 469.7M934.2 607.5L850.3 535.1M950.7 600.6L847.9 534.2M951.7 595.8L888.6 527.9M950.4 602.7L913.9 470.0M947.3 598.5L911.8 471.8M949.7 597.9L850.0 535.3M948.5 594.7L891.1 530.6M949.9 596.5L912.3 468.5M947.9 599.6L899.2 517.2M948.2 599.8L913.8 508.7M949.2 599.6L919.5 493.4M948.3 596.9L866.4 538.5M951.3 598.3L919.4 495.7M950.0 597.4L895.4 518.7M945.5 597.8L912.4 471.6M948.3 597.2L905.1 488.4M949.9 597.3L912.7 470.8M949.9 597.9L919.9 493.5M947.1 598.8L914.0 510.2M952.3 593.6L875.2 514.0M946.1 601.5L872.1 502.2M950.4 601.8L878.9 514.8M952.4 598.4L895.0 515.2M947.7 599.7L894.6 514.6M952.1 596.4L919.0 490.0M950.3 597.9L902.4 491.9M954.1 601.0L895.5 529.0M946.8 601.8L864.9 532.1M948.2 600.9L873.7 503.8M949.8 597.2L923.8 494.4M951.8 598.6L887.5 529.4M711.4 613.7L755.9 658.6M710.7 614.5L821.4 679.0M763.9 621.3L755.5 659.0M764.3 620.9L822.1 678.2M812.2 643.1L755.8 660.0M897.0 620.9L934.4 607.4M933.6 606.1L949.0 596.5M998.8 493.5L969.2 533.5M758.9 545.9L825.2 484.3M710.9 483.6L837.4 518.9M728.2 499.6L825.8 482.6M731.1 496.5L877.8 513.8M765.0 550.5L835.1 532.2M712.7 489.9L836.8 516.2M745.4 532.0L826.6 486.2M763.1 552.1L848.3 534.6M746.6 533.1L817.1 521.5M716.7 481.9L827.4 480.4M723.1 498.6L835.9 534.7M741.3 531.0L866.2 536.3M969.4 528.9L977.7 466.0M969.8 531.9L966.3 457.2M967.6 530.4L850.2 533.1M968.3 531.9L907.0 509.5M968.2 532.6L868.8 449.2M969.9 533.6L806.0 475.0M964.7 534.4L876.9 518.7M970.0 531.6L984.0 449.2M966.5 531.8L910.5 472.2M969.5 533.0L875.7 518.9M968.7 532.0L869.1 449.2M1000.2 497.9L966.3 486.8M991.9 493.1L970.5 454.0M994.1 492.9L906.2 485.3M997.7 498.7L964.4 449.3M997.1 489.8L965.4 453.3M817.0 359.1L861.4 374.4M806.7 362.9L911.0 352.4M793.1 392.7L893.9 336.1M822.9 386.6L890.4 335.2M822.3 387.8L893.1 369.0M821.5 361.9L887.0 343.8M801.6 367.8L865.6 377.4" stroke="#14b2d6" stroke-width="0.9" fill="none" stroke-opacity="1.0"/>
<path d="M730.4 408.4L835.9 474.4M723.5 409.2L868.7 448.3M726.8 410.0L809.0 398.4M727.4 413.3L822.1 383.4M724.3 428.9L913.7 467.0M718.3 434.6L810.8 397.3M726.4 431.6L911.0 506.7M723.3 432.8L847.3 534.7M718.7 448.6L896.3 492.7M719.7 448.8L911.0 508.7M725.3 445.6L792.3 370.5M721.4 449.3L864.8 426.6M715.3 471.0L882.1 466.1M718.6 467.3L797.2 381.6M719.0 468.9L850.0 535.0M719.2 465.8L895.2 511.5M725.2 466.6L869.7 520.2M716.6 485.3L897.7 447.0M710.5 488.3L831.3 381.0M717.0 483.0L793.9 433.1M723.1 495.0L805.5 480.1M722.8 499.9L816.9 368.4M728.4 497.7L900.3 443.9M732.3 508.3L808.4 399.4M738.4 515.9L864.4 413.2M734.4 514.5L792.6 412.5M731.5 519.0L850.3 534.7M744.5 530.8L840.9 423.9M741.7 533.6L891.1 330.4M744.7 529.6L805.5 362.3M756.0 547.7L822.8 483.2M762.5 548.7L816.0 499.8M758.6 547.4L817.6 360.7M761.0 541.9L808.8 402.3M752.4 549.6L828.8 376.1M758.0 552.6L823.3 520.2M713.9 614.3L836.0 530.2M706.4 614.6L843.7 536.9M712.9 615.0L895.9 527.4M760.8 617.1L893.7 525.8M768.3 623.2L852.9 487.7M764.3 618.3L895.2 527.3M764.6 622.0L866.9 502.5M768.8 623.7L822.3 521.7M762.5 617.2L894.6 527.7M814.6 643.2L821.5 483.9M809.7 644.6L846.8 535.4M809.7 642.2L837.3 516.4M810.1 642.3L817.9 514.8M812.5 644.3L843.4 533.2M810.7 640.4L849.1 530.6M812.8 642.5L834.2 532.7M814.4 644.0L827.6 488.2M756.1 659.5L877.1 521.3M755.6 659.0L861.3 537.5M757.9 660.5L812.5 504.9M754.9 659.5L835.8 530.1M756.8 663.8L807.5 502.9M752.7 663.3L873.0 502.6M825.8 679.2L891.4 529.9M819.1 678.8L836.5 518.2M819.4 675.6L810.8 505.4M822.5 679.8L835.1 532.9M876.7 621.3L922.4 494.3M878.7 622.1L844.4 531.9M876.9 621.9L918.5 495.2M894.4 617.2L925.1 493.2M897.1 622.4L916.6 508.3M895.3 617.9L892.4 517.3M898.4 622.4L892.0 532.1M931.5 608.5L914.4 510.8M931.2 611.3L903.5 485.7M953.6 594.0L913.1 509.3M953.5 595.0L859.1 536.8M947.7 599.2L904.3 486.6M951.5 599.5L875.3 521.4M954.3 595.7L902.0 486.9M949.5 597.3L891.9 530.0M719.4 486.3L833.9 532.3M721.3 489.1L822.1 512.4M757.2 546.0L892.2 525.0M743.5 533.4L874.4 519.1M735.6 514.9L878.0 523.6M741.9 531.7L839.8 517.2M714.1 478.6L878.5 520.9M724.5 496.1L833.7 530.7M742.7 530.5L821.3 483.3M741.3 529.8L825.4 478.3M728.3 495.8L820.1 502.6M711.0 486.4L843.7 531.0M969.1 530.0L875.7 517.9M965.8 527.0L970.1 466.2M972.6 531.3L821.3 519.1M968.2 533.3L839.7 421.9" stroke="#2ec23c" stroke-width="0.9" fill="none" stroke-opacity="1.0"/>
<path d="M728.7 409.8L821.0 481.3M728.2 410.8L799.1 409.6M730.3 412.4L888.9 511.5M726.4 413.8L819.7 450.1M731.2 414.4L858.5 336.3M727.0 413.4L804.4 476.6M722.1 434.7L842.6 477.5M722.2 431.2L877.9 502.7M719.1 437.7L923.7 493.1M721.9 431.2L868.7 421.1M718.2 427.5L851.7 355.8M720.9 430.0L839.0 418.6M715.5 428.9L791.1 410.9M721.1 449.5L808.3 399.2M720.1 449.7L865.6 449.6M719.8 449.3L914.9 515.1M722.4 446.8L890.1 524.7M725.7 453.6L798.3 444.7M718.6 445.5L805.6 477.1M720.3 470.2L851.7 531.7M712.5 468.3L904.4 490.1M725.1 467.9L816.0 362.0M717.9 476.0L808.3 457.0M720.3 471.4L829.0 385.2M716.1 467.5L876.6 513.4M718.6 462.8L840.0 422.1M714.6 463.0L801.7 368.5M718.0 464.0L857.8 337.2M718.0 491.9L806.8 475.5M714.6 486.2L791.7 398.2M715.7 480.1L850.2 532.7M712.4 490.8L851.3 485.4M719.7 484.1L867.7 539.3M716.1 491.3L823.8 517.0M718.8 485.2L817.8 485.7M731.1 493.1L812.6 397.3M727.0 496.7L846.7 536.3M731.4 494.8L847.8 436.7M724.2 500.0L790.1 405.6M735.5 497.1L813.6 459.6M730.4 521.3L897.7 332.9M730.2 519.2L920.2 493.6M725.5 515.5L827.5 483.9M733.3 513.4L819.6 367.2M736.9 513.6L836.2 533.9M735.6 523.1L874.0 500.7M729.3 512.2L828.3 379.3M733.4 514.8L896.2 335.2M742.1 529.7L857.6 340.8M741.0 533.4L822.7 386.8M743.8 534.5L795.2 393.0M743.7 531.3L821.5 447.8M746.2 528.8L860.9 536.5M744.3 530.5L790.9 379.5M741.9 527.9L866.7 382.4M744.6 532.6L873.9 339.3M756.6 541.4L835.4 532.1M754.0 554.8L915.8 471.4M755.4 550.1L836.1 514.6M753.1 552.3L826.3 381.0M757.4 546.0L910.3 515.5M753.3 544.3L795.6 411.0M755.9 547.7L801.6 366.2M756.6 550.2L794.5 396.6M715.4 612.3L855.6 488.9M712.5 609.8L892.2 524.3M712.2 613.8L809.0 507.0M707.4 610.8L838.0 515.0M710.9 617.5L822.4 520.8M767.7 621.2L823.4 482.5M764.4 621.8L836.4 532.7M762.5 620.6L835.8 531.5M762.6 617.8L853.3 491.3M764.3 624.3L864.7 537.5M765.3 623.0L891.6 529.2M763.2 621.3L847.3 533.9M764.7 621.4L849.6 530.5M763.5 622.4L835.4 515.8M760.3 621.5L837.1 530.5M810.7 646.0L847.8 536.2M809.1 642.1L837.0 516.1M808.1 639.7L836.8 531.4M811.1 645.7L852.6 537.0M810.0 646.2L854.0 485.6M811.5 640.9L864.2 541.3M816.1 643.9L835.7 517.4M812.8 644.9L864.0 536.9M812.6 638.6L835.8 515.9M812.6 645.5L847.4 538.2M815.2 646.1L823.2 483.8M811.7 641.7L834.8 530.6M755.4 659.8L807.7 503.7M753.8 664.2L847.2 534.6M756.6 658.7L820.4 519.2M755.5 659.1L848.1 532.8M755.7 659.3L836.0 533.0M824.2 681.4L838.3 515.0M821.0 673.6L824.3 522.2M824.4 678.6L822.2 518.6M821.7 677.7L893.6 532.2M820.5 677.9L836.5 531.6M821.0 678.2L813.8 504.4M821.3 678.8L821.8 517.2M819.0 678.2L852.5 535.2M711.1 618.6L812.6 509.6M878.0 620.0L910.1 508.0M876.9 621.7L923.8 491.3M878.1 622.4L894.5 529.2M935.2 606.9L918.3 493.6M949.2 598.4L922.5 488.7M951.5 598.1L918.8 494.8M949.5 597.4L918.9 494.5M951.2 595.2L908.8 508.3M951.1 595.0L879.4 519.5M711.1 613.1L764.0 620.3M711.0 614.1L811.9 642.1M710.6 614.5L755.1 659.4M711.8 612.8L822.5 677.3M764.3 620.4L812.3 641.2M812.9 641.8L822.7 678.3M755.5 659.0L821.7 678.6M934.7 607.8L950.1 598.2M710.2 613.5L757.2 548.0M736.6 512.1L864.3 531.2M719.1 484.2L866.4 535.8M759.8 551.9L858.2 540.4M728.5 497.0L804.8 503.7M729.3 496.9L898.5 534.1M716.8 484.3L808.4 501.6M733.4 516.6L868.5 538.0M752.4 544.0L817.8 506.7M728.6 517.5L821.0 517.7M710.4 486.4L864.0 544.1M763.7 551.9L844.8 531.8M761.3 552.2L817.3 513.2M729.6 516.7L890.6 530.1M730.9 492.8L838.4 514.7M741.7 534.1L817.5 518.1M727.5 510.4L891.6 527.4M716.4 483.9L891.7 529.4M728.6 497.3L860.3 533.0M751.9 553.2L856.7 538.7M967.7 529.5L975.7 474.9M968.1 527.5L962.2 458.0M965.8 535.0L820.9 519.5M965.0 529.9L834.1 531.0M968.8 532.9L841.2 422.2M968.7 533.5L815.9 517.6M966.3 529.0L883.2 467.1M967.7 532.1L895.3 511.2M970.8 530.8L832.9 531.9M966.1 533.7L807.1 477.6M968.1 527.0L895.9 513.8M969.6 539.0L887.1 431.6M968.7 527.9L976.7 471.4M967.6 532.5L889.8 429.6M970.3 533.0L891.1 515.2M997.5 492.5L915.2 509.3M1001.6 488.3L977.8 432.7M992.4 491.6L982.6 435.7M842.6 367.2L877.1 339.8M818.5 395.7L881.3 343.5M853.8 358.2L891.9 340.9M802.3 366.1L869.6 370.4" stroke="#1a1a1a" stroke-width="0.9" fill="none" stroke-opacity="1.0"/>
<path d="M721.2 413.0L811.4 395.7M719.3 411.6L805.5 475.7M733.5 415.0L914.8 489.7M724.5 410.6L857.2 534.9M726.8 413.2L787.5 380.9M722.0 408.7L901.3 451.9M720.0 417.5L841.5 424.1M726.8 412.0L788.2 375.5M731.7 407.3L787.8 392.3M720.9 417.7L803.2 364.1M726.1 419.8L802.6 366.8M727.7 418.5L814.0 396.7M727.3 413.7L873.7 517.5M728.8 416.2L788.7 382.1M720.3 428.7L837.3 516.2M718.7 429.0L902.1 493.7M714.4 432.8L821.7 360.7M722.8 429.5L890.2 523.6M727.3 429.0L795.0 414.1M724.3 428.8L807.8 365.6M725.8 443.1L890.6 514.0M724.5 447.9L863.8 332.8M722.0 453.9L912.4 509.5M728.4 449.4L812.4 397.7M718.4 451.8L896.5 336.2M716.5 452.7L876.9 339.3M725.5 442.6L849.6 362.9M720.8 448.9L829.4 384.5M715.3 451.2L810.0 397.2M721.8 446.9L825.7 366.4M723.7 455.5L868.6 448.6M719.1 472.4L889.0 514.5M714.1 465.8L855.3 536.3M718.8 469.4L807.0 369.6M717.6 471.8L881.8 428.7M721.5 467.3L815.7 485.6M723.7 472.6L849.9 362.6M718.5 470.9L837.1 531.4M720.4 469.5L882.7 470.1M719.5 476.4L888.7 530.0M722.5 471.2L818.0 485.0M717.0 476.7L827.0 383.0M717.9 486.1L926.9 494.5M710.4 482.1L883.6 467.2M716.5 484.2L865.0 376.1M714.5 485.1L824.1 484.4M710.0 484.8L852.6 490.5M717.1 489.9L864.3 416.9M713.1 486.1L800.8 394.0M732.1 501.6L846.5 434.9M729.6 490.3L838.5 514.0M723.2 491.7L895.3 506.8M727.8 496.5L793.1 395.4M728.9 498.5L900.0 484.3M725.2 497.8L793.7 397.0M732.1 504.7L858.2 487.0M728.4 497.4L802.8 364.5M726.4 497.0L867.5 447.6M734.4 502.4L882.3 468.9M729.3 516.8L848.6 363.5M737.0 513.0L853.7 329.5M732.4 518.0L818.3 465.1M736.8 511.0L796.2 397.3M732.4 513.3L806.6 475.6M736.8 515.0L860.2 536.5M729.4 513.1L816.5 365.2M728.1 517.6L818.5 362.6M740.7 532.1L793.5 377.3M742.7 532.0L919.4 493.8M742.5 531.5L864.8 449.5M741.5 531.4L891.3 529.9M743.2 531.2L821.1 366.2M745.5 528.7L793.9 396.4M743.9 529.7L864.9 535.2M741.7 531.3L884.4 466.5M764.3 544.6L868.5 449.7M754.4 549.4L823.7 445.1M758.8 554.2L875.8 517.7M764.6 549.4L866.9 421.4M757.3 549.9L846.9 534.1M757.8 547.6L793.9 377.4M761.3 550.1L914.7 468.7M756.5 555.6L851.6 338.4M711.9 614.3L837.1 516.3M710.7 614.0L843.1 535.2M712.1 615.5L821.0 515.7M713.2 614.4L848.4 534.4M711.2 614.4L873.1 516.0M710.7 610.0L845.5 535.2M768.0 620.5L865.0 536.9M759.8 619.8L869.2 499.6M763.6 622.7L819.5 521.2M760.7 619.2L852.4 533.9M761.3 622.9L825.6 517.7M764.4 623.7L819.0 517.5M763.7 621.3L865.8 538.4M815.2 644.0L836.5 533.5M811.6 644.3L852.0 531.1M811.9 641.2L890.6 529.1M810.9 639.1L862.8 536.7M816.2 642.9L892.4 529.4M814.9 638.5L862.2 535.4M808.9 641.1L874.2 497.7M756.3 660.1L833.4 532.3M754.0 656.0L809.7 503.1M755.7 660.6L819.5 521.9M754.8 658.7L875.6 517.4M821.8 679.0L834.6 533.8M820.2 681.3L890.4 533.9M818.0 681.2L891.7 529.7M823.5 678.3L823.2 515.9M820.2 681.8L822.1 518.7M817.8 679.2L895.9 530.9M820.3 674.7L856.6 488.7M823.7 676.8L849.2 534.0M712.8 611.8L813.4 509.8M713.1 615.2L819.1 518.7M711.5 615.4L760.5 546.9M707.8 614.4L742.6 533.7M872.1 619.6L845.4 537.5M877.7 621.9L845.2 536.5M934.8 605.9L892.6 515.5M951.2 602.0L892.8 530.8M711.0 614.1L763.9 621.3M711.3 613.1L812.2 641.1M712.1 613.0L756.6 657.9M763.5 621.7L821.3 679.0M811.9 642.1L821.7 678.6M811.9 642.1L755.5 659.0M755.8 658.0L822.0 677.6M896.7 620.0L934.1 606.5M711.0 614.1L758.0 548.6M997.2 492.3L967.6 532.3M755.7 546.7L838.4 532.1M710.7 480.1L813.4 496.8M716.6 483.5L837.2 534.0M736.6 516.7L826.3 479.0M718.4 483.0L848.2 533.5M728.2 497.2L834.7 518.7M728.6 497.8L871.4 519.1M744.5 533.1L811.4 498.1M740.8 528.6L860.4 535.4M743.5 530.3L878.8 518.2M726.3 495.1L823.7 484.6M727.2 497.5L809.4 504.7M745.0 533.8L823.5 522.1M759.9 546.2L810.8 511.2M716.6 484.0L820.4 483.1M968.8 533.8L969.1 483.5M798.5 401.2L902.4 367.0M843.9 360.5L906.5 353.3M828.5 384.6L858.4 336.6M809.6 399.3L892.6 337.1M826.9 382.1L888.9 340.0M790.7 375.0L907.9 346.8M790.5 409.3L901.9 369.2M824.4 378.9L899.6 367.7M795.8 377.7L862.4 334.6M810.9 364.0L859.1 337.3M824.2 383.7L858.8 331.8M800.2 393.8L864.2 334.8M795.2 376.4L867.3 377.2M785.2 379.7L868.1 377.0" stroke="#e41ee2" stroke-width="0.9" fill="none" stroke-opacity="1.0"/>
<path d="M734,414 L784,388 L800,410 L832,426 L842,470 L838,530 L800,544 L762,543 L740,522 L728,490 L728,440 Z" fill="url(#dmesh)"/>
<path d="M798,408 L800,372 L826,352 L858,340 L895,338 L925,348 L952,364 L964,392 L970,420 L970,456 L960,482 L932,500 L905,512 L882,534 L850,542 L826,538 L816,500 L806,470 L798,440 Z" fill="url(#spk)"/>
<path d="M724.6 415.6L814.2 396.2M721.8 434.1L803.8 368.5M720.0 449.5L788.6 375.9M725.4 407.1L808.7 397.2M725.8 412.6L794.6 410.6M727.0 412.4L810.6 396.4M727.9 433.2L791.1 411.7M717.0 434.8L800.5 362.1M720.8 448.3L790.0 412.5M722.9 409.6L793.7 372.6M729.1 410.8L812.3 392.8M721.8 408.9L798.5 395.5M723.6 449.0L807.6 399.2M721.6 417.4L810.6 396.5M725.8 412.9L791.6 375.6M724.8 410.0L792.4 396.3" stroke="#c4e23c" stroke-width="0.8" fill="none" stroke-opacity="1.0"/>
<path d="M715.9 450.4L804.2 363.3M718.4 430.3L798.2 395.0M720.5 432.1L802.2 368.8M727.2 412.6L790.6 380.3M722.1 450.8L811.3 396.5M728.6 414.4L792.2 399.7M729.7 410.0L798.6 366.2M720.7 445.6L802.6 364.9M726.3 419.7L788.9 378.2M721.8 409.1L787.9 409.7M726.2 413.7L793.6 406.6M722.1 431.4L786.0 377.6M721.6 434.6L799.9 396.1M726.6 411.4L811.2 396.4M719.3 450.3L791.1 410.9M719.7 430.1L790.5 399.0M722.1 432.4L812.0 393.1M721.3 449.0L789.5 377.9M722.2 415.3L795.6 375.5M721.9 431.6L789.6 371.4" stroke="#14b2d6" stroke-width="0.8" fill="none" stroke-opacity="1.0"/>
<path d="M720.6 455.2L809.0 397.3M726.7 413.4L793.2 409.7M728.8 415.3L795.9 395.9M717.9 450.4L794.2 396.9M726.6 413.6L797.4 377.9M720.6 445.0L803.7 364.8M722.4 433.7L792.9 409.5M727.3 430.9L793.0 406.9M717.6 446.9L788.9 375.1M720.3 430.9L791.3 396.9M724.9 408.1L798.8 393.5M725.9 413.2L792.1 407.1M720.3 425.3L797.5 391.7M719.0 431.6L811.9 396.8" stroke="#2ec23c" stroke-width="0.8" fill="none" stroke-opacity="1.0"/>
<path d="M719.8 450.0L792.7 413.7M727.2 409.8L813.5 398.2M720.7 449.2L790.1 414.4M719.5 428.6L802.1 362.6M721.5 431.4L787.1 408.7M727.2 411.7L793.6 395.7M726.3 413.2L803.5 365.4M723.9 408.5L790.9 411.5M722.8 432.9L794.4 397.3M726.3 408.5L811.1 396.8M729.1 413.5L813.7 401.7M723.0 451.7L806.0 396.6M717.3 436.0L814.0 395.3M717.3 436.0L811.3 398.7M726.3 413.3L794.3 410.3M721.2 432.0L811.0 394.3M725.6 412.9L786.5 380.5" stroke="#1a1a1a" stroke-width="0.8" fill="none" stroke-opacity="1.0"/>
<path d="M721.1 414.3L788.0 373.6M725.8 432.2L809.1 396.7M725.1 414.0L794.3 381.0M730.2 414.8L794.5 412.1M724.9 409.8L791.6 370.2M716.4 432.7L802.3 364.2M726.4 410.6L811.1 396.4M727.1 417.5L794.0 396.4M723.1 408.3L791.6 409.5M726.5 413.5L808.8 361.4M721.1 413.3L793.9 396.4M720.4 431.2L811.4 394.7M725.4 434.0L811.2 400.1M727.7 411.0L789.2 410.2M720.5 452.6L793.3 411.1M724.5 415.0L790.4 378.9M726.3 434.3L791.4 399.8M723.6 414.9L805.9 361.4M719.9 429.6L795.3 410.6M723.3 448.9L811.3 399.6M727.3 415.2L811.9 398.0M721.5 412.6L792.7 411.9M728.5 415.9L802.3 369.4M721.0 435.9L812.3 396.7M726.5 415.5L803.7 362.6M725.6 411.0L792.0 374.8M730.1 410.7L804.0 365.1M718.6 426.2L801.4 362.7M722.5 432.6L792.5 373.5M726.5 406.9L810.8 393.0M729.6 416.6L791.1 375.2M720.9 414.1L799.4 394.1M726.9 416.3L795.5 398.7M725.1 414.0L789.2 373.6M721.4 450.1L792.6 394.5M726.9 413.7L812.6 390.9M722.5 428.1L793.2 407.3M722.3 431.7L788.9 377.3M719.9 445.8L789.3 396.6M723.5 434.6L810.7 395.7M722.2 431.6L803.2 364.4M725.9 430.5L794.9 411.5M722.6 450.2L796.7 396.7" stroke="#e41ee2" stroke-width="0.8" fill="none" stroke-opacity="1.0"/>
<path d="M715.5 464.1L835.0 513.4M711.3 487.8L891.0 521.5M851.0 356.7L895.1 514.2M801.0 395.4L839.6 420.9M727.3 489.2L836.8 424.7M722.3 463.0L874.7 503.5M717.8 426.2L913.1 470.6M791.7 376.7L863.2 529.6M729.5 514.0L812.6 459.7M723.2 431.6L846.8 439.3M722.9 437.1L888.6 528.2M718.5 432.1L805.0 477.9M791.9 411.5L898.6 490.3M713.8 473.4L897.2 528.4M732.8 510.8L907.2 484.1M817.4 361.9L888.9 523.9M728.3 505.2L790.5 438.4M828.1 384.7L888.0 530.8M726.8 410.1L912.5 471.1M761.9 542.0L851.1 488.9M712.7 467.6L874.8 503.8M731.8 501.0L895.8 489.5M730.8 413.4L882.3 431.4M743.2 531.0L904.8 449.4M786.7 375.2L881.6 464.9M789.3 398.9L816.5 463.1M757.7 549.9L832.4 533.1M755.1 546.7L907.1 447.4M742.7 530.8L879.9 469.1M736.3 512.9L866.5 450.1M801.5 364.6L919.2 492.4M715.7 488.6L827.1 480.5M815.6 366.7L842.7 472.3M798.5 379.8L895.5 515.8M796.0 400.5L866.5 447.7M745.1 530.6L909.7 508.2M716.0 484.0L807.3 477.5M807.7 396.6L921.2 493.3M760.1 551.9L884.5 464.5M725.0 411.4L847.3 435.4M719.5 475.3L897.3 446.5M848.7 363.4L842.4 475.3M731.9 519.1L864.4 418.3M721.7 450.1L890.6 508.5M735.7 520.2L846.3 484.9M720.1 450.0L805.7 460.7M805.8 365.1L911.0 469.8M726.1 514.7L811.6 462.5M811.8 397.2L911.3 504.5M747.4 531.5L891.9 534.2M719.6 482.3L906.3 491.7M717.2 485.9L899.8 454.3M757.8 551.0L895.2 514.7M787.6 374.1L864.4 505.0M728.0 414.6L820.9 512.3M734.7 501.0L839.5 420.7M848.1 357.7L873.5 518.1M793.3 398.2L887.7 426.3M726.5 413.5L858.7 533.0M754.1 551.2L899.5 512.1M853.6 359.0L889.1 529.6M718.4 430.9L838.6 421.2M849.9 361.3L895.0 526.8M737.5 513.8L917.1 492.9M721.6 480.2L912.4 473.8M790.3 410.0L808.5 475.5M814.7 397.1L893.4 514.3M820.9 369.0L876.5 513.5M757.2 550.2L924.1 495.5M722.9 471.0L895.5 527.8M759.7 543.8L813.3 501.5M809.4 365.4L888.5 431.6M800.6 371.2L919.1 514.6M821.7 368.5L812.2 504.7M721.3 466.0L851.2 534.5M730.5 416.2L874.2 517.3M726.7 447.6L917.2 487.4M797.3 393.5L850.2 486.1M732.5 496.8L864.2 537.4M817.8 367.0L810.3 478.7M818.5 360.2L899.6 451.5M727.7 512.5L889.4 512.6M792.9 409.0L891.1 530.2M722.0 469.4L847.9 494.0M743.6 531.0L806.7 477.9M730.2 417.5L834.6 528.3M736.1 509.6L907.4 450.1M826.5 388.2L851.7 496.3M734.2 522.0L897.4 518.2M805.6 400.0L870.7 498.4M758.1 548.9L874.6 520.1M726.8 511.5L918.3 513.7M724.8 501.7L862.4 536.2M739.5 510.2L912.2 504.5M849.5 364.3L842.8 420.8M830.3 384.2L897.7 486.8M722.1 418.7L793.8 439.7M734.1 521.9L891.7 529.6M828.3 380.2L809.0 475.3M812.2 395.5L806.2 476.0M714.3 490.0L896.3 507.1M714.8 465.3L884.9 465.5M720.2 451.7L884.1 531.5M794.5 411.3L823.4 523.3M799.3 394.6L902.8 483.8M852.4 362.1L814.8 504.1M751.4 546.5L902.3 486.8M796.5 406.6L808.5 474.0M727.6 500.4L903.6 451.7M728.8 497.6L810.2 459.5M727.1 497.4L901.1 443.5M826.4 365.1L924.6 493.7M792.2 377.8L834.8 530.5M738.8 521.4L868.1 448.9M719.3 469.0L821.1 446.5M722.9 447.1L859.0 418.9M761.9 549.6L816.5 502.9M717.1 476.8L903.1 492.8M759.6 548.1L835.9 533.1M759.8 546.8L795.2 443.3M805.3 360.5L863.1 539.7M742.9 531.1L875.0 518.6M846.1 356.0L818.4 488.5M823.5 384.1L836.3 532.2M721.6 450.6L793.9 432.8M724.8 500.6L894.3 430.6M792.2 419.1L888.8 429.2M734.1 518.1L926.4 498.4M725.3 444.5L798.7 439.4M820.3 363.0L805.7 474.6" stroke="#e41ee2" stroke-width="0.85" fill="none" stroke-opacity="1.0"/>
<path d="M794.6 378.0L818.6 445.5M827.3 382.1L965.2 454.0M837.2 517.0L811.9 504.9M809.7 466.1L853.1 488.2M866.7 417.6L864.0 371.4M895.3 513.6L961.1 394.6M903.8 445.3L891.0 515.6M800.7 435.4L971.8 407.1M870.4 336.9L947.0 410.4M886.0 467.0L914.3 347.4M869.8 523.2L863.0 534.1M886.8 431.7L867.9 425.6M823.5 484.5L944.8 403.4M843.1 421.7L913.1 344.6M855.8 494.2L954.5 412.8M813.2 396.0L983.1 429.6M884.5 434.1L844.7 435.6M853.1 489.8L850.0 436.9M864.1 537.2L870.0 499.3M835.4 519.6L911.5 471.3M835.1 532.6L867.6 450.8M875.8 518.0L892.2 527.3M924.6 487.0L919.5 493.3M927.5 368.6L963.4 486.2M884.2 466.9L872.9 504.7M857.3 333.7L979.9 450.1M822.9 440.9L847.1 440.9M800.3 362.0L835.7 514.0M809.2 364.2L805.3 480.7M862.1 340.3L980.8 407.0M903.5 515.3L985.1 448.2M970.3 378.1L835.3 532.1M899.5 453.4L822.7 491.7M842.2 471.0L969.7 469.6M837.2 515.4L813.6 456.3M792.5 377.3L878.0 331.7M867.4 494.1L876.6 516.9M858.5 491.2L871.7 343.6M899.9 449.5L861.0 378.6M880.2 468.5L840.4 467.7M913.9 469.0L839.4 424.0M903.3 348.1L980.9 405.7M968.3 378.7L917.3 499.0M913.2 469.4L884.3 467.0M805.6 507.1L974.3 405.3M825.2 488.0L965.0 398.0M906.0 446.2L894.8 515.3M853.1 489.0L846.2 489.3M941.9 357.0L970.3 372.5M890.7 430.9L900.2 488.2M871.4 501.6L944.3 355.1M920.4 493.9L911.7 349.2M863.5 341.9L851.1 438.0M810.5 466.2L914.4 495.1M925.8 368.0L820.8 520.6M891.5 338.2L842.9 472.7M804.8 474.5L978.0 406.0M924.4 391.9L866.2 374.8M823.3 519.0L861.5 334.2M790.2 411.5L821.0 487.8M821.2 518.4L907.9 351.7M884.9 336.4L900.4 509.4M856.1 342.7L823.7 520.5M807.3 477.6L972.9 469.8M849.7 363.6L924.7 342.5M970.4 384.2L898.0 519.7M830.1 384.5L848.0 535.1M921.2 391.1L983.3 407.1M810.4 390.3L914.6 517.7M907.1 370.3L926.8 394.4M836.5 519.6L922.8 345.3M924.3 370.3L809.8 456.3M812.3 505.0L869.6 531.6M847.8 534.1L809.1 476.5M824.0 484.1L980.9 430.6M969.2 380.9L920.8 342.5M891.5 511.8L816.8 521.2M885.7 436.0L973.0 470.1M807.1 477.5L841.8 421.9M854.2 489.2L894.2 331.6M924.7 497.5L984.1 429.4M902.3 488.9L947.0 362.4M825.3 487.5L903.2 370.3M876.4 342.8L837.7 516.1M834.8 515.0L983.7 451.2M865.9 376.6L895.8 334.9M791.5 377.0L911.8 510.3M877.9 520.1L835.1 532.2M840.6 515.3L926.7 371.6M897.8 514.7L895.0 529.4M838.4 421.7L887.6 336.4M914.8 506.6L897.2 526.8M814.0 400.9L973.3 377.4M811.5 462.3L916.3 487.2M821.6 386.5L947.2 416.8M866.1 448.7L815.7 464.2M796.7 406.3L841.8 419.9M894.3 529.0L964.8 396.6M821.9 449.3L835.7 533.1M875.7 517.6L979.5 447.6M817.3 398.3L795.3 440.1M892.4 334.2L893.7 527.6M865.4 377.9L864.6 376.3M868.0 451.1L823.2 518.2M875.2 498.6L867.9 368.9M820.4 370.6L875.8 517.7M804.1 368.4L845.9 540.3M854.2 538.0L875.1 519.0M814.3 399.7L946.1 410.3M867.8 447.8L978.1 426.9M853.0 489.4L894.3 450.3M847.7 538.4L924.0 368.6M894.3 487.1L922.0 495.5M822.0 449.9L811.8 465.5M820.3 445.3L946.1 356.5M812.0 400.5L798.8 439.2M835.9 531.6L868.4 506.4M805.2 477.5L823.2 485.8M865.6 376.8L883.0 468.5M900.6 484.7L943.2 406.9M797.8 394.7L963.5 449.8M825.8 480.7L952.2 357.2M902.9 366.6L892.3 369.0M862.7 341.5L893.5 529.6M811.8 461.3L943.4 357.9M822.4 446.1L961.9 438.2M820.0 363.9L892.4 509.2M800.9 361.3L983.4 452.7M873.7 511.2L898.7 450.1M796.4 417.4L824.3 483.0M902.0 450.7L826.8 490.3M881.4 469.7L966.7 451.2M867.5 530.7L986.2 430.7M891.7 530.8L885.5 466.3M968.9 377.4L921.6 371.0M825.8 358.5L891.5 336.7M923.3 388.7L864.1 536.8M921.2 368.3L809.5 475.8M919.9 499.1L951.6 377.9M786.6 381.1L847.3 439.5M795.2 396.5L881.4 465.9M820.2 445.4L983.1 428.5M866.6 368.8L913.7 467.4M818.5 515.0L961.1 486.8M853.5 340.4L978.2 422.8M850.2 435.7L848.5 434.6M879.5 432.3L844.1 475.8M964.2 380.4L916.3 489.2M895.7 363.5L892.1 513.3M865.7 376.8L848.0 437.2M865.1 379.9L961.7 391.7M881.7 467.3L928.2 340.9M785.2 375.1L895.5 332.5M845.3 533.5L953.3 358.7M837.2 424.4L923.9 398.8M822.8 448.8L808.0 500.0M895.4 369.8L884.6 470.3M928.2 344.1L817.0 444.6M824.5 518.0L975.5 470.8M794.7 398.9L870.0 448.2" stroke="#2a0826" stroke-width="0.55" fill="none" stroke-opacity="0.55"/>
<path d="M822.0 518.9L874.7 339.5M872.8 505.0L896.2 491.7M849.9 434.3L823.2 485.4M953.7 381.6L848.0 532.2M823.7 477.8L904.9 445.0M884.4 428.6L923.8 343.5M866.0 538.4L858.5 332.0M911.3 473.2L864.4 537.7M897.2 482.9L835.5 517.8M795.2 394.6L920.1 339.9M901.7 370.3L883.4 466.9M840.1 472.7L929.5 337.6M921.1 367.3L973.6 380.8M795.7 401.8L899.7 368.1M949.3 382.5L806.9 455.7M823.6 376.7L815.1 501.0M879.8 334.0L909.2 358.3M789.4 398.6L834.1 533.9M913.0 472.0L807.8 476.8M794.0 395.0L926.2 391.6M849.8 366.7L825.2 448.8M815.5 398.1L974.8 467.6M920.5 496.6L826.5 446.7M868.6 535.6L886.2 528.1M905.5 356.0L799.5 437.9M791.3 376.4L840.8 423.4M818.3 362.7L965.5 377.7M839.9 424.5L874.6 342.0M815.5 504.8L912.7 510.3M879.1 340.1L842.6 423.4M878.7 516.9L833.9 534.4M912.9 466.5L866.2 417.7M864.3 532.1L943.0 384.6M893.6 340.6L870.8 512.2M847.8 439.4L866.8 447.9M837.0 424.8L860.3 381.9M865.4 376.7L904.7 372.2M820.6 519.4L923.4 490.4M940.9 374.1L845.6 437.5M853.9 342.9L818.1 442.6M839.5 421.8L818.9 446.1M846.2 530.0L911.4 470.5M792.0 414.3L960.8 451.3M893.1 516.8L967.5 486.6M848.0 534.3L865.4 377.0M792.4 394.6L928.3 390.0M859.5 329.1L882.5 471.0M853.4 489.7L922.8 495.0M946.3 359.3L920.4 336.3M900.5 488.9L881.9 514.3M914.4 469.4L919.4 494.3M948.1 353.1L812.1 511.7M895.6 448.7L873.4 517.5M963.7 383.0L822.5 439.5M902.4 488.1L848.7 437.2M858.6 336.2L927.9 344.2M840.3 517.0L836.5 532.5M903.7 453.5L956.4 426.9M886.8 523.4L874.9 501.2M951.9 377.3L946.2 356.8M947.8 358.2L837.7 516.0M851.2 485.4L981.7 405.4M872.1 537.0L896.4 517.6M887.5 338.7L964.6 396.7M801.9 365.8L857.9 341.0M847.0 436.7L852.2 491.9M870.1 449.7L876.1 515.7M926.5 368.5L876.0 495.5M813.5 449.7L942.6 361.6M883.7 466.4L930.5 343.0M809.5 458.7L961.9 489.1M820.6 438.9L808.0 477.6M946.9 378.4L846.5 476.5M858.4 494.7L849.0 470.7M899.7 366.2L961.5 456.8M902.9 451.8L965.9 486.9M788.1 377.4L869.3 515.4M871.4 533.5L839.2 424.3M821.5 514.8L899.4 365.6M796.6 403.3L849.0 486.9M842.1 479.2L836.7 516.7M851.5 488.5L837.6 531.5M893.4 517.4L966.9 485.2M837.2 519.3L854.4 487.9M894.4 364.9L812.7 504.8M822.8 520.5L963.2 486.7M815.6 507.4L901.4 448.2M799.2 444.7L924.0 390.6M885.9 336.4L913.6 510.2M819.2 513.4L888.0 514.4M821.8 517.5L903.4 368.2M864.9 449.4L847.4 470.1M869.1 448.4L835.6 532.0M918.6 488.1L901.3 514.1M896.0 535.8L910.1 356.7M825.7 487.2L899.2 458.5M874.5 336.2L888.6 433.7M845.5 531.0L983.3 442.2M794.1 394.8L922.2 363.1M850.9 367.3L861.2 489.7M803.8 369.4L819.6 522.6M951.7 355.1L882.9 430.6M872.3 449.0L926.8 492.4M841.5 471.2L970.8 474.5M823.8 439.7L791.9 439.0M872.9 522.6L979.0 463.9M927.5 393.3L905.5 483.4M882.1 468.7L836.0 532.3M818.2 506.6L967.8 400.5M883.1 433.4L953.9 433.4M901.9 450.7L821.1 439.5M858.2 486.3L893.5 522.2M853.4 356.8L981.7 440.8M851.1 359.6L861.9 538.4M890.9 529.2L945.8 354.7M919.8 494.1L960.5 431.8M851.9 362.2L958.2 430.7M864.8 539.5L944.9 356.1M853.1 360.5L812.8 466.7M901.5 448.1L920.4 349.5M896.5 532.3L900.5 451.7M894.5 512.5L856.8 487.5M855.0 334.1L950.0 349.0M822.8 439.8L806.4 474.8M822.2 369.9L858.5 334.1M924.4 344.7L922.9 342.1M790.4 434.8L965.3 454.0M826.9 523.6L966.4 485.4M890.4 333.1L860.1 537.8M854.4 489.5L918.8 493.4M797.6 437.0L807.6 509.3M793.5 373.1L864.8 331.6M894.4 514.9L920.4 493.7M865.3 375.7L874.9 337.8M879.3 521.4L963.4 375.1M811.9 457.4L903.9 366.0M909.3 353.7L836.3 517.0M920.3 494.3L981.4 446.9M900.0 487.1L964.0 448.0M921.3 373.9L840.7 423.7M821.4 518.4L871.5 450.4M835.8 515.6L866.4 449.5M818.4 487.3L914.6 505.1M921.9 493.8L909.0 469.3M944.4 376.5L923.7 334.9M889.6 334.4L820.4 453.3M816.9 488.2L838.2 421.2M848.9 493.4L899.3 446.5M825.5 523.2L895.5 514.6M820.4 363.1L810.2 460.8M828.4 376.9L866.6 379.7M904.1 446.1L897.2 449.6M847.5 363.6L972.1 484.8M863.9 376.1L984.8 448.5M821.1 361.4L914.6 513.5M812.4 502.9L870.3 502.8M821.4 518.5L982.2 446.6M809.8 502.6L973.6 403.3M791.3 411.3L973.2 407.6M874.4 331.6L927.4 391.5M892.3 337.8L870.4 377.8M908.1 355.4L861.9 381.9M835.3 532.5L840.8 472.5M920.8 493.2L820.6 518.3M786.9 412.6L864.3 414.7M966.2 378.0L967.6 396.0M808.8 465.4L978.9 405.8M873.0 498.2L873.0 502.1M875.3 523.1L957.5 429.1M863.3 416.3L977.9 410.3M947.0 354.7L807.8 479.4M875.8 517.7L905.7 513.0M865.3 533.9L847.4 483.5M866.8 539.5L906.6 351.1M794.7 379.2L967.0 490.6M918.3 515.3L852.8 336.1M891.8 532.9L914.1 466.8M899.4 516.7L856.7 333.3M835.5 532.0L880.7 334.8M821.1 368.5L819.5 515.2M892.2 337.9L898.8 514.3M970.9 375.9L914.5 514.1M920.3 492.7L956.9 427.5M870.3 494.1L867.2 446.5M903.4 371.3L881.9 521.7M823.5 484.2L892.3 337.8M836.9 514.5L973.3 408.4M821.2 487.6L848.8 439.4M878.9 521.4L925.0 368.9M924.4 347.5L917.5 498.9M969.4 378.3L901.5 448.4M850.7 436.3L872.3 519.5M839.3 422.9L948.2 349.5M791.9 373.3L867.8 447.1M787.0 437.2L972.0 407.0M913.4 511.4L980.8 430.3M846.4 441.3L965.8 450.7M869.0 497.3L873.2 376.4M946.7 380.1L882.7 429.7M897.4 489.0L843.7 467.7M847.5 438.0L943.9 404.4M794.7 377.9L809.5 477.7M801.7 367.5L841.2 474.5M865.8 532.7L853.4 484.8M793.3 376.1L888.8 529.7M913.3 468.0L892.5 342.4M893.6 373.0L918.1 495.7M912.5 471.9L839.1 472.1M893.8 335.3L808.2 459.7M913.5 509.7L963.5 377.3M848.8 438.5L946.6 355.3M792.6 396.2L848.8 535.2M945.9 356.6L880.4 432.7M865.9 383.0L837.6 516.4M805.1 395.9L966.3 428.3M855.0 340.3L911.0 471.9M871.0 500.2L860.5 411.9M940.6 375.4L921.0 501.1M918.6 512.6L876.5 520.8M921.0 511.2L963.5 380.3M900.2 375.2L960.5 397.3M838.7 515.2L946.7 408.3M835.1 516.7L900.1 369.4M946.2 362.9L851.4 529.5M910.1 472.8L873.2 514.3M807.3 479.4L948.3 376.9M815.8 523.8L949.2 376.1M790.8 435.0L906.5 358.3M862.7 537.0L899.1 363.3M869.8 447.8L815.4 466.8M865.7 534.0L903.0 349.1M901.5 457.1L849.4 441.2M847.9 534.5L877.8 512.4M852.0 494.9L838.4 517.5M810.1 365.6L847.9 436.7M805.7 476.4L824.1 483.4M864.9 417.0L951.8 403.8M796.8 397.8L872.0 420.8M826.7 522.7L848.7 531.5M840.6 422.6L813.9 449.2M887.2 432.8L903.2 372.7M948.3 376.7L898.6 487.6M856.8 329.4L926.9 387.7M875.0 342.8L915.4 474.2M842.5 465.3L813.6 505.9M970.0 384.4L794.4 439.2M871.1 376.1L909.2 357.4M898.3 453.7L890.8 529.6M818.1 444.1L988.2 442.8M818.7 362.4L960.3 451.4M894.4 487.4L873.8 335.1M838.7 418.1L983.1 446.4M943.6 353.6L840.5 421.2M919.5 497.7L843.0 540.5M972.1 384.3L850.5 491.3M798.2 441.0L837.9 420.3M787.1 413.4L965.9 452.7M908.3 507.5L895.1 514.6M866.0 505.1L945.3 408.5M923.7 376.1L846.7 434.3" stroke="#ee1ae8" stroke-width="0.8" fill="none" stroke-opacity="1.0"/>
<path d="M969.4 402.6L976.7 475.0M968.2 450.5L965.0 453.9M967.0 378.7L997.1 492.5M980.3 408.2L987.4 440.4M982.0 428.2L972.9 410.3M944.9 357.1L920.2 494.7M980.5 455.0L963.5 491.9M929.1 394.5L994.9 500.0M986.9 445.5L982.9 444.2M960.8 435.4L955.8 436.9M967.0 378.1L912.0 470.5M929.7 361.2L965.0 397.9M927.5 369.6L965.6 450.7M969.8 472.1L995.5 485.5M960.7 491.9L914.9 469.0M979.6 425.9L966.6 403.5M921.8 362.6L927.2 492.6M932.7 396.3L977.9 428.8M960.4 483.6L961.5 490.0M967.0 396.0L985.6 434.4M979.1 451.8L915.9 488.2M927.6 336.8L980.1 413.8M970.6 372.7L965.5 453.4M945.1 377.7L959.2 403.2M966.7 487.8L974.5 464.0M925.2 342.5L972.3 490.3M977.5 471.4L972.7 394.9M970.1 480.1L942.3 413.5M975.8 464.1L988.1 442.8M972.0 482.6L961.1 434.4M981.7 407.0L915.7 467.6M978.5 406.8L957.6 452.3M962.9 372.7L943.6 411.0M986.0 450.6L965.1 398.3M950.0 372.9L912.3 471.1M909.4 355.5L967.8 450.3M948.8 355.6L982.2 429.3M899.3 367.7L946.5 411.6M949.8 380.3L949.3 407.1M899.8 368.1L948.1 409.2M896.4 370.5L960.7 434.5M899.3 368.1L919.4 495.1M907.9 352.2L960.6 429.2M908.4 351.2L946.3 408.2M923.4 372.1L946.4 408.9M925.5 367.5L977.7 467.5M908.0 349.3L963.5 455.3M947.9 378.1L972.8 468.7M923.8 391.8L968.0 451.2M943.0 358.4L972.7 469.8M900.0 365.9L919.9 492.3M912.9 349.9L967.7 450.2M896.4 366.1L947.3 409.8M926.2 365.1L960.9 488.3M900.0 367.3L965.3 457.7M899.8 366.0L947.9 406.8M928.0 386.9L983.2 428.7M949.3 379.3L959.4 434.7M946.4 355.4L971.4 468.8M946.3 355.7L974.9 467.2M897.4 365.7L951.3 408.9M947.9 373.5L964.3 486.4M947.5 355.1L980.6 431.8M928.3 389.9L962.5 483.3M898.2 368.1L963.5 483.2M910.3 351.5L965.2 454.1M945.5 350.7L976.9 473.0M928.4 391.9L981.4 432.4M901.6 371.1L968.3 454.9M925.5 393.7L962.7 457.8" stroke="#3838f2" stroke-width="0.75" fill="none" stroke-opacity="0.9"/>
<path d="M969.4 402.6L976.7 475.0M980.3 408.2L987.4 440.4M980.5 455.0L963.5 491.9M960.8 435.4L955.8 436.9M927.5 369.6L965.6 450.7M979.6 425.9L966.6 403.5M960.4 483.6L961.5 490.0M927.6 336.8L980.1 413.8M966.7 487.8L974.5 464.0M970.1 480.1L942.3 413.5M981.7 407.0L915.7 467.6M986.0 450.6L965.1 398.3M948.8 355.6L982.2 429.3M899.8 368.1L948.1 409.2M907.9 352.2L960.6 429.2M925.5 367.5L977.7 467.5M923.8 391.8L968.0 451.2M912.9 349.9L967.7 450.2M900.0 367.3L965.3 457.7M949.3 379.3L959.4 434.7M897.4 365.7L951.3 408.9M928.3 389.9L962.5 483.3M945.5 350.7L976.9 473.0M925.5 393.7L962.7 457.8" stroke="#8c3ad8" stroke-width="0.7" fill="none" stroke-opacity="0.6"/>
<circle cx="792.6" cy="378.4" r="11.3" fill="#444" opacity="0.35"/><circle cx="791.6" cy="376.8" r="11.0" fill="url(#g_g)" stroke="#43915f" stroke-width="0.7"/><polyline points="791.5,380.5 789.7,375.0 789.7,376.7 794.1,375.6 791.6,379.1 792.8,380.3" fill="none" stroke="#e0a020" stroke-width="0.9" stroke-opacity="0.6"/><polyline points="791.7,381.4 791.5,378.8 792.0,380.1 795.6,376.9 794.2,382.1 794.0,381.1" fill="none" stroke="#d06060" stroke-width="0.9" stroke-opacity="0.6"/><ellipse cx="791.6" cy="371.1" rx="6.6" ry="3.7" fill="url(#hl)"/>
<circle cx="804.7" cy="366.3" r="10.8" fill="#444" opacity="0.35"/><circle cx="803.7" cy="364.7" r="10.5" fill="url(#g_g)" stroke="#43915f" stroke-width="0.7"/><polyline points="807.5,370.0 808.2,366.8 804.6,366.5 804.6,368.0 805.3,370.5 803.0,366.1" fill="none" stroke="#d84a8a" stroke-width="0.9" stroke-opacity="0.6"/><polyline points="805.5,370.9 803.6,366.8 799.1,368.9 803.5,368.2 805.1,364.2 800.3,364.8" fill="none" stroke="#a040c0" stroke-width="0.9" stroke-opacity="0.6"/><ellipse cx="803.7" cy="359.2" rx="6.3" ry="3.6" fill="url(#hl)"/>
<circle cx="821.3" cy="364.8" r="10.3" fill="#444" opacity="0.35"/><circle cx="820.3" cy="363.2" r="10.0" fill="url(#g_g)" stroke="#43915f" stroke-width="0.7"/><polyline points="818.6,368.5 818.6,365.4 816.5,365.6 825.3,366.7 824.4,365.7 820.4,365.1" fill="none" stroke="#8a4ad8" stroke-width="0.9" stroke-opacity="0.6"/><polyline points="818.5,366.0 821.7,363.5 819.4,362.6 820.9,365.1 820.4,368.8 817.6,365.7" fill="none" stroke="#d06060" stroke-width="0.9" stroke-opacity="0.6"/><ellipse cx="820.3" cy="358.0" rx="6.0" ry="3.4" fill="url(#hl)"/>
<circle cx="828.0" cy="384.4" r="10.3" fill="#444" opacity="0.35"/><circle cx="827.0" cy="382.8" r="10.0" fill="url(#g_g)" stroke="#43915f" stroke-width="0.7"/><polyline points="827.0,386.8 823.4,383.0 825.9,385.8 822.1,386.6 827.7,387.0 826.5,385.3" fill="none" stroke="#e0a020" stroke-width="0.9" stroke-opacity="0.6"/><polyline points="829.7,383.7 826.3,386.1 827.2,385.1 829.2,387.2 827.9,384.8 832.2,386.1" fill="none" stroke="#3aa0d8" stroke-width="0.9" stroke-opacity="0.6"/><ellipse cx="827.0" cy="377.6" rx="6.0" ry="3.4" fill="url(#hl)"/>
<circle cx="812.2" cy="398.0" r="10.3" fill="#444" opacity="0.35"/><circle cx="811.2" cy="396.4" r="10.0" fill="url(#g_pu)" stroke="#6e58a0" stroke-width="0.7"/><polyline points="811.4,398.3 811.1,396.9 811.2,401.3 814.5,401.8 808.4,395.7 810.6,399.2" fill="none" stroke="#e0a020" stroke-width="0.9" stroke-opacity="0.6"/><polyline points="810.5,398.2 813.0,397.3 812.2,399.8 813.4,399.1 814.4,401.5 810.5,397.9" fill="none" stroke="#a040c0" stroke-width="0.9" stroke-opacity="0.6"/><ellipse cx="811.2" cy="391.2" rx="6.0" ry="3.4" fill="url(#hl)"/>
<circle cx="795.0" cy="398.0" r="10.3" fill="#444" opacity="0.35"/><circle cx="794.0" cy="396.4" r="10.0" fill="url(#g_g)" stroke="#43915f" stroke-width="0.7"/><polyline points="791.4,399.0 793.7,396.3 793.4,400.1 795.3,399.7 799.3,398.1 792.1,396.8" fill="none" stroke="#e0a020" stroke-width="0.9" stroke-opacity="0.6"/><polyline points="795.2,400.4 791.0,398.2 793.7,398.4 794.5,396.9 793.8,398.3 792.9,400.7" fill="none" stroke="#3aa0d8" stroke-width="0.9" stroke-opacity="0.6"/><ellipse cx="794.0" cy="391.2" rx="6.0" ry="3.4" fill="url(#hl)"/>
<circle cx="793.4" cy="413.0" r="11.3" fill="#444" opacity="0.35"/><circle cx="792.4" cy="411.4" r="11.0" fill="url(#g_g)" stroke="#43915f" stroke-width="0.7"/><polyline points="791.8,415.7 792.9,410.1 790.8,417.8 790.3,411.1 795.7,413.6 792.4,416.7" fill="none" stroke="#a040c0" stroke-width="0.9" stroke-opacity="0.6"/><polyline points="791.7,415.8 791.4,411.9 792.1,415.1 794.7,412.6 793.3,413.0 794.2,411.8" fill="none" stroke="#40b040" stroke-width="0.9" stroke-opacity="0.6"/><ellipse cx="792.4" cy="405.7" rx="6.6" ry="3.7" fill="url(#hl)"/>
<circle cx="849.9" cy="364.8" r="11.3" fill="#444" opacity="0.35"/><circle cx="848.9" cy="363.2" r="11.0" fill="url(#g_g)" stroke="#43915f" stroke-width="0.7"/><polyline points="851.9,364.5 847.9,365.1 851.8,361.3 844.8,365.7 848.1,361.7 851.1,368.5" fill="none" stroke="#3aa0d8" stroke-width="0.9" stroke-opacity="0.6"/><polyline points="843.3,364.7 847.8,367.7 850.0,364.2 850.1,365.2 845.7,363.6 850.8,368.5" fill="none" stroke="#e0a020" stroke-width="0.9" stroke-opacity="0.6"/><ellipse cx="848.9" cy="357.5" rx="6.6" ry="3.7" fill="url(#hl)"/>
<circle cx="859.0" cy="337.6" r="11.3" fill="#444" opacity="0.35"/><circle cx="858.0" cy="336.0" r="11.0" fill="url(#g_b)" stroke="#4a4e98" stroke-width="0.7"/><polyline points="857.8,337.9 856.7,338.2 858.8,338.2 857.5,338.8 858.1,338.2 855.8,338.4" fill="none" stroke="#d84a8a" stroke-width="0.9" stroke-opacity="0.6"/><polyline points="859.1,338.4 857.5,336.2 854.6,341.7 861.2,334.7 856.8,335.5 861.2,337.4" fill="none" stroke="#e0a020" stroke-width="0.9" stroke-opacity="0.6"/><ellipse cx="858.0" cy="330.3" rx="6.6" ry="3.7" fill="url(#hl)"/>
<circle cx="876.3" cy="340.7" r="11.3" fill="#444" opacity="0.35"/><circle cx="875.3" cy="339.1" r="11.0" fill="url(#g_t)" stroke="#318a84" stroke-width="0.7"/><polyline points="878.0,342.6 873.4,343.5 880.1,340.1 871.0,343.0 873.9,339.7 877.6,343.3" fill="none" stroke="#3aa0d8" stroke-width="0.9" stroke-opacity="0.6"/><polyline points="874.1,341.2 875.7,341.4 877.0,338.2 873.8,342.2 878.1,339.8 872.9,344.9" fill="none" stroke="#e0a020" stroke-width="0.9" stroke-opacity="0.6"/><ellipse cx="875.3" cy="333.4" rx="6.6" ry="3.7" fill="url(#hl)"/>
<circle cx="893.3" cy="339.4" r="11.3" fill="#444" opacity="0.35"/><circle cx="892.3" cy="337.8" r="11.0" fill="url(#g_t)" stroke="#318a84" stroke-width="0.7"/><polyline points="890.4,341.3 892.6,341.2 894.6,339.5 897.7,338.7 891.0,339.1 895.3,339.5" fill="none" stroke="#e0a020" stroke-width="0.9" stroke-opacity="0.6"/><polyline points="898.0,340.4 890.3,344.0 892.4,339.9 889.2,335.9 892.3,340.0 893.9,341.2" fill="none" stroke="#40b040" stroke-width="0.9" stroke-opacity="0.6"/><ellipse cx="892.3" cy="332.1" rx="6.6" ry="3.7" fill="url(#hl)"/>
<circle cx="866.5" cy="378.4" r="11.3" fill="#444" opacity="0.35"/><circle cx="865.5" cy="376.8" r="11.0" fill="url(#g_b)" stroke="#4a4e98" stroke-width="0.7"/><polyline points="863.9,378.5 869.8,377.3 865.5,380.1 868.9,382.8 864.5,381.6 861.6,379.3" fill="none" stroke="#40b040" stroke-width="0.9" stroke-opacity="0.6"/><polyline points="869.5,375.8 866.3,378.9 864.6,382.2 862.2,376.5 867.6,379.1 863.5,375.2" fill="none" stroke="#e0a020" stroke-width="0.9" stroke-opacity="0.6"/><ellipse cx="865.5" cy="371.1" rx="6.6" ry="3.7" fill="url(#hl)"/>
<circle cx="900.6" cy="369.3" r="11.3" fill="#444" opacity="0.35"/><circle cx="899.6" cy="367.7" r="11.0" fill="url(#g_y)" stroke="#9a9256" stroke-width="0.7"/><polyline points="901.1,370.0 894.3,370.9 902.1,368.0 904.3,370.0 896.5,370.9 898.6,366.7" fill="none" stroke="#d84a8a" stroke-width="0.9" stroke-opacity="0.6"/><polyline points="902.8,366.5 895.5,370.2 898.6,365.4 895.1,370.5 899.6,369.7 900.2,366.9" fill="none" stroke="#40b040" stroke-width="0.9" stroke-opacity="0.6"/><ellipse cx="899.6" cy="362.0" rx="6.6" ry="3.7" fill="url(#hl)"/>
<circle cx="909.6" cy="352.7" r="11.3" fill="#444" opacity="0.35"/><circle cx="908.6" cy="351.1" r="11.0" fill="url(#g_y)" stroke="#9a9256" stroke-width="0.7"/><polyline points="909.7,348.8 910.4,354.9 905.7,352.4 908.1,353.7 904.4,351.1 909.9,353.6" fill="none" stroke="#a040c0" stroke-width="0.9" stroke-opacity="0.6"/><polyline points="908.9,353.3 910.5,352.5 908.2,353.2 906.2,354.4 909.1,353.5 904.8,350.5" fill="none" stroke="#d06060" stroke-width="0.9" stroke-opacity="0.6"/><ellipse cx="908.6" cy="345.4" rx="6.6" ry="3.7" fill="url(#hl)"/>
<circle cx="924.7" cy="344.5" r="11.3" fill="#444" opacity="0.35"/><circle cx="923.7" cy="342.9" r="11.0" fill="url(#g_bl)" stroke="#6a80a8" stroke-width="0.7"/><polyline points="923.5,344.3 922.2,349.2 925.9,347.3 922.9,345.3 923.5,344.8 925.5,346.1" fill="none" stroke="#8a4ad8" stroke-width="0.9" stroke-opacity="0.6"/><polyline points="923.1,347.6 925.5,346.2 923.7,344.9 927.2,346.7 921.6,345.0 920.6,341.2" fill="none" stroke="#8a4ad8" stroke-width="0.9" stroke-opacity="0.6"/><ellipse cx="923.7" cy="337.2" rx="6.6" ry="3.7" fill="url(#hl)"/>
<circle cx="947.3" cy="357.3" r="11.3" fill="#444" opacity="0.35"/><circle cx="946.3" cy="355.7" r="11.0" fill="url(#g_lb)" stroke="#4a7ea4" stroke-width="0.7"/><polyline points="946.0,357.0 944.2,355.9 949.1,356.3 945.1,356.8 944.8,357.3 946.3,355.2" fill="none" stroke="#d84a8a" stroke-width="0.9" stroke-opacity="0.6"/><polyline points="948.2,353.8 944.0,358.2 946.4,357.8 944.4,360.0 951.4,358.6 943.6,357.6" fill="none" stroke="#d84a8a" stroke-width="0.9" stroke-opacity="0.6"/><ellipse cx="946.3" cy="350.0" rx="6.6" ry="3.7" fill="url(#hl)"/>
<circle cx="927.0" cy="370.1" r="11.3" fill="#444" opacity="0.35"/><circle cx="926.0" cy="368.5" r="11.0" fill="url(#g_y)" stroke="#9a9256" stroke-width="0.7"/><polyline points="928.1,368.9 923.9,374.0 930.3,371.1 926.9,370.7 929.9,369.5 926.1,371.1" fill="none" stroke="#40b040" stroke-width="0.9" stroke-opacity="0.6"/><polyline points="924.7,370.6 925.3,368.8 926.9,369.3 929.9,369.1 926.7,368.7 925.6,368.8" fill="none" stroke="#a040c0" stroke-width="0.9" stroke-opacity="0.6"/><ellipse cx="926.0" cy="362.8" rx="6.6" ry="3.7" fill="url(#hl)"/>
<circle cx="948.0" cy="379.9" r="11.3" fill="#444" opacity="0.35"/><circle cx="947.0" cy="378.3" r="11.0" fill="url(#g_y)" stroke="#9a9256" stroke-width="0.7"/><polyline points="947.9,378.3 948.9,378.3 944.1,378.8 946.9,378.4 947.2,380.4 947.1,380.5" fill="none" stroke="#3aa0d8" stroke-width="0.9" stroke-opacity="0.6"/><polyline points="945.9,378.9 945.4,380.9 952.1,378.5 945.8,382.3 948.4,383.3 951.7,382.1" fill="none" stroke="#40b040" stroke-width="0.9" stroke-opacity="0.6"/><ellipse cx="947.0" cy="372.6" rx="6.6" ry="3.7" fill="url(#hl)"/>
<circle cx="967.6" cy="379.9" r="11.3" fill="#444" opacity="0.35"/><circle cx="966.6" cy="378.3" r="11.0" fill="url(#g_t)" stroke="#318a84" stroke-width="0.7"/><polyline points="967.3,379.8 966.6,381.6 967.5,381.5 966.9,382.6 972.1,381.2 962.7,383.6" fill="none" stroke="#d06060" stroke-width="0.9" stroke-opacity="0.6"/><polyline points="969.3,380.6 967.1,379.7 967.0,378.8 965.2,380.6 966.8,380.3 965.8,377.6" fill="none" stroke="#a040c0" stroke-width="0.9" stroke-opacity="0.6"/><ellipse cx="966.6" cy="372.6" rx="6.6" ry="3.7" fill="url(#hl)"/>
<circle cx="927.7" cy="393.4" r="11.3" fill="#444" opacity="0.35"/><circle cx="926.7" cy="391.8" r="11.0" fill="url(#g_y)" stroke="#9a9256" stroke-width="0.7"/><polyline points="928.8,394.7 928.9,393.5 925.6,395.9 925.8,397.3 926.5,393.0 926.9,397.0" fill="none" stroke="#a040c0" stroke-width="0.9" stroke-opacity="0.6"/><polyline points="925.1,392.1 926.7,393.8 931.1,395.2 926.5,393.9 921.0,392.4 924.6,393.6" fill="none" stroke="#8a4ad8" stroke-width="0.9" stroke-opacity="0.6"/><ellipse cx="926.7" cy="386.1" rx="6.6" ry="3.7" fill="url(#hl)"/>
<circle cx="966.0" cy="399.4" r="11.3" fill="#444" opacity="0.35"/><circle cx="965.0" cy="397.8" r="11.0" fill="url(#g_t)" stroke="#318a84" stroke-width="0.7"/><polyline points="964.7,398.7 965.2,399.4 960.9,400.4 963.1,397.9 965.1,399.6 966.3,397.9" fill="none" stroke="#8a4ad8" stroke-width="0.9" stroke-opacity="0.6"/><polyline points="965.2,399.9 966.1,399.6 962.6,399.7 964.5,399.7 964.7,400.3 959.6,398.6" fill="none" stroke="#a040c0" stroke-width="0.9" stroke-opacity="0.6"/><ellipse cx="965.0" cy="392.1" rx="6.6" ry="3.7" fill="url(#hl)"/>
<circle cx="980.4" cy="408.5" r="11.3" fill="#444" opacity="0.35"/><circle cx="979.4" cy="406.9" r="11.0" fill="url(#g_t)" stroke="#318a84" stroke-width="0.7"/><polyline points="983.3,410.5 977.5,407.4 977.8,410.5 979.8,406.4 979.5,408.9 979.6,405.6" fill="none" stroke="#e0a020" stroke-width="0.9" stroke-opacity="0.6"/><polyline points="982.8,408.9 981.3,410.7 979.7,407.6 978.7,409.3 976.6,408.4 977.8,405.2" fill="none" stroke="#d06060" stroke-width="0.9" stroke-opacity="0.6"/><ellipse cx="979.4" cy="401.2" rx="6.6" ry="3.7" fill="url(#hl)"/>
<circle cx="948.0" cy="411.6" r="11.3" fill="#444" opacity="0.35"/><circle cx="947.0" cy="410.0" r="11.0" fill="url(#g_y)" stroke="#9a9256" stroke-width="0.7"/><polyline points="946.2,410.8 945.5,412.1 945.6,408.3 951.0,409.1 951.2,413.6 943.6,414.6" fill="none" stroke="#e0a020" stroke-width="0.9" stroke-opacity="0.6"/><polyline points="950.1,410.1 947.2,409.2 942.4,413.4 943.8,408.2 946.4,408.6 946.5,415.9" fill="none" stroke="#8a4ad8" stroke-width="0.9" stroke-opacity="0.6"/><ellipse cx="947.0" cy="404.3" rx="6.6" ry="3.7" fill="url(#hl)"/>
<circle cx="961.0" cy="433.4" r="11.3" fill="#444" opacity="0.35"/><circle cx="960.0" cy="431.8" r="11.0" fill="url(#g_y)" stroke="#9a9256" stroke-width="0.7"/><polyline points="958.2,433.2 959.7,434.4 958.0,433.8 963.2,434.4 960.0,433.7 964.2,437.0" fill="none" stroke="#40b040" stroke-width="0.9" stroke-opacity="0.6"/><polyline points="956.8,437.1 963.5,432.9 960.3,435.9 958.7,435.0 963.5,434.0 962.0,430.7" fill="none" stroke="#d06060" stroke-width="0.9" stroke-opacity="0.6"/><ellipse cx="960.0" cy="426.1" rx="6.6" ry="3.7" fill="url(#hl)"/>
<circle cx="984.1" cy="430.8" r="11.3" fill="#444" opacity="0.35"/><circle cx="983.1" cy="429.2" r="11.0" fill="url(#g_yg)" stroke="#8aa05a" stroke-width="0.7"/><polyline points="982.7,434.1 982.5,430.7 983.3,429.1 981.3,431.9 981.8,431.6 982.2,430.7" fill="none" stroke="#8a4ad8" stroke-width="0.9" stroke-opacity="0.6"/><polyline points="983.7,426.7 977.4,430.2 982.6,430.9 984.1,429.3 988.7,432.7 986.5,431.8" fill="none" stroke="#8a4ad8" stroke-width="0.9" stroke-opacity="0.6"/><ellipse cx="983.1" cy="423.5" rx="6.6" ry="3.7" fill="url(#hl)"/>
<circle cx="985.8" cy="449.7" r="11.3" fill="#444" opacity="0.35"/><circle cx="984.8" cy="448.1" r="11.0" fill="url(#g_t)" stroke="#318a84" stroke-width="0.7"/><polyline points="984.2,448.5 983.6,450.3 985.6,448.8 980.2,449.7 985.3,448.4 986.6,446.4" fill="none" stroke="#40b040" stroke-width="0.9" stroke-opacity="0.6"/><polyline points="987.6,446.6 983.0,448.8 987.9,453.3 984.6,450.1 985.1,450.5 983.7,445.8" fill="none" stroke="#a040c0" stroke-width="0.9" stroke-opacity="0.6"/><ellipse cx="984.8" cy="442.4" rx="6.6" ry="3.7" fill="url(#hl)"/>
<circle cx="966.1" cy="455.7" r="11.3" fill="#444" opacity="0.35"/><circle cx="965.1" cy="454.1" r="11.0" fill="url(#g_yg)" stroke="#8aa05a" stroke-width="0.7"/><polyline points="966.4,452.6 962.3,456.4 964.6,456.0 966.4,459.3 968.0,457.9 961.5,453.4" fill="none" stroke="#d84a8a" stroke-width="0.9" stroke-opacity="0.6"/><polyline points="965.0,456.2 964.2,457.8 960.9,456.6 960.3,458.9 967.3,452.0 963.7,453.1" fill="none" stroke="#8a4ad8" stroke-width="0.9" stroke-opacity="0.6"/><ellipse cx="965.1" cy="448.4" rx="6.6" ry="3.7" fill="url(#hl)"/>
<circle cx="974.7" cy="470.2" r="11.3" fill="#444" opacity="0.35"/><circle cx="973.7" cy="468.6" r="11.0" fill="url(#g_y)" stroke="#9a9256" stroke-width="0.7"/><polyline points="975.2,472.2 973.8,470.6 973.9,469.6 973.7,470.7 974.2,467.7 977.4,467.1" fill="none" stroke="#e0a020" stroke-width="0.9" stroke-opacity="0.6"/><polyline points="971.7,474.8 973.0,474.0 977.8,472.2 970.9,466.5 977.0,468.6 976.1,467.6" fill="none" stroke="#40b040" stroke-width="0.9" stroke-opacity="0.6"/><ellipse cx="973.7" cy="462.9" rx="6.6" ry="3.7" fill="url(#hl)"/>
<circle cx="967.0" cy="488.2" r="11.3" fill="#444" opacity="0.35"/><circle cx="966.0" cy="486.6" r="11.0" fill="url(#g_yg)" stroke="#8aa05a" stroke-width="0.7"/><polyline points="963.3,487.7 966.6,488.9 963.4,491.8 960.8,490.8 964.9,487.0 966.0,486.0" fill="none" stroke="#e0a020" stroke-width="0.9" stroke-opacity="0.6"/><polyline points="969.1,487.0 965.5,488.9 964.7,486.1 965.5,486.8 967.0,487.9 965.4,489.8" fill="none" stroke="#d84a8a" stroke-width="0.9" stroke-opacity="0.6"/><ellipse cx="966.0" cy="480.9" rx="6.6" ry="3.7" fill="url(#hl)"/>
<circle cx="998.6" cy="494.2" r="11.3" fill="#444" opacity="0.35"/><circle cx="997.6" cy="492.6" r="11.0" fill="url(#g_b)" stroke="#4a4e98" stroke-width="0.7"/><polyline points="1002.7,496.8 999.8,495.5 999.2,497.5 994.2,493.3 995.5,492.6 996.4,495.2" fill="none" stroke="#e0a020" stroke-width="0.9" stroke-opacity="0.6"/><polyline points="992.2,493.8 997.1,495.9 993.0,491.7 997.7,494.7 1000.1,496.4 996.7,494.1" fill="none" stroke="#40b040" stroke-width="0.9" stroke-opacity="0.6"/><ellipse cx="997.6" cy="486.9" rx="6.6" ry="3.7" fill="url(#hl)"/>
<circle cx="727.4" cy="415.0" r="11.3" fill="#444" opacity="0.35"/><circle cx="726.4" cy="413.4" r="11.0" fill="url(#g_b)" stroke="#4a4e98" stroke-width="0.7"/><polyline points="726.1,415.8 726.9,413.8 731.5,417.5 728.4,417.3 727.4,415.8 724.1,415.8" fill="none" stroke="#d84a8a" stroke-width="0.9" stroke-opacity="0.6"/><polyline points="729.3,413.6 727.9,411.5 730.5,415.4 728.0,416.4 723.3,418.1 724.0,414.4" fill="none" stroke="#d84a8a" stroke-width="0.9" stroke-opacity="0.6"/><ellipse cx="726.4" cy="407.7" rx="6.6" ry="3.7" fill="url(#hl)"/>
<circle cx="722.9" cy="433.0" r="11.3" fill="#444" opacity="0.35"/><circle cx="721.9" cy="431.4" r="11.0" fill="url(#g_lb)" stroke="#4a7ea4" stroke-width="0.7"/><polyline points="723.9,429.8 720.6,429.0 725.5,432.6 722.5,433.3 722.2,433.6 722.5,435.1" fill="none" stroke="#3aa0d8" stroke-width="0.9" stroke-opacity="0.6"/><polyline points="726.5,430.4 722.0,432.2 724.5,432.6 727.8,433.6 722.7,433.2 724.2,433.4" fill="none" stroke="#40b040" stroke-width="0.9" stroke-opacity="0.6"/><ellipse cx="721.9" cy="425.7" rx="6.6" ry="3.7" fill="url(#hl)"/>
<circle cx="722.1" cy="451.1" r="11.3" fill="#444" opacity="0.35"/><circle cx="721.1" cy="449.5" r="11.0" fill="url(#g_g)" stroke="#43915f" stroke-width="0.7"/><polyline points="721.5,451.4 721.4,448.0 720.9,452.0 719.0,451.7 720.7,447.1 719.8,452.4" fill="none" stroke="#3aa0d8" stroke-width="0.9" stroke-opacity="0.6"/><polyline points="718.2,448.6 721.7,451.8 716.3,454.0 723.5,452.3 722.2,456.2 720.5,455.0" fill="none" stroke="#40b040" stroke-width="0.9" stroke-opacity="0.6"/><ellipse cx="721.1" cy="443.8" rx="6.6" ry="3.7" fill="url(#hl)"/>
<circle cx="719.8" cy="470.7" r="10.3" fill="#444" opacity="0.35"/><circle cx="718.8" cy="469.1" r="10.0" fill="url(#g_g)" stroke="#43915f" stroke-width="0.7"/><polyline points="718.7,471.5 713.4,471.7 716.7,470.7 719.3,470.9 716.1,473.9 723.0,471.2" fill="none" stroke="#d84a8a" stroke-width="0.9" stroke-opacity="0.6"/><polyline points="718.8,471.0 713.9,469.5 719.1,470.8 719.8,470.9 718.8,471.0 713.6,470.6" fill="none" stroke="#3aa0d8" stroke-width="0.9" stroke-opacity="0.6"/><ellipse cx="718.8" cy="463.9" rx="6.0" ry="3.4" fill="url(#hl)"/>
<circle cx="717.6" cy="485.6" r="11.3" fill="#444" opacity="0.35"/><circle cx="716.6" cy="484.0" r="11.0" fill="url(#g_lb)" stroke="#4a7ea4" stroke-width="0.7"/><polyline points="720.6,485.1 716.3,486.0 712.9,488.4 713.3,487.1 719.8,484.2 716.5,485.9" fill="none" stroke="#e0a020" stroke-width="0.9" stroke-opacity="0.6"/><polyline points="712.7,487.7 718.5,482.3 711.6,487.8 721.5,486.4 717.6,487.4 716.2,486.9" fill="none" stroke="#8a4ad8" stroke-width="0.9" stroke-opacity="0.6"/><ellipse cx="716.6" cy="478.3" rx="6.6" ry="3.7" fill="url(#hl)"/>
<circle cx="729.6" cy="498.9" r="11.3" fill="#444" opacity="0.35"/><circle cx="728.6" cy="497.3" r="11.0" fill="url(#g_lb)" stroke="#4a7ea4" stroke-width="0.7"/><polyline points="734.5,498.5 729.1,501.3 728.2,501.6 727.7,502.4 729.3,499.9 728.2,499.4" fill="none" stroke="#d06060" stroke-width="0.9" stroke-opacity="0.6"/><polyline points="731.0,499.7 730.9,501.8 728.5,496.9 727.5,501.3 728.1,499.4 726.1,501.5" fill="none" stroke="#40b040" stroke-width="0.9" stroke-opacity="0.6"/><ellipse cx="728.6" cy="491.6" rx="6.6" ry="3.7" fill="url(#hl)"/>
<circle cx="734.2" cy="517.0" r="11.3" fill="#444" opacity="0.35"/><circle cx="733.2" cy="515.4" r="11.0" fill="url(#g_g)" stroke="#43915f" stroke-width="0.7"/><polyline points="734.2,519.3 732.7,521.0 729.9,520.1 735.0,519.4 737.4,516.9 733.8,517.7" fill="none" stroke="#8a4ad8" stroke-width="0.9" stroke-opacity="0.6"/><polyline points="731.7,518.3 736.0,515.9 728.3,518.9 734.0,517.3 733.3,517.4 732.1,518.2" fill="none" stroke="#a040c0" stroke-width="0.9" stroke-opacity="0.6"/><ellipse cx="733.2" cy="509.7" rx="6.6" ry="3.7" fill="url(#hl)"/>
<circle cx="744.7" cy="532.8" r="5.8" fill="#444" opacity="0.35"/><circle cx="743.7" cy="531.2" r="5.5" fill="url(#g_t)" stroke="#318a84" stroke-width="0.7"/><ellipse cx="743.7" cy="528.3" rx="3.3" ry="1.9" fill="url(#hl)"/>
<circle cx="759.0" cy="550.2" r="11.3" fill="#444" opacity="0.35"/><circle cx="758.0" cy="548.6" r="11.0" fill="url(#g_b)" stroke="#4a4e98" stroke-width="0.7"/><polyline points="758.0,550.6 758.3,548.6 754.3,550.5 758.1,550.3 757.8,550.6 756.4,551.7" fill="none" stroke="#a040c0" stroke-width="0.9" stroke-opacity="0.6"/><polyline points="755.5,549.8 758.6,551.0 760.9,549.1 757.4,553.4 756.0,549.5 754.3,553.4" fill="none" stroke="#8a4ad8" stroke-width="0.9" stroke-opacity="0.6"/><ellipse cx="758.0" cy="542.9" rx="6.6" ry="3.7" fill="url(#hl)"/>
<circle cx="795.2" cy="439.8" r="11.3" fill="#444" opacity="0.35"/><circle cx="794.2" cy="438.2" r="11.0" fill="url(#g_lb)" stroke="#4a7ea4" stroke-width="0.7"/><polyline points="794.6,440.0 790.0,441.3 791.9,439.9 795.8,439.5 789.4,438.9 795.6,441.5" fill="none" stroke="#e0a020" stroke-width="0.9" stroke-opacity="0.6"/><polyline points="797.6,440.3 794.0,440.1 794.2,439.6 795.9,439.0 791.5,443.5 793.3,440.3" fill="none" stroke="#40b040" stroke-width="0.9" stroke-opacity="0.6"/><ellipse cx="794.2" cy="432.5" rx="6.6" ry="3.7" fill="url(#hl)"/>
<circle cx="821.6" cy="447.4" r="11.3" fill="#444" opacity="0.35"/><circle cx="820.6" cy="445.8" r="11.0" fill="url(#g_y)" stroke="#9a9256" stroke-width="0.7"/><polyline points="820.2,451.8 818.9,446.5 819.6,446.9 820.2,452.0 815.6,449.4 821.0,448.4" fill="none" stroke="#8a4ad8" stroke-width="0.9" stroke-opacity="0.6"/><polyline points="822.4,446.8 822.6,449.3 819.3,445.0 818.8,445.0 823.1,448.1 817.9,449.1" fill="none" stroke="#8a4ad8" stroke-width="0.9" stroke-opacity="0.6"/><ellipse cx="820.6" cy="440.1" rx="6.6" ry="3.7" fill="url(#hl)"/>
<circle cx="812.5" cy="463.9" r="11.3" fill="#444" opacity="0.35"/><circle cx="811.5" cy="462.3" r="11.0" fill="url(#g_p)" stroke="#a67450" stroke-width="0.7"/><polyline points="810.5,463.6 812.1,464.1 815.3,465.6 811.8,464.5 807.7,465.1 814.9,462.1" fill="none" stroke="#40b040" stroke-width="0.9" stroke-opacity="0.6"/><polyline points="815.5,463.4 811.1,466.2 810.6,466.4 809.9,468.4 809.7,467.2 809.2,464.3" fill="none" stroke="#8a4ad8" stroke-width="0.9" stroke-opacity="0.6"/><ellipse cx="811.5" cy="456.6" rx="6.6" ry="3.7" fill="url(#hl)"/>
<circle cx="808.0" cy="479.0" r="5.3" fill="#444" opacity="0.35"/><circle cx="807.0" cy="477.4" r="5.0" fill="url(#g_p)" stroke="#a67450" stroke-width="0.7"/><ellipse cx="807.0" cy="474.8" rx="3.0" ry="1.7" fill="url(#hl)"/>
<circle cx="824.6" cy="486.1" r="11.3" fill="#444" opacity="0.35"/><circle cx="823.6" cy="484.5" r="11.0" fill="url(#g_pk)" stroke="#a66a68" stroke-width="0.7"/><polyline points="823.9,487.7 824.8,486.2 825.4,487.4 825.9,487.5 820.8,484.3 824.0,487.1" fill="none" stroke="#a040c0" stroke-width="0.9" stroke-opacity="0.6"/><polyline points="825.1,488.6 825.5,485.8 826.2,486.7 820.8,485.6 824.8,486.2 823.7,487.3" fill="none" stroke="#40b040" stroke-width="0.9" stroke-opacity="0.6"/><ellipse cx="823.6" cy="478.8" rx="6.6" ry="3.7" fill="url(#hl)"/>
<circle cx="840.6" cy="423.5" r="5.8" fill="#444" opacity="0.35"/><circle cx="839.6" cy="421.9" r="5.5" fill="url(#g_g)" stroke="#43915f" stroke-width="0.7"/><ellipse cx="839.6" cy="419.0" rx="3.3" ry="1.9" fill="url(#hl)"/>
<circle cx="867.0" cy="419.6" r="12.3" fill="#444" opacity="0.35"/><circle cx="866.0" cy="418.0" r="12.0" fill="url(#g_p)" stroke="#a67450" stroke-width="0.7"/><polyline points="867.2,415.7 865.8,420.5 865.9,421.9 867.3,419.1 863.1,417.5 866.7,419.8" fill="none" stroke="#e0a020" stroke-width="0.9" stroke-opacity="0.6"/><polyline points="866.5,420.3 867.3,418.9 866.0,419.1 866.6,417.2 867.0,421.6 866.1,419.5" fill="none" stroke="#d06060" stroke-width="0.9" stroke-opacity="0.6"/><ellipse cx="866.0" cy="411.8" rx="7.2" ry="4.1" fill="url(#hl)"/>
<circle cx="848.9" cy="439.3" r="5.8" fill="#444" opacity="0.35"/><circle cx="847.9" cy="437.7" r="5.5" fill="url(#g_lg)" stroke="#6a9a58" stroke-width="0.7"/><ellipse cx="847.9" cy="434.8" rx="3.3" ry="1.9" fill="url(#hl)"/>
<circle cx="888.0" cy="433.2" r="11.3" fill="#444" opacity="0.35"/><circle cx="887.0" cy="431.6" r="11.0" fill="url(#g_lg)" stroke="#6a9a58" stroke-width="0.7"/><polyline points="886.7,434.0 891.0,435.0 882.5,435.8 888.7,434.2 889.4,437.7 888.4,429.4" fill="none" stroke="#d06060" stroke-width="0.9" stroke-opacity="0.6"/><polyline points="884.7,434.8 889.3,434.5 890.0,432.6 884.6,430.9 886.0,435.2 889.0,434.4" fill="none" stroke="#e0a020" stroke-width="0.9" stroke-opacity="0.6"/><ellipse cx="887.0" cy="425.9" rx="6.6" ry="3.7" fill="url(#hl)"/>
<circle cx="869.7" cy="449.8" r="5.8" fill="#444" opacity="0.35"/><circle cx="868.7" cy="448.2" r="5.5" fill="url(#g_t)" stroke="#318a84" stroke-width="0.7"/><ellipse cx="868.7" cy="445.3" rx="3.3" ry="1.9" fill="url(#hl)"/>
<circle cx="902.4" cy="452.8" r="11.3" fill="#444" opacity="0.35"/><circle cx="901.4" cy="451.2" r="11.0" fill="url(#g_lg)" stroke="#6a9a58" stroke-width="0.7"/><polyline points="901.5,452.6 900.9,453.1 904.7,453.0 899.9,453.7 895.8,451.7 900.3,453.6" fill="none" stroke="#d84a8a" stroke-width="0.9" stroke-opacity="0.6"/><polyline points="902.2,453.1 900.8,452.5 903.3,457.2 901.3,452.9 899.6,457.1 900.2,452.1" fill="none" stroke="#e0a020" stroke-width="0.9" stroke-opacity="0.6"/><ellipse cx="901.4" cy="445.5" rx="6.6" ry="3.7" fill="url(#hl)"/>
<circle cx="884.3" cy="468.6" r="5.8" fill="#444" opacity="0.35"/><circle cx="883.3" cy="467.0" r="5.5" fill="url(#g_p)" stroke="#a67450" stroke-width="0.7"/><ellipse cx="883.3" cy="464.1" rx="3.3" ry="1.9" fill="url(#hl)"/>
<circle cx="843.6" cy="473.9" r="11.3" fill="#444" opacity="0.35"/><circle cx="842.6" cy="472.3" r="11.0" fill="url(#g_p)" stroke="#a67450" stroke-width="0.7"/><polyline points="845.6,472.9 840.9,474.3 842.5,473.1 838.1,475.0 842.0,473.9 843.8,477.5" fill="none" stroke="#e0a020" stroke-width="0.9" stroke-opacity="0.6"/><polyline points="842.9,472.2 842.8,475.5 839.9,471.6 842.5,476.5 840.4,470.8 840.8,474.5" fill="none" stroke="#a040c0" stroke-width="0.9" stroke-opacity="0.6"/><ellipse cx="842.6" cy="466.6" rx="6.6" ry="3.7" fill="url(#hl)"/>
<circle cx="854.2" cy="490.6" r="11.3" fill="#444" opacity="0.35"/><circle cx="853.2" cy="489.0" r="11.0" fill="url(#g_dt)" stroke="#186c70" stroke-width="0.7"/><polyline points="850.3,488.6 850.0,490.3 853.2,491.1 850.6,489.9 856.1,487.5 849.6,490.6" fill="none" stroke="#3aa0d8" stroke-width="0.9" stroke-opacity="0.6"/><polyline points="850.5,494.7 854.9,492.5 848.1,493.4 855.9,493.3 853.4,487.5 858.9,491.0" fill="none" stroke="#e0a020" stroke-width="0.9" stroke-opacity="0.6"/><ellipse cx="853.2" cy="483.3" rx="6.6" ry="3.7" fill="url(#hl)"/>
<circle cx="913.7" cy="472.4" r="6.3" fill="#444" opacity="0.35"/><circle cx="912.7" cy="470.8" r="6.0" fill="url(#g_lg)" stroke="#6a9a58" stroke-width="0.7"/><ellipse cx="912.7" cy="467.7" rx="3.6" ry="2.0" fill="url(#hl)"/>
<circle cx="871.5" cy="501.1" r="11.3" fill="#444" opacity="0.35"/><circle cx="870.5" cy="499.5" r="11.0" fill="url(#g_dg)" stroke="#1e7044" stroke-width="0.7"/><polyline points="873.0,501.0 869.5,505.4 868.2,500.3 873.2,500.2 868.5,504.4 870.5,501.4" fill="none" stroke="#3aa0d8" stroke-width="0.9" stroke-opacity="0.6"/><polyline points="870.5,501.5 871.7,497.9 870.6,501.3 867.7,501.0 871.4,502.2 875.6,500.8" fill="none" stroke="#e0a020" stroke-width="0.9" stroke-opacity="0.6"/><ellipse cx="870.5" cy="493.8" rx="6.6" ry="3.7" fill="url(#hl)"/>
<circle cx="902.4" cy="489.6" r="11.3" fill="#444" opacity="0.35"/><circle cx="901.4" cy="488.0" r="11.0" fill="url(#g_g)" stroke="#43915f" stroke-width="0.7"/><polyline points="900.2,488.3 903.4,491.2 904.0,487.6 902.5,489.5 901.4,490.3 903.4,489.2" fill="none" stroke="#d84a8a" stroke-width="0.9" stroke-opacity="0.6"/><polyline points="899.9,493.3 898.9,492.1 901.5,487.9 901.3,489.7 901.1,494.1 901.6,490.2" fill="none" stroke="#e0a020" stroke-width="0.9" stroke-opacity="0.6"/><ellipse cx="901.4" cy="482.3" rx="6.6" ry="3.7" fill="url(#hl)"/>
<circle cx="921.0" cy="495.1" r="11.3" fill="#444" opacity="0.35"/><circle cx="920.0" cy="493.5" r="11.0" fill="url(#g_yg)" stroke="#8aa05a" stroke-width="0.7"/><polyline points="920.4,496.4 922.5,499.3 922.3,494.2 919.9,495.9 920.5,492.1 917.9,494.0" fill="none" stroke="#8a4ad8" stroke-width="0.9" stroke-opacity="0.6"/><polyline points="916.7,493.2 922.2,493.1 925.3,496.0 921.2,495.4 921.9,496.2 921.8,496.6" fill="none" stroke="#e0a020" stroke-width="0.9" stroke-opacity="0.6"/><ellipse cx="920.0" cy="487.8" rx="6.6" ry="3.7" fill="url(#hl)"/>
<circle cx="813.3" cy="506.5" r="11.3" fill="#444" opacity="0.35"/><circle cx="812.3" cy="504.9" r="11.0" fill="url(#g_lb)" stroke="#4a7ea4" stroke-width="0.7"/><polyline points="813.4,508.6 812.6,507.0 814.3,510.8 808.7,509.3 814.0,508.1 812.6,507.5" fill="none" stroke="#8a4ad8" stroke-width="0.9" stroke-opacity="0.6"/><polyline points="815.8,510.6 811.8,509.4 813.6,510.1 813.2,505.8 813.5,507.5 808.0,508.7" fill="none" stroke="#40b040" stroke-width="0.9" stroke-opacity="0.6"/><ellipse cx="812.3" cy="499.2" rx="6.6" ry="3.7" fill="url(#hl)"/>
<circle cx="822.4" cy="520.0" r="11.3" fill="#444" opacity="0.35"/><circle cx="821.4" cy="518.4" r="11.0" fill="url(#g_p)" stroke="#a67450" stroke-width="0.7"/><polyline points="819.3,517.7 824.6,518.1 820.3,520.7 820.7,521.5 819.5,517.0 822.5,522.8" fill="none" stroke="#d06060" stroke-width="0.9" stroke-opacity="0.6"/><polyline points="823.4,523.0 820.7,518.4 822.9,517.6 822.8,522.8 819.8,516.0 821.2,517.0" fill="none" stroke="#d06060" stroke-width="0.9" stroke-opacity="0.6"/><ellipse cx="821.4" cy="512.7" rx="6.6" ry="3.7" fill="url(#hl)"/>
<circle cx="838.0" cy="517.8" r="5.3" fill="#444" opacity="0.35"/><circle cx="837.0" cy="516.2" r="5.0" fill="url(#g_pk)" stroke="#a66a68" stroke-width="0.7"/><ellipse cx="837.0" cy="513.6" rx="3.0" ry="1.7" fill="url(#hl)"/>
<circle cx="836.3" cy="533.6" r="5.3" fill="#444" opacity="0.35"/><circle cx="835.3" cy="532.0" r="5.0" fill="url(#g_pk)" stroke="#a66a68" stroke-width="0.7"/><ellipse cx="835.3" cy="529.4" rx="3.0" ry="1.7" fill="url(#hl)"/>
<circle cx="876.8" cy="519.3" r="11.3" fill="#444" opacity="0.35"/><circle cx="875.8" cy="517.7" r="11.0" fill="url(#g_pu)" stroke="#6e58a0" stroke-width="0.7"/><polyline points="880.7,518.6 873.2,523.7 876.6,520.1 876.2,519.7 872.1,517.5 871.0,520.2" fill="none" stroke="#40b040" stroke-width="0.9" stroke-opacity="0.6"/><polyline points="877.3,518.7 878.2,519.3 873.2,521.4 875.9,519.7 875.1,519.8 871.1,519.4" fill="none" stroke="#40b040" stroke-width="0.9" stroke-opacity="0.6"/><ellipse cx="875.8" cy="512.0" rx="6.6" ry="3.7" fill="url(#hl)"/>
<circle cx="896.3" cy="516.3" r="11.3" fill="#444" opacity="0.35"/><circle cx="895.3" cy="514.7" r="11.0" fill="url(#g_g)" stroke="#43915f" stroke-width="0.7"/><polyline points="896.1,519.9 894.8,516.4 895.0,514.7 893.1,520.4 895.6,515.2 895.0,516.2" fill="none" stroke="#40b040" stroke-width="0.9" stroke-opacity="0.6"/><polyline points="898.9,514.3 898.1,514.3 897.8,517.9 896.3,516.0 894.4,518.6 892.7,514.9" fill="none" stroke="#e0a020" stroke-width="0.9" stroke-opacity="0.6"/><ellipse cx="895.3" cy="509.0" rx="6.6" ry="3.7" fill="url(#hl)"/>
<circle cx="914.4" cy="511.7" r="11.3" fill="#444" opacity="0.35"/><circle cx="913.4" cy="510.1" r="11.0" fill="url(#g_g)" stroke="#43915f" stroke-width="0.7"/><polyline points="908.1,511.7 915.1,509.6 915.4,512.9 912.6,512.5 911.6,510.6 918.7,511.8" fill="none" stroke="#a040c0" stroke-width="0.9" stroke-opacity="0.6"/><polyline points="912.2,510.1 917.7,514.5 911.4,515.0 908.4,513.3 914.7,512.5 913.0,513.3" fill="none" stroke="#3aa0d8" stroke-width="0.9" stroke-opacity="0.6"/><ellipse cx="913.4" cy="504.4" rx="6.6" ry="3.7" fill="url(#hl)"/>
<circle cx="848.9" cy="535.8" r="11.3" fill="#444" opacity="0.35"/><circle cx="847.9" cy="534.2" r="11.0" fill="url(#g_p)" stroke="#a67450" stroke-width="0.7"/><polyline points="850.3,534.6 847.3,536.2 842.6,535.9 846.9,536.7 847.1,531.7 848.2,536.4" fill="none" stroke="#d06060" stroke-width="0.9" stroke-opacity="0.6"/><polyline points="849.2,535.2 845.5,538.4 847.0,535.7 843.7,537.4 848.5,536.3 848.1,531.8" fill="none" stroke="#3aa0d8" stroke-width="0.9" stroke-opacity="0.6"/><ellipse cx="847.9" cy="528.5" rx="6.6" ry="3.7" fill="url(#hl)"/>
<circle cx="865.5" cy="538.9" r="11.3" fill="#444" opacity="0.35"/><circle cx="864.5" cy="537.3" r="11.0" fill="url(#g_r)" stroke="#a02e26" stroke-width="0.7"/><polyline points="866.1,538.6 863.8,541.3 864.8,541.4 863.3,542.5 858.6,538.5 862.3,538.6" fill="none" stroke="#8a4ad8" stroke-width="0.9" stroke-opacity="0.6"/><polyline points="860.7,536.5 865.8,541.4 862.9,542.0 868.6,542.1 861.2,542.1 869.8,537.7" fill="none" stroke="#40b040" stroke-width="0.9" stroke-opacity="0.6"/><ellipse cx="864.5" cy="531.6" rx="6.6" ry="3.7" fill="url(#hl)"/>
<circle cx="892.6" cy="531.3" r="11.3" fill="#444" opacity="0.35"/><circle cx="891.6" cy="529.7" r="11.0" fill="url(#g_p)" stroke="#a67450" stroke-width="0.7"/><polyline points="889.4,533.0 891.5,532.4 892.6,529.2 890.9,532.4 891.7,531.7 890.8,530.3" fill="none" stroke="#40b040" stroke-width="0.9" stroke-opacity="0.6"/><polyline points="889.7,530.3 889.5,530.3 891.6,531.9 893.3,528.8 891.7,534.1 888.9,530.5" fill="none" stroke="#d84a8a" stroke-width="0.9" stroke-opacity="0.6"/><ellipse cx="891.6" cy="524.0" rx="6.6" ry="3.7" fill="url(#hl)"/>
<circle cx="969.0" cy="534.2" r="11.3" fill="#444" opacity="0.35"/><circle cx="968.0" cy="532.6" r="11.0" fill="url(#g_lb)" stroke="#4a7ea4" stroke-width="0.7"/><polyline points="968.3,533.1 966.0,537.1 971.0,538.5 970.9,535.3 967.5,537.1 969.3,534.9" fill="none" stroke="#8a4ad8" stroke-width="0.9" stroke-opacity="0.6"/><polyline points="968.3,533.6 967.8,534.6 968.8,535.2 969.9,534.5 968.0,534.9 972.6,537.7" fill="none" stroke="#3aa0d8" stroke-width="0.9" stroke-opacity="0.6"/><ellipse cx="968.0" cy="526.9" rx="6.6" ry="3.7" fill="url(#hl)"/>
<circle cx="877.9" cy="623.4" r="11.3" fill="#444" opacity="0.35"/><circle cx="876.9" cy="621.8" r="11.0" fill="url(#g_t)" stroke="#318a84" stroke-width="0.7"/><polyline points="872.1,621.5 875.7,625.1 872.9,625.8 876.1,625.6 877.2,628.5 879.3,620.6" fill="none" stroke="#a040c0" stroke-width="0.9" stroke-opacity="0.6"/><polyline points="879.9,620.5 876.3,620.3 879.8,622.4 874.3,625.7 876.9,624.0 876.7,626.0" fill="none" stroke="#40b040" stroke-width="0.9" stroke-opacity="0.6"/><ellipse cx="876.9" cy="616.1" rx="6.6" ry="3.7" fill="url(#hl)"/>
<circle cx="898.0" cy="622.5" r="11.3" fill="#444" opacity="0.35"/><circle cx="897.0" cy="620.9" r="11.0" fill="url(#g_t)" stroke="#318a84" stroke-width="0.7"/><polyline points="896.7,618.4 896.4,624.0 897.0,622.9 897.0,622.9 900.0,622.1 896.0,623.9" fill="none" stroke="#8a4ad8" stroke-width="0.9" stroke-opacity="0.6"/><polyline points="899.9,619.9 896.7,623.6 900.5,623.1 897.0,622.9 896.6,623.9 898.1,626.0" fill="none" stroke="#d84a8a" stroke-width="0.9" stroke-opacity="0.6"/><ellipse cx="897.0" cy="615.2" rx="6.6" ry="3.7" fill="url(#hl)"/>
<circle cx="935.4" cy="609.0" r="11.3" fill="#444" opacity="0.35"/><circle cx="934.4" cy="607.4" r="11.0" fill="url(#g_b)" stroke="#4a4e98" stroke-width="0.7"/><polyline points="935.4,613.4 937.4,612.2 936.2,612.0 930.6,606.7 933.3,608.8 932.7,610.0" fill="none" stroke="#e0a020" stroke-width="0.9" stroke-opacity="0.6"/><polyline points="935.4,609.8 931.2,610.0 938.1,611.4 932.8,611.3 929.4,608.8 933.3,612.0" fill="none" stroke="#3aa0d8" stroke-width="0.9" stroke-opacity="0.6"/><ellipse cx="934.4" cy="601.7" rx="6.6" ry="3.7" fill="url(#hl)"/>
<circle cx="950.8" cy="599.4" r="11.3" fill="#444" opacity="0.35"/><circle cx="949.8" cy="597.8" r="11.0" fill="url(#g_t)" stroke="#318a84" stroke-width="0.7"/><polyline points="952.4,603.0 946.1,602.6 952.0,597.4 949.2,600.6 946.2,598.9 949.6,596.8" fill="none" stroke="#e0a020" stroke-width="0.9" stroke-opacity="0.6"/><polyline points="952.8,600.1 949.7,599.9 949.7,600.6 945.3,602.4 951.7,600.6 948.5,597.0" fill="none" stroke="#d06060" stroke-width="0.9" stroke-opacity="0.6"/><ellipse cx="949.8" cy="592.1" rx="6.6" ry="3.7" fill="url(#hl)"/>
<circle cx="712.0" cy="615.7" r="11.3" fill="#444" opacity="0.35"/><circle cx="711.0" cy="614.1" r="11.0" fill="url(#g_db)" stroke="#26337a" stroke-width="0.7"/><polyline points="706.5,613.3 711.8,614.4 711.1,615.8 706.3,619.0 706.5,618.5 716.7,615.7" fill="none" stroke="#8a4ad8" stroke-width="0.9" stroke-opacity="0.6"/><polyline points="711.7,611.5 710.8,616.0 707.0,616.0 709.0,619.0 708.5,618.3 707.9,614.0" fill="none" stroke="#8a4ad8" stroke-width="0.9" stroke-opacity="0.6"/><ellipse cx="711.0" cy="608.4" rx="6.6" ry="3.7" fill="url(#hl)"/>
<circle cx="764.9" cy="622.9" r="11.3" fill="#444" opacity="0.35"/><circle cx="763.9" cy="621.3" r="11.0" fill="url(#g_lg)" stroke="#6a9a58" stroke-width="0.7"/><polyline points="762.8,620.0 763.5,622.2 761.1,621.3 768.1,624.7 764.3,625.7 759.6,622.8" fill="none" stroke="#40b040" stroke-width="0.9" stroke-opacity="0.6"/><polyline points="765.0,621.1 760.1,623.5 764.0,624.4 763.6,622.3 764.3,623.8 761.2,624.1" fill="none" stroke="#d06060" stroke-width="0.9" stroke-opacity="0.6"/><ellipse cx="763.9" cy="615.6" rx="6.6" ry="3.7" fill="url(#hl)"/>
<circle cx="812.9" cy="643.7" r="11.3" fill="#444" opacity="0.35"/><circle cx="811.9" cy="642.1" r="11.0" fill="url(#g_p)" stroke="#a67450" stroke-width="0.7"/><polyline points="813.2,640.1 813.7,646.0 808.7,641.9 816.6,643.1 812.1,643.8 807.0,646.1" fill="none" stroke="#a040c0" stroke-width="0.9" stroke-opacity="0.6"/><polyline points="812.0,642.5 812.3,641.5 810.0,641.4 814.8,641.5 814.8,643.7 807.9,644.2" fill="none" stroke="#8a4ad8" stroke-width="0.9" stroke-opacity="0.6"/><ellipse cx="811.9" cy="636.4" rx="6.6" ry="3.7" fill="url(#hl)"/>
<circle cx="756.5" cy="660.6" r="11.3" fill="#444" opacity="0.35"/><circle cx="755.5" cy="659.0" r="11.0" fill="url(#g_sa)" stroke="#984a40" stroke-width="0.7"/><polyline points="753.4,664.3 755.5,661.0 756.7,660.9 754.0,660.6 756.9,660.8 754.2,659.1" fill="none" stroke="#e0a020" stroke-width="0.9" stroke-opacity="0.6"/><polyline points="750.6,659.2 753.5,661.2 755.4,662.8 756.2,661.0 756.6,662.2 756.2,656.5" fill="none" stroke="#8a4ad8" stroke-width="0.9" stroke-opacity="0.6"/><ellipse cx="755.5" cy="653.3" rx="6.6" ry="3.7" fill="url(#hl)"/>
<circle cx="822.7" cy="680.2" r="11.3" fill="#444" opacity="0.35"/><circle cx="821.7" cy="678.6" r="11.0" fill="url(#g_b)" stroke="#4a4e98" stroke-width="0.7"/><polyline points="822.3,675.8 824.4,682.2 821.6,683.2 821.5,680.4 819.1,677.0 823.2,681.5" fill="none" stroke="#3aa0d8" stroke-width="0.9" stroke-opacity="0.6"/><polyline points="816.6,679.5 819.4,684.8 826.9,681.8 821.7,680.6 821.3,685.4 820.8,677.1" fill="none" stroke="#d84a8a" stroke-width="0.9" stroke-opacity="0.6"/><ellipse cx="821.7" cy="672.9" rx="6.6" ry="3.7" fill="url(#hl)"/>
<text x="871.5" y="327.0" class="nl">Magoh</text>
<text x="894.3" y="328.5" class="nl">Upf3b</text>
<text x="913.9" y="327.0" class="nl">Gm9825</text>
<text x="943.3" y="333.0" class="nl">Rbm8a</text>
<text x="930.5" y="340.5" class="nl">Gm5698</text>
<text x="964.3" y="345.8" class="nl">Cpsf2</text>
<text x="824.8" y="354.9" class="nl">Snrpd1</text>
<text x="843.5" y="352.2" class="nl">Gm5449</text>
<text x="868.5" y="352.6" class="nl">Ncbp1</text>
<text x="921.4" y="357.6" class="nl">Gm6763</text>
<text x="947.8" y="358.3" class="nl">Gm6489</text>
<text x="812.0" y="368.2" class="nl">Snrpd2</text>
<text x="885.0" y="366.9" class="nl">Ncbp2</text>
<text x="966.6" y="367.7" class="nl">Gm43</text>
<text x="984.7" y="369.2" class="nl">Cpsf3</text>
<text x="845.1" y="373.2" class="nl">Snrpe</text>
<text x="829.3" y="382.7" class="nl">Snrpf</text>
<text x="949.3" y="382.2" class="nl">Gm4302</text>
<text x="815.0" y="387.7" class="nl">Snrpd3</text>
<text x="984.7" y="388.7" class="nl">Cpsf1</text>
<text x="812.0" y="400.8" class="nl">Snrpb</text>
<text x="969.6" y="399.7" class="nl">Gm9476</text>
<text x="998.2" y="399.2" class="nl">Srrm1</text>
<text x="745.2" y="403.5" class="nl">Smn1</text>
<text x="912.0" y="409.7" class="nl">ENSMUSG00000072878</text>
<text x="854.7" y="416.5" class="nl">Nup88</text>
<text x="982.2" y="421.2" class="nl">Gm8764</text>
<text x="1002.0" y="419.5" class="nl">Alyref</text>
<text x="743.0" y="422.3" class="nl">Gemin7</text>
<text x="906.6" y="423.3" class="nl">Nup54</text>
<text x="810.8" y="427.6" class="nl">Nxf1</text>
<text x="864.5" y="432.3" class="nl">Nup210</text>
<text x="841.9" y="436.6" class="nl">Nup153</text>
<text x="1001.9" y="438.0" class="nl">Rnps1</text>
<text x="740.0" y="440.4" class="nl">Ddx20</text>
<text x="918.7" y="441.7" class="nl">Rae1</text>
<text x="885.5" y="442.9" class="nl">Pom121</text>
<text x="983.0" y="444.3" class="nl">Alyref2</text>
<text x="828.0" y="452.5" class="nl">Nup43</text>
<text x="995.9" y="460.2" class="nl">Gm4781</text>
<text x="737.7" y="462.2" class="nl">Phax</text>
<text x="860.0" y="462.5" class="nl">Nup37</text>
<text x="899.9" y="462.2" class="nl">Nup205</text>
<text x="930.0" y="466.7" class="nl">Nup188</text>
<text x="737.0" y="472.8" class="nl">Snupn</text>
<text x="821.3" y="472.8" class="nl">Nup85</text>
<text x="845.6" y="474.8" class="nl">Ranbp2</text>
<text x="988.2" y="476.0" class="nl">Gm5699</text>
<text x="918.7" y="476.8" class="nl">Aaas</text>
<text x="874.2" y="479.4" class="nl">Nup107</text>
<text x="1015.6" y="482.8" class="nl">Eif4e</text>
<text x="942.0" y="484.3" class="nl">Nup155</text>
<text x="750.5" y="487.7" class="nl">Gemin6</text>
<text x="890.8" y="489.2" class="nl">Nup98</text>
<text x="831.3" y="495.7" class="nl">Nupl2</text>
<text x="933.8" y="500.2" class="nl">Nupl1</text>
<text x="755.0" y="505.6" class="nl">Gemin5</text>
<text x="840.3" y="507.7" class="nl">Nup50</text>
<text x="897.6" y="507.5" class="nl">Nup133</text>
<text x="916.4" y="507.1" class="nl">Seh1l</text>
<text x="851.6" y="512.3" class="nl">Nup62</text>
<text x="911.2" y="519.9" class="nl">Nup93</text>
<text x="872.7" y="522.6" class="nl">Nup214</text>
<text x="984.3" y="522.3" class="nl">Slbp</text>
<text x="760.3" y="526.7" class="nl">Gemin4</text>
<text x="880.3" y="527.4" class="nl">Tpr</text>
<text x="852.4" y="527.1" class="nl">Nup160</text>
<text x="774.6" y="538.2" class="nl">Sip1</text>
<text x="967.0" y="587.6" class="nl">Gckr</text>
<text x="951.7" y="597.2" class="nl">Nek6</text>
<text x="730.0" y="603.9" class="nl">Senp2</text>
<text x="783.4" y="610.5" class="nl">Sec13</text>
<text x="915.2" y="609.6" class="nl">Nek9</text>
<text x="893.2" y="611.9" class="nl">Gck</text>
<text x="830.6" y="632.7" class="nl">Ahctf1</text>
<text x="776.3" y="650.2" class="nl">Ddx19a</text>
<text x="837.7" y="668.9" class="nl">Nxt1</text>
<text x="976.5" y="673.6" class="bigc">C</text>
</g>
</svg>
</body></html>
